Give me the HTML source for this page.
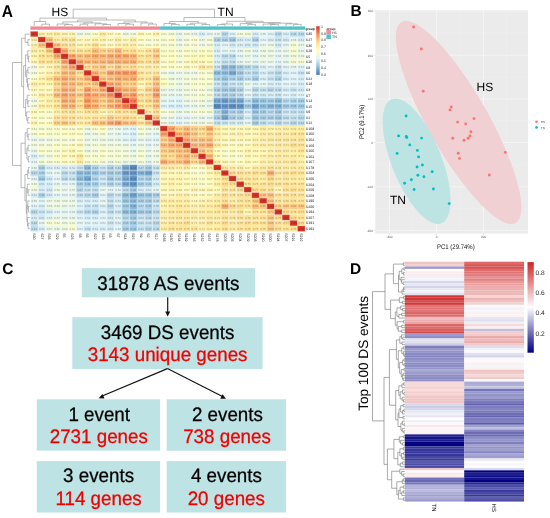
<!DOCTYPE html>
<html><head><meta charset="utf-8"><style>html,body{margin:0;padding:0;background:#fff;width:550px;height:518px;overflow:hidden}svg{display:block;will-change:transform;filter:blur(0.35px)}text{text-rendering:geometricPrecision}</style></head>
<body><svg width="550" height="518" viewBox="0 0 550 518">
<g id="heatA">
<rect x="30.40" y="31.30" width="7.63" height="5.56" fill="#d73027"/>
<rect x="38.03" y="31.30" width="7.63" height="5.56" fill="#fff4af"/>
<rect x="45.66" y="31.30" width="7.63" height="5.56" fill="#fff2ab"/>
<rect x="53.29" y="31.30" width="7.63" height="5.56" fill="#feeca3"/>
<rect x="60.92" y="31.30" width="7.63" height="5.56" fill="#fff4af"/>
<rect x="68.55" y="31.30" width="7.63" height="5.56" fill="#fff4af"/>
<rect x="76.18" y="31.30" width="7.63" height="5.56" fill="#ecf8e1"/>
<rect x="83.81" y="31.30" width="7.63" height="5.56" fill="#eff9dc"/>
<rect x="91.44" y="31.30" width="7.63" height="5.56" fill="#fcfec4"/>
<rect x="99.07" y="31.30" width="7.63" height="5.56" fill="#feeca3"/>
<rect x="106.70" y="31.30" width="7.63" height="5.56" fill="#fffab7"/>
<rect x="114.33" y="31.30" width="7.63" height="5.56" fill="#ffffbf"/>
<rect x="121.96" y="31.30" width="7.63" height="5.56" fill="#ecf8e1"/>
<rect x="129.59" y="31.30" width="7.63" height="5.56" fill="#f2fad7"/>
<rect x="137.22" y="31.30" width="7.63" height="5.56" fill="#fff7b3"/>
<rect x="144.85" y="31.30" width="7.63" height="5.56" fill="#ffffbf"/>
<rect x="152.48" y="31.30" width="7.63" height="5.56" fill="#fff2ab"/>
<rect x="160.11" y="31.30" width="7.63" height="5.56" fill="#f7fcce"/>
<rect x="167.74" y="31.30" width="7.63" height="5.56" fill="#f2fad7"/>
<rect x="175.37" y="31.30" width="7.63" height="5.56" fill="#e7f6eb"/>
<rect x="183.00" y="31.30" width="7.63" height="5.56" fill="#f2fad7"/>
<rect x="190.63" y="31.30" width="7.63" height="5.56" fill="#e7f6eb"/>
<rect x="198.26" y="31.30" width="7.63" height="5.56" fill="#d7edf5"/>
<rect x="205.89" y="31.30" width="7.63" height="5.56" fill="#e2f4f5"/>
<rect x="213.52" y="31.30" width="7.63" height="5.56" fill="#e7f6eb"/>
<rect x="221.15" y="31.30" width="7.63" height="5.56" fill="#b5d7e8"/>
<rect x="228.78" y="31.30" width="7.63" height="5.56" fill="#def2f7"/>
<rect x="236.41" y="31.30" width="7.63" height="5.56" fill="#f2fad7"/>
<rect x="244.04" y="31.30" width="7.63" height="5.56" fill="#eff9dc"/>
<rect x="251.67" y="31.30" width="7.63" height="5.56" fill="#d7edf5"/>
<rect x="259.30" y="31.30" width="7.63" height="5.56" fill="#e4f5f0"/>
<rect x="266.93" y="31.30" width="7.63" height="5.56" fill="#def2f7"/>
<rect x="274.56" y="31.30" width="7.63" height="5.56" fill="#b5d7e8"/>
<rect x="282.19" y="31.30" width="7.63" height="5.56" fill="#d7edf5"/>
<rect x="289.82" y="31.30" width="7.63" height="5.56" fill="#bcdbeb"/>
<rect x="297.45" y="31.30" width="7.63" height="5.56" fill="#bcdbeb"/>
<rect x="30.40" y="36.86" width="7.63" height="5.56" fill="#fff4af"/>
<rect x="38.03" y="36.86" width="7.63" height="5.56" fill="#d73027"/>
<rect x="45.66" y="36.86" width="7.63" height="5.56" fill="#fdc880"/>
<rect x="53.29" y="36.86" width="7.63" height="5.56" fill="#feefa7"/>
<rect x="60.92" y="36.86" width="7.63" height="5.56" fill="#fee293"/>
<rect x="68.55" y="36.86" width="7.63" height="5.56" fill="#fee293"/>
<rect x="76.18" y="36.86" width="7.63" height="5.56" fill="#fffab7"/>
<rect x="83.81" y="36.86" width="7.63" height="5.56" fill="#fffab7"/>
<rect x="91.44" y="36.86" width="7.63" height="5.56" fill="#fff2ab"/>
<rect x="99.07" y="36.86" width="7.63" height="5.56" fill="#fff2ab"/>
<rect x="106.70" y="36.86" width="7.63" height="5.56" fill="#fffab7"/>
<rect x="114.33" y="36.86" width="7.63" height="5.56" fill="#feeca3"/>
<rect x="121.96" y="36.86" width="7.63" height="5.56" fill="#fffab7"/>
<rect x="129.59" y="36.86" width="7.63" height="5.56" fill="#feeca3"/>
<rect x="137.22" y="36.86" width="7.63" height="5.56" fill="#ffffbf"/>
<rect x="144.85" y="36.86" width="7.63" height="5.56" fill="#fafdc9"/>
<rect x="152.48" y="36.86" width="7.63" height="5.56" fill="#fcfec4"/>
<rect x="160.11" y="36.86" width="7.63" height="5.56" fill="#f4fbd3"/>
<rect x="167.74" y="36.86" width="7.63" height="5.56" fill="#ffffbf"/>
<rect x="175.37" y="36.86" width="7.63" height="5.56" fill="#e7f6eb"/>
<rect x="183.00" y="36.86" width="7.63" height="5.56" fill="#f4fbd3"/>
<rect x="190.63" y="36.86" width="7.63" height="5.56" fill="#fcfec4"/>
<rect x="198.26" y="36.86" width="7.63" height="5.56" fill="#eaf7e6"/>
<rect x="205.89" y="36.86" width="7.63" height="5.56" fill="#f4fbd3"/>
<rect x="213.52" y="36.86" width="7.63" height="5.56" fill="#aed2e6"/>
<rect x="221.15" y="36.86" width="7.63" height="5.56" fill="#aed2e6"/>
<rect x="228.78" y="36.86" width="7.63" height="5.56" fill="#a1c9e1"/>
<rect x="236.41" y="36.86" width="7.63" height="5.56" fill="#d0e9f2"/>
<rect x="244.04" y="36.86" width="7.63" height="5.56" fill="#d7edf5"/>
<rect x="251.67" y="36.86" width="7.63" height="5.56" fill="#aed2e6"/>
<rect x="259.30" y="36.86" width="7.63" height="5.56" fill="#e2f4f5"/>
<rect x="266.93" y="36.86" width="7.63" height="5.56" fill="#d7edf5"/>
<rect x="274.56" y="36.86" width="7.63" height="5.56" fill="#c9e4f0"/>
<rect x="282.19" y="36.86" width="7.63" height="5.56" fill="#d0e9f2"/>
<rect x="289.82" y="36.86" width="7.63" height="5.56" fill="#e7f6eb"/>
<rect x="297.45" y="36.86" width="7.63" height="5.56" fill="#d7edf5"/>
<rect x="30.40" y="42.42" width="7.63" height="5.56" fill="#fff2ab"/>
<rect x="38.03" y="42.42" width="7.63" height="5.56" fill="#fdc880"/>
<rect x="45.66" y="42.42" width="7.63" height="5.56" fill="#d73027"/>
<rect x="53.29" y="42.42" width="7.63" height="5.56" fill="#fdc880"/>
<rect x="60.92" y="42.42" width="7.63" height="5.56" fill="#fee293"/>
<rect x="68.55" y="42.42" width="7.63" height="5.56" fill="#fee497"/>
<rect x="76.18" y="42.42" width="7.63" height="5.56" fill="#fff7b3"/>
<rect x="83.81" y="42.42" width="7.63" height="5.56" fill="#fff2ab"/>
<rect x="91.44" y="42.42" width="7.63" height="5.56" fill="#fee293"/>
<rect x="99.07" y="42.42" width="7.63" height="5.56" fill="#fff7b3"/>
<rect x="106.70" y="42.42" width="7.63" height="5.56" fill="#fffab7"/>
<rect x="114.33" y="42.42" width="7.63" height="5.56" fill="#fff2ab"/>
<rect x="121.96" y="42.42" width="7.63" height="5.56" fill="#feefa7"/>
<rect x="129.59" y="42.42" width="7.63" height="5.56" fill="#feefa7"/>
<rect x="137.22" y="42.42" width="7.63" height="5.56" fill="#fafdc9"/>
<rect x="144.85" y="42.42" width="7.63" height="5.56" fill="#fafdc9"/>
<rect x="152.48" y="42.42" width="7.63" height="5.56" fill="#ffffbf"/>
<rect x="160.11" y="42.42" width="7.63" height="5.56" fill="#f7fcce"/>
<rect x="167.74" y="42.42" width="7.63" height="5.56" fill="#f7fcce"/>
<rect x="175.37" y="42.42" width="7.63" height="5.56" fill="#ecf8e1"/>
<rect x="183.00" y="42.42" width="7.63" height="5.56" fill="#f4fbd3"/>
<rect x="190.63" y="42.42" width="7.63" height="5.56" fill="#f7fcce"/>
<rect x="198.26" y="42.42" width="7.63" height="5.56" fill="#eff9dc"/>
<rect x="205.89" y="42.42" width="7.63" height="5.56" fill="#f2fad7"/>
<rect x="213.52" y="42.42" width="7.63" height="5.56" fill="#d7edf5"/>
<rect x="221.15" y="42.42" width="7.63" height="5.56" fill="#e2f4f5"/>
<rect x="228.78" y="42.42" width="7.63" height="5.56" fill="#d0e9f2"/>
<rect x="236.41" y="42.42" width="7.63" height="5.56" fill="#d7edf5"/>
<rect x="244.04" y="42.42" width="7.63" height="5.56" fill="#d0e9f2"/>
<rect x="251.67" y="42.42" width="7.63" height="5.56" fill="#d0e9f2"/>
<rect x="259.30" y="42.42" width="7.63" height="5.56" fill="#eaf7e6"/>
<rect x="266.93" y="42.42" width="7.63" height="5.56" fill="#ecf8e1"/>
<rect x="274.56" y="42.42" width="7.63" height="5.56" fill="#d0e9f2"/>
<rect x="282.19" y="42.42" width="7.63" height="5.56" fill="#e4f5f0"/>
<rect x="289.82" y="42.42" width="7.63" height="5.56" fill="#f4fbd3"/>
<rect x="297.45" y="42.42" width="7.63" height="5.56" fill="#eaf7e6"/>
<rect x="30.40" y="47.98" width="7.63" height="5.56" fill="#feeca3"/>
<rect x="38.03" y="47.98" width="7.63" height="5.56" fill="#feefa7"/>
<rect x="45.66" y="47.98" width="7.63" height="5.56" fill="#fdc880"/>
<rect x="53.29" y="47.98" width="7.63" height="5.56" fill="#d73027"/>
<rect x="60.92" y="47.98" width="7.63" height="5.56" fill="#fdac6d"/>
<rect x="68.55" y="47.98" width="7.63" height="5.56" fill="#fee293"/>
<rect x="76.18" y="47.98" width="7.63" height="5.56" fill="#fee497"/>
<rect x="83.81" y="47.98" width="7.63" height="5.56" fill="#fee293"/>
<rect x="91.44" y="47.98" width="7.63" height="5.56" fill="#fdc17c"/>
<rect x="99.07" y="47.98" width="7.63" height="5.56" fill="#fed78a"/>
<rect x="106.70" y="47.98" width="7.63" height="5.56" fill="#fecf85"/>
<rect x="114.33" y="47.98" width="7.63" height="5.56" fill="#fdba77"/>
<rect x="121.96" y="47.98" width="7.63" height="5.56" fill="#fee497"/>
<rect x="129.59" y="47.98" width="7.63" height="5.56" fill="#fee293"/>
<rect x="137.22" y="47.98" width="7.63" height="5.56" fill="#feefa7"/>
<rect x="144.85" y="47.98" width="7.63" height="5.56" fill="#fee497"/>
<rect x="152.48" y="47.98" width="7.63" height="5.56" fill="#fecf85"/>
<rect x="160.11" y="47.98" width="7.63" height="5.56" fill="#fafdc9"/>
<rect x="167.74" y="47.98" width="7.63" height="5.56" fill="#fafdc9"/>
<rect x="175.37" y="47.98" width="7.63" height="5.56" fill="#f2fad7"/>
<rect x="183.00" y="47.98" width="7.63" height="5.56" fill="#fcfec4"/>
<rect x="190.63" y="47.98" width="7.63" height="5.56" fill="#f7fcce"/>
<rect x="198.26" y="47.98" width="7.63" height="5.56" fill="#fcfec4"/>
<rect x="205.89" y="47.98" width="7.63" height="5.56" fill="#fafdc9"/>
<rect x="213.52" y="47.98" width="7.63" height="5.56" fill="#d7edf5"/>
<rect x="221.15" y="47.98" width="7.63" height="5.56" fill="#e7f6eb"/>
<rect x="228.78" y="47.98" width="7.63" height="5.56" fill="#e2f4f5"/>
<rect x="236.41" y="47.98" width="7.63" height="5.56" fill="#e4f5f0"/>
<rect x="244.04" y="47.98" width="7.63" height="5.56" fill="#eff9dc"/>
<rect x="251.67" y="47.98" width="7.63" height="5.56" fill="#e2f4f5"/>
<rect x="259.30" y="47.98" width="7.63" height="5.56" fill="#ecf8e1"/>
<rect x="266.93" y="47.98" width="7.63" height="5.56" fill="#ecf8e1"/>
<rect x="274.56" y="47.98" width="7.63" height="5.56" fill="#e2f4f5"/>
<rect x="282.19" y="47.98" width="7.63" height="5.56" fill="#eaf7e6"/>
<rect x="289.82" y="47.98" width="7.63" height="5.56" fill="#f7fcce"/>
<rect x="297.45" y="47.98" width="7.63" height="5.56" fill="#e7f6eb"/>
<rect x="30.40" y="53.54" width="7.63" height="5.56" fill="#fff4af"/>
<rect x="38.03" y="53.54" width="7.63" height="5.56" fill="#fee293"/>
<rect x="45.66" y="53.54" width="7.63" height="5.56" fill="#fee293"/>
<rect x="53.29" y="53.54" width="7.63" height="5.56" fill="#fdac6d"/>
<rect x="60.92" y="53.54" width="7.63" height="5.56" fill="#d73027"/>
<rect x="68.55" y="53.54" width="7.63" height="5.56" fill="#fda569"/>
<rect x="76.18" y="53.54" width="7.63" height="5.56" fill="#fdc17c"/>
<rect x="83.81" y="53.54" width="7.63" height="5.56" fill="#fdba77"/>
<rect x="91.44" y="53.54" width="7.63" height="5.56" fill="#fdac6d"/>
<rect x="99.07" y="53.54" width="7.63" height="5.56" fill="#fdb372"/>
<rect x="106.70" y="53.54" width="7.63" height="5.56" fill="#fdac6d"/>
<rect x="114.33" y="53.54" width="7.63" height="5.56" fill="#fda569"/>
<rect x="121.96" y="53.54" width="7.63" height="5.56" fill="#fdac6d"/>
<rect x="129.59" y="53.54" width="7.63" height="5.56" fill="#fdb372"/>
<rect x="137.22" y="53.54" width="7.63" height="5.56" fill="#fee497"/>
<rect x="144.85" y="53.54" width="7.63" height="5.56" fill="#fede8e"/>
<rect x="152.48" y="53.54" width="7.63" height="5.56" fill="#fdc880"/>
<rect x="160.11" y="53.54" width="7.63" height="5.56" fill="#fcfec4"/>
<rect x="167.74" y="53.54" width="7.63" height="5.56" fill="#ffffbf"/>
<rect x="175.37" y="53.54" width="7.63" height="5.56" fill="#f4fbd3"/>
<rect x="183.00" y="53.54" width="7.63" height="5.56" fill="#fcfec4"/>
<rect x="190.63" y="53.54" width="7.63" height="5.56" fill="#fffab7"/>
<rect x="198.26" y="53.54" width="7.63" height="5.56" fill="#fffab7"/>
<rect x="205.89" y="53.54" width="7.63" height="5.56" fill="#fffcbb"/>
<rect x="213.52" y="53.54" width="7.63" height="5.56" fill="#d7edf5"/>
<rect x="221.15" y="53.54" width="7.63" height="5.56" fill="#bcdbeb"/>
<rect x="228.78" y="53.54" width="7.63" height="5.56" fill="#bcdbeb"/>
<rect x="236.41" y="53.54" width="7.63" height="5.56" fill="#e2f4f5"/>
<rect x="244.04" y="53.54" width="7.63" height="5.56" fill="#eaf7e6"/>
<rect x="251.67" y="53.54" width="7.63" height="5.56" fill="#e2f4f5"/>
<rect x="259.30" y="53.54" width="7.63" height="5.56" fill="#ecf8e1"/>
<rect x="266.93" y="53.54" width="7.63" height="5.56" fill="#eaf7e6"/>
<rect x="274.56" y="53.54" width="7.63" height="5.56" fill="#e2f4f5"/>
<rect x="282.19" y="53.54" width="7.63" height="5.56" fill="#e7f6eb"/>
<rect x="289.82" y="53.54" width="7.63" height="5.56" fill="#eff9dc"/>
<rect x="297.45" y="53.54" width="7.63" height="5.56" fill="#ecf8e1"/>
<rect x="30.40" y="59.10" width="7.63" height="5.56" fill="#fff4af"/>
<rect x="38.03" y="59.10" width="7.63" height="5.56" fill="#fee293"/>
<rect x="45.66" y="59.10" width="7.63" height="5.56" fill="#fee497"/>
<rect x="53.29" y="59.10" width="7.63" height="5.56" fill="#fee293"/>
<rect x="60.92" y="59.10" width="7.63" height="5.56" fill="#fda569"/>
<rect x="68.55" y="59.10" width="7.63" height="5.56" fill="#d73027"/>
<rect x="76.18" y="59.10" width="7.63" height="5.56" fill="#fda569"/>
<rect x="83.81" y="59.10" width="7.63" height="5.56" fill="#fdba77"/>
<rect x="91.44" y="59.10" width="7.63" height="5.56" fill="#fdba77"/>
<rect x="99.07" y="59.10" width="7.63" height="5.56" fill="#fdba77"/>
<rect x="106.70" y="59.10" width="7.63" height="5.56" fill="#fdb372"/>
<rect x="114.33" y="59.10" width="7.63" height="5.56" fill="#fdb372"/>
<rect x="121.96" y="59.10" width="7.63" height="5.56" fill="#fdb372"/>
<rect x="129.59" y="59.10" width="7.63" height="5.56" fill="#fdb372"/>
<rect x="137.22" y="59.10" width="7.63" height="5.56" fill="#fee293"/>
<rect x="144.85" y="59.10" width="7.63" height="5.56" fill="#fee293"/>
<rect x="152.48" y="59.10" width="7.63" height="5.56" fill="#fed78a"/>
<rect x="160.11" y="59.10" width="7.63" height="5.56" fill="#f7fcce"/>
<rect x="167.74" y="59.10" width="7.63" height="5.56" fill="#fffab7"/>
<rect x="175.37" y="59.10" width="7.63" height="5.56" fill="#f2fad7"/>
<rect x="183.00" y="59.10" width="7.63" height="5.56" fill="#fffcbb"/>
<rect x="190.63" y="59.10" width="7.63" height="5.56" fill="#fff2ab"/>
<rect x="198.26" y="59.10" width="7.63" height="5.56" fill="#fff7b3"/>
<rect x="205.89" y="59.10" width="7.63" height="5.56" fill="#fffcbb"/>
<rect x="213.52" y="59.10" width="7.63" height="5.56" fill="#d7edf5"/>
<rect x="221.15" y="59.10" width="7.63" height="5.56" fill="#c3e0ed"/>
<rect x="228.78" y="59.10" width="7.63" height="5.56" fill="#c3e0ed"/>
<rect x="236.41" y="59.10" width="7.63" height="5.56" fill="#e4f5f0"/>
<rect x="244.04" y="59.10" width="7.63" height="5.56" fill="#eaf7e6"/>
<rect x="251.67" y="59.10" width="7.63" height="5.56" fill="#e4f5f0"/>
<rect x="259.30" y="59.10" width="7.63" height="5.56" fill="#eaf7e6"/>
<rect x="266.93" y="59.10" width="7.63" height="5.56" fill="#eaf7e6"/>
<rect x="274.56" y="59.10" width="7.63" height="5.56" fill="#e2f4f5"/>
<rect x="282.19" y="59.10" width="7.63" height="5.56" fill="#e7f6eb"/>
<rect x="289.82" y="59.10" width="7.63" height="5.56" fill="#f4fbd3"/>
<rect x="297.45" y="59.10" width="7.63" height="5.56" fill="#f7fcce"/>
<rect x="30.40" y="64.66" width="7.63" height="5.56" fill="#ecf8e1"/>
<rect x="38.03" y="64.66" width="7.63" height="5.56" fill="#fffab7"/>
<rect x="45.66" y="64.66" width="7.63" height="5.56" fill="#fff7b3"/>
<rect x="53.29" y="64.66" width="7.63" height="5.56" fill="#fee497"/>
<rect x="60.92" y="64.66" width="7.63" height="5.56" fill="#fdc17c"/>
<rect x="68.55" y="64.66" width="7.63" height="5.56" fill="#fda569"/>
<rect x="76.18" y="64.66" width="7.63" height="5.56" fill="#d73027"/>
<rect x="83.81" y="64.66" width="7.63" height="5.56" fill="#fede8e"/>
<rect x="91.44" y="64.66" width="7.63" height="5.56" fill="#fecf85"/>
<rect x="99.07" y="64.66" width="7.63" height="5.56" fill="#fdc880"/>
<rect x="106.70" y="64.66" width="7.63" height="5.56" fill="#fee293"/>
<rect x="114.33" y="64.66" width="7.63" height="5.56" fill="#fdc880"/>
<rect x="121.96" y="64.66" width="7.63" height="5.56" fill="#fee293"/>
<rect x="129.59" y="64.66" width="7.63" height="5.56" fill="#fede8e"/>
<rect x="137.22" y="64.66" width="7.63" height="5.56" fill="#feefa7"/>
<rect x="144.85" y="64.66" width="7.63" height="5.56" fill="#feea9f"/>
<rect x="152.48" y="64.66" width="7.63" height="5.56" fill="#feeca3"/>
<rect x="160.11" y="64.66" width="7.63" height="5.56" fill="#fffcbb"/>
<rect x="167.74" y="64.66" width="7.63" height="5.56" fill="#fcfec4"/>
<rect x="175.37" y="64.66" width="7.63" height="5.56" fill="#fcfec4"/>
<rect x="183.00" y="64.66" width="7.63" height="5.56" fill="#fff7b3"/>
<rect x="190.63" y="64.66" width="7.63" height="5.56" fill="#ffffbf"/>
<rect x="198.26" y="64.66" width="7.63" height="5.56" fill="#fee79b"/>
<rect x="205.89" y="64.66" width="7.63" height="5.56" fill="#feeca3"/>
<rect x="213.52" y="64.66" width="7.63" height="5.56" fill="#c9e4f0"/>
<rect x="221.15" y="64.66" width="7.63" height="5.56" fill="#8dbbd9"/>
<rect x="228.78" y="64.66" width="7.63" height="5.56" fill="#8dbbd9"/>
<rect x="236.41" y="64.66" width="7.63" height="5.56" fill="#a8cee3"/>
<rect x="244.04" y="64.66" width="7.63" height="5.56" fill="#b5d7e8"/>
<rect x="251.67" y="64.66" width="7.63" height="5.56" fill="#bcdbeb"/>
<rect x="259.30" y="64.66" width="7.63" height="5.56" fill="#d7edf5"/>
<rect x="266.93" y="64.66" width="7.63" height="5.56" fill="#def2f7"/>
<rect x="274.56" y="64.66" width="7.63" height="5.56" fill="#c9e4f0"/>
<rect x="282.19" y="64.66" width="7.63" height="5.56" fill="#def2f7"/>
<rect x="289.82" y="64.66" width="7.63" height="5.56" fill="#e4f5f0"/>
<rect x="297.45" y="64.66" width="7.63" height="5.56" fill="#def2f7"/>
<rect x="30.40" y="70.22" width="7.63" height="5.56" fill="#eff9dc"/>
<rect x="38.03" y="70.22" width="7.63" height="5.56" fill="#fffab7"/>
<rect x="45.66" y="70.22" width="7.63" height="5.56" fill="#fff2ab"/>
<rect x="53.29" y="70.22" width="7.63" height="5.56" fill="#fee293"/>
<rect x="60.92" y="70.22" width="7.63" height="5.56" fill="#fdba77"/>
<rect x="68.55" y="70.22" width="7.63" height="5.56" fill="#fdba77"/>
<rect x="76.18" y="70.22" width="7.63" height="5.56" fill="#fede8e"/>
<rect x="83.81" y="70.22" width="7.63" height="5.56" fill="#d73027"/>
<rect x="91.44" y="70.22" width="7.63" height="5.56" fill="#fdb372"/>
<rect x="99.07" y="70.22" width="7.63" height="5.56" fill="#fecf85"/>
<rect x="106.70" y="70.22" width="7.63" height="5.56" fill="#fc9e64"/>
<rect x="114.33" y="70.22" width="7.63" height="5.56" fill="#fc9e64"/>
<rect x="121.96" y="70.22" width="7.63" height="5.56" fill="#fc965f"/>
<rect x="129.59" y="70.22" width="7.63" height="5.56" fill="#fc9e64"/>
<rect x="137.22" y="70.22" width="7.63" height="5.56" fill="#fee497"/>
<rect x="144.85" y="70.22" width="7.63" height="5.56" fill="#feea9f"/>
<rect x="152.48" y="70.22" width="7.63" height="5.56" fill="#fee79b"/>
<rect x="160.11" y="70.22" width="7.63" height="5.56" fill="#ecf8e1"/>
<rect x="167.74" y="70.22" width="7.63" height="5.56" fill="#e7f6eb"/>
<rect x="175.37" y="70.22" width="7.63" height="5.56" fill="#eaf7e6"/>
<rect x="183.00" y="70.22" width="7.63" height="5.56" fill="#ecf8e1"/>
<rect x="190.63" y="70.22" width="7.63" height="5.56" fill="#ecf8e1"/>
<rect x="198.26" y="70.22" width="7.63" height="5.56" fill="#f7fcce"/>
<rect x="205.89" y="70.22" width="7.63" height="5.56" fill="#f7fcce"/>
<rect x="213.52" y="70.22" width="7.63" height="5.56" fill="#8dbbd9"/>
<rect x="221.15" y="70.22" width="7.63" height="5.56" fill="#8dbbd9"/>
<rect x="228.78" y="70.22" width="7.63" height="5.56" fill="#79a8cf"/>
<rect x="236.41" y="70.22" width="7.63" height="5.56" fill="#a1c9e1"/>
<rect x="244.04" y="70.22" width="7.63" height="5.56" fill="#c3e0ed"/>
<rect x="251.67" y="70.22" width="7.63" height="5.56" fill="#b5d7e8"/>
<rect x="259.30" y="70.22" width="7.63" height="5.56" fill="#d7edf5"/>
<rect x="266.93" y="70.22" width="7.63" height="5.56" fill="#c9e4f0"/>
<rect x="274.56" y="70.22" width="7.63" height="5.56" fill="#b5d7e8"/>
<rect x="282.19" y="70.22" width="7.63" height="5.56" fill="#d7edf5"/>
<rect x="289.82" y="70.22" width="7.63" height="5.56" fill="#def2f7"/>
<rect x="297.45" y="70.22" width="7.63" height="5.56" fill="#c9e4f0"/>
<rect x="30.40" y="75.78" width="7.63" height="5.56" fill="#fcfec4"/>
<rect x="38.03" y="75.78" width="7.63" height="5.56" fill="#fff2ab"/>
<rect x="45.66" y="75.78" width="7.63" height="5.56" fill="#fee293"/>
<rect x="53.29" y="75.78" width="7.63" height="5.56" fill="#fdc17c"/>
<rect x="60.92" y="75.78" width="7.63" height="5.56" fill="#fdac6d"/>
<rect x="68.55" y="75.78" width="7.63" height="5.56" fill="#fdba77"/>
<rect x="76.18" y="75.78" width="7.63" height="5.56" fill="#fecf85"/>
<rect x="83.81" y="75.78" width="7.63" height="5.56" fill="#fdb372"/>
<rect x="91.44" y="75.78" width="7.63" height="5.56" fill="#d73027"/>
<rect x="99.07" y="75.78" width="7.63" height="5.56" fill="#fdc880"/>
<rect x="106.70" y="75.78" width="7.63" height="5.56" fill="#fdc17c"/>
<rect x="114.33" y="75.78" width="7.63" height="5.56" fill="#fdac6d"/>
<rect x="121.96" y="75.78" width="7.63" height="5.56" fill="#fdb372"/>
<rect x="129.59" y="75.78" width="7.63" height="5.56" fill="#fdac6d"/>
<rect x="137.22" y="75.78" width="7.63" height="5.56" fill="#fee497"/>
<rect x="144.85" y="75.78" width="7.63" height="5.56" fill="#fee79b"/>
<rect x="152.48" y="75.78" width="7.63" height="5.56" fill="#fdc17c"/>
<rect x="160.11" y="75.78" width="7.63" height="5.56" fill="#fafdc9"/>
<rect x="167.74" y="75.78" width="7.63" height="5.56" fill="#ecf8e1"/>
<rect x="175.37" y="75.78" width="7.63" height="5.56" fill="#eaf7e6"/>
<rect x="183.00" y="75.78" width="7.63" height="5.56" fill="#f4fbd3"/>
<rect x="190.63" y="75.78" width="7.63" height="5.56" fill="#f2fad7"/>
<rect x="198.26" y="75.78" width="7.63" height="5.56" fill="#f7fcce"/>
<rect x="205.89" y="75.78" width="7.63" height="5.56" fill="#fafdc9"/>
<rect x="213.52" y="75.78" width="7.63" height="5.56" fill="#aed2e6"/>
<rect x="221.15" y="75.78" width="7.63" height="5.56" fill="#9ac5de"/>
<rect x="228.78" y="75.78" width="7.63" height="5.56" fill="#aed2e6"/>
<rect x="236.41" y="75.78" width="7.63" height="5.56" fill="#a8cee3"/>
<rect x="244.04" y="75.78" width="7.63" height="5.56" fill="#c3e0ed"/>
<rect x="251.67" y="75.78" width="7.63" height="5.56" fill="#a8cee3"/>
<rect x="259.30" y="75.78" width="7.63" height="5.56" fill="#d7edf5"/>
<rect x="266.93" y="75.78" width="7.63" height="5.56" fill="#c9e4f0"/>
<rect x="274.56" y="75.78" width="7.63" height="5.56" fill="#aed2e6"/>
<rect x="282.19" y="75.78" width="7.63" height="5.56" fill="#d7edf5"/>
<rect x="289.82" y="75.78" width="7.63" height="5.56" fill="#def2f7"/>
<rect x="297.45" y="75.78" width="7.63" height="5.56" fill="#d7edf5"/>
<rect x="30.40" y="81.34" width="7.63" height="5.56" fill="#feeca3"/>
<rect x="38.03" y="81.34" width="7.63" height="5.56" fill="#fff2ab"/>
<rect x="45.66" y="81.34" width="7.63" height="5.56" fill="#fff7b3"/>
<rect x="53.29" y="81.34" width="7.63" height="5.56" fill="#fed78a"/>
<rect x="60.92" y="81.34" width="7.63" height="5.56" fill="#fdb372"/>
<rect x="68.55" y="81.34" width="7.63" height="5.56" fill="#fdba77"/>
<rect x="76.18" y="81.34" width="7.63" height="5.56" fill="#fdc880"/>
<rect x="83.81" y="81.34" width="7.63" height="5.56" fill="#fecf85"/>
<rect x="91.44" y="81.34" width="7.63" height="5.56" fill="#fdc880"/>
<rect x="99.07" y="81.34" width="7.63" height="5.56" fill="#d73027"/>
<rect x="106.70" y="81.34" width="7.63" height="5.56" fill="#fdac6d"/>
<rect x="114.33" y="81.34" width="7.63" height="5.56" fill="#fdb372"/>
<rect x="121.96" y="81.34" width="7.63" height="5.56" fill="#fecf85"/>
<rect x="129.59" y="81.34" width="7.63" height="5.56" fill="#fecf85"/>
<rect x="137.22" y="81.34" width="7.63" height="5.56" fill="#fff7b3"/>
<rect x="144.85" y="81.34" width="7.63" height="5.56" fill="#fee79b"/>
<rect x="152.48" y="81.34" width="7.63" height="5.56" fill="#fdc17c"/>
<rect x="160.11" y="81.34" width="7.63" height="5.56" fill="#fffab7"/>
<rect x="167.74" y="81.34" width="7.63" height="5.56" fill="#f4fbd3"/>
<rect x="175.37" y="81.34" width="7.63" height="5.56" fill="#ecf8e1"/>
<rect x="183.00" y="81.34" width="7.63" height="5.56" fill="#f2fad7"/>
<rect x="190.63" y="81.34" width="7.63" height="5.56" fill="#fcfec4"/>
<rect x="198.26" y="81.34" width="7.63" height="5.56" fill="#fafdc9"/>
<rect x="205.89" y="81.34" width="7.63" height="5.56" fill="#f4fbd3"/>
<rect x="213.52" y="81.34" width="7.63" height="5.56" fill="#c9e4f0"/>
<rect x="221.15" y="81.34" width="7.63" height="5.56" fill="#aed2e6"/>
<rect x="228.78" y="81.34" width="7.63" height="5.56" fill="#c9e4f0"/>
<rect x="236.41" y="81.34" width="7.63" height="5.56" fill="#c9e4f0"/>
<rect x="244.04" y="81.34" width="7.63" height="5.56" fill="#eaf7e6"/>
<rect x="251.67" y="81.34" width="7.63" height="5.56" fill="#def2f7"/>
<rect x="259.30" y="81.34" width="7.63" height="5.56" fill="#e7f6eb"/>
<rect x="266.93" y="81.34" width="7.63" height="5.56" fill="#d7edf5"/>
<rect x="274.56" y="81.34" width="7.63" height="5.56" fill="#d7edf5"/>
<rect x="282.19" y="81.34" width="7.63" height="5.56" fill="#e2f4f5"/>
<rect x="289.82" y="81.34" width="7.63" height="5.56" fill="#def2f7"/>
<rect x="297.45" y="81.34" width="7.63" height="5.56" fill="#d7edf5"/>
<rect x="30.40" y="86.90" width="7.63" height="5.56" fill="#fffab7"/>
<rect x="38.03" y="86.90" width="7.63" height="5.56" fill="#fffab7"/>
<rect x="45.66" y="86.90" width="7.63" height="5.56" fill="#fffab7"/>
<rect x="53.29" y="86.90" width="7.63" height="5.56" fill="#fecf85"/>
<rect x="60.92" y="86.90" width="7.63" height="5.56" fill="#fdac6d"/>
<rect x="68.55" y="86.90" width="7.63" height="5.56" fill="#fdb372"/>
<rect x="76.18" y="86.90" width="7.63" height="5.56" fill="#fee293"/>
<rect x="83.81" y="86.90" width="7.63" height="5.56" fill="#fc9e64"/>
<rect x="91.44" y="86.90" width="7.63" height="5.56" fill="#fdc17c"/>
<rect x="99.07" y="86.90" width="7.63" height="5.56" fill="#fdac6d"/>
<rect x="106.70" y="86.90" width="7.63" height="5.56" fill="#d73027"/>
<rect x="114.33" y="86.90" width="7.63" height="5.56" fill="#fc965f"/>
<rect x="121.96" y="86.90" width="7.63" height="5.56" fill="#fdb372"/>
<rect x="129.59" y="86.90" width="7.63" height="5.56" fill="#fdb372"/>
<rect x="137.22" y="86.90" width="7.63" height="5.56" fill="#feefa7"/>
<rect x="144.85" y="86.90" width="7.63" height="5.56" fill="#fecf85"/>
<rect x="152.48" y="86.90" width="7.63" height="5.56" fill="#fdac6d"/>
<rect x="160.11" y="86.90" width="7.63" height="5.56" fill="#eaf7e6"/>
<rect x="167.74" y="86.90" width="7.63" height="5.56" fill="#eaf7e6"/>
<rect x="175.37" y="86.90" width="7.63" height="5.56" fill="#e7f6eb"/>
<rect x="183.00" y="86.90" width="7.63" height="5.56" fill="#eff9dc"/>
<rect x="190.63" y="86.90" width="7.63" height="5.56" fill="#f4fbd3"/>
<rect x="198.26" y="86.90" width="7.63" height="5.56" fill="#f7fcce"/>
<rect x="205.89" y="86.90" width="7.63" height="5.56" fill="#ecf8e1"/>
<rect x="213.52" y="86.90" width="7.63" height="5.56" fill="#aed2e6"/>
<rect x="221.15" y="86.90" width="7.63" height="5.56" fill="#a1c9e1"/>
<rect x="228.78" y="86.90" width="7.63" height="5.56" fill="#a1c9e1"/>
<rect x="236.41" y="86.90" width="7.63" height="5.56" fill="#aed2e6"/>
<rect x="244.04" y="86.90" width="7.63" height="5.56" fill="#e2f4f5"/>
<rect x="251.67" y="86.90" width="7.63" height="5.56" fill="#b5d7e8"/>
<rect x="259.30" y="86.90" width="7.63" height="5.56" fill="#c3e0ed"/>
<rect x="266.93" y="86.90" width="7.63" height="5.56" fill="#b5d7e8"/>
<rect x="274.56" y="86.90" width="7.63" height="5.56" fill="#bcdbeb"/>
<rect x="282.19" y="86.90" width="7.63" height="5.56" fill="#d0e9f2"/>
<rect x="289.82" y="86.90" width="7.63" height="5.56" fill="#c9e4f0"/>
<rect x="297.45" y="86.90" width="7.63" height="5.56" fill="#d0e9f2"/>
<rect x="30.40" y="92.46" width="7.63" height="5.56" fill="#ffffbf"/>
<rect x="38.03" y="92.46" width="7.63" height="5.56" fill="#feeca3"/>
<rect x="45.66" y="92.46" width="7.63" height="5.56" fill="#fff2ab"/>
<rect x="53.29" y="92.46" width="7.63" height="5.56" fill="#fdba77"/>
<rect x="60.92" y="92.46" width="7.63" height="5.56" fill="#fda569"/>
<rect x="68.55" y="92.46" width="7.63" height="5.56" fill="#fdb372"/>
<rect x="76.18" y="92.46" width="7.63" height="5.56" fill="#fdc880"/>
<rect x="83.81" y="92.46" width="7.63" height="5.56" fill="#fc9e64"/>
<rect x="91.44" y="92.46" width="7.63" height="5.56" fill="#fdac6d"/>
<rect x="99.07" y="92.46" width="7.63" height="5.56" fill="#fdb372"/>
<rect x="106.70" y="92.46" width="7.63" height="5.56" fill="#fc965f"/>
<rect x="114.33" y="92.46" width="7.63" height="5.56" fill="#d73027"/>
<rect x="121.96" y="92.46" width="7.63" height="5.56" fill="#fdac6d"/>
<rect x="129.59" y="92.46" width="7.63" height="5.56" fill="#fc9e64"/>
<rect x="137.22" y="92.46" width="7.63" height="5.56" fill="#fee293"/>
<rect x="144.85" y="92.46" width="7.63" height="5.56" fill="#fede8e"/>
<rect x="152.48" y="92.46" width="7.63" height="5.56" fill="#fc9e64"/>
<rect x="160.11" y="92.46" width="7.63" height="5.56" fill="#ecf8e1"/>
<rect x="167.74" y="92.46" width="7.63" height="5.56" fill="#e7f6eb"/>
<rect x="175.37" y="92.46" width="7.63" height="5.56" fill="#e7f6eb"/>
<rect x="183.00" y="92.46" width="7.63" height="5.56" fill="#f2fad7"/>
<rect x="190.63" y="92.46" width="7.63" height="5.56" fill="#f4fbd3"/>
<rect x="198.26" y="92.46" width="7.63" height="5.56" fill="#f7fcce"/>
<rect x="205.89" y="92.46" width="7.63" height="5.56" fill="#f4fbd3"/>
<rect x="213.52" y="92.46" width="7.63" height="5.56" fill="#bcdbeb"/>
<rect x="221.15" y="92.46" width="7.63" height="5.56" fill="#a8cee3"/>
<rect x="228.78" y="92.46" width="7.63" height="5.56" fill="#aed2e6"/>
<rect x="236.41" y="92.46" width="7.63" height="5.56" fill="#bcdbeb"/>
<rect x="244.04" y="92.46" width="7.63" height="5.56" fill="#e2f4f5"/>
<rect x="251.67" y="92.46" width="7.63" height="5.56" fill="#c9e4f0"/>
<rect x="259.30" y="92.46" width="7.63" height="5.56" fill="#d0e9f2"/>
<rect x="266.93" y="92.46" width="7.63" height="5.56" fill="#d7edf5"/>
<rect x="274.56" y="92.46" width="7.63" height="5.56" fill="#c9e4f0"/>
<rect x="282.19" y="92.46" width="7.63" height="5.56" fill="#def2f7"/>
<rect x="289.82" y="92.46" width="7.63" height="5.56" fill="#d7edf5"/>
<rect x="297.45" y="92.46" width="7.63" height="5.56" fill="#e2f4f5"/>
<rect x="30.40" y="98.02" width="7.63" height="5.56" fill="#ecf8e1"/>
<rect x="38.03" y="98.02" width="7.63" height="5.56" fill="#fffab7"/>
<rect x="45.66" y="98.02" width="7.63" height="5.56" fill="#feefa7"/>
<rect x="53.29" y="98.02" width="7.63" height="5.56" fill="#fee497"/>
<rect x="60.92" y="98.02" width="7.63" height="5.56" fill="#fdac6d"/>
<rect x="68.55" y="98.02" width="7.63" height="5.56" fill="#fdb372"/>
<rect x="76.18" y="98.02" width="7.63" height="5.56" fill="#fee293"/>
<rect x="83.81" y="98.02" width="7.63" height="5.56" fill="#fc965f"/>
<rect x="91.44" y="98.02" width="7.63" height="5.56" fill="#fdb372"/>
<rect x="99.07" y="98.02" width="7.63" height="5.56" fill="#fecf85"/>
<rect x="106.70" y="98.02" width="7.63" height="5.56" fill="#fdb372"/>
<rect x="114.33" y="98.02" width="7.63" height="5.56" fill="#fdac6d"/>
<rect x="121.96" y="98.02" width="7.63" height="5.56" fill="#d73027"/>
<rect x="129.59" y="98.02" width="7.63" height="5.56" fill="#f78052"/>
<rect x="137.22" y="98.02" width="7.63" height="5.56" fill="#fee497"/>
<rect x="144.85" y="98.02" width="7.63" height="5.56" fill="#fed78a"/>
<rect x="152.48" y="98.02" width="7.63" height="5.56" fill="#fdc17c"/>
<rect x="160.11" y="98.02" width="7.63" height="5.56" fill="#e4f5f0"/>
<rect x="167.74" y="98.02" width="7.63" height="5.56" fill="#e2f4f5"/>
<rect x="175.37" y="98.02" width="7.63" height="5.56" fill="#def2f7"/>
<rect x="183.00" y="98.02" width="7.63" height="5.56" fill="#ecf8e1"/>
<rect x="190.63" y="98.02" width="7.63" height="5.56" fill="#f2fad7"/>
<rect x="198.26" y="98.02" width="7.63" height="5.56" fill="#f2fad7"/>
<rect x="205.89" y="98.02" width="7.63" height="5.56" fill="#eaf7e6"/>
<rect x="213.52" y="98.02" width="7.63" height="5.56" fill="#79a8cf"/>
<rect x="221.15" y="98.02" width="7.63" height="5.56" fill="#6c9bc8"/>
<rect x="228.78" y="98.02" width="7.63" height="5.56" fill="#79a8cf"/>
<rect x="236.41" y="98.02" width="7.63" height="5.56" fill="#79a8cf"/>
<rect x="244.04" y="98.02" width="7.63" height="5.56" fill="#bcdbeb"/>
<rect x="251.67" y="98.02" width="7.63" height="5.56" fill="#8dbbd9"/>
<rect x="259.30" y="98.02" width="7.63" height="5.56" fill="#9ac5de"/>
<rect x="266.93" y="98.02" width="7.63" height="5.56" fill="#a1c9e1"/>
<rect x="274.56" y="98.02" width="7.63" height="5.56" fill="#8dbbd9"/>
<rect x="282.19" y="98.02" width="7.63" height="5.56" fill="#b5d7e8"/>
<rect x="289.82" y="98.02" width="7.63" height="5.56" fill="#aed2e6"/>
<rect x="297.45" y="98.02" width="7.63" height="5.56" fill="#a8cee3"/>
<rect x="30.40" y="103.58" width="7.63" height="5.56" fill="#f2fad7"/>
<rect x="38.03" y="103.58" width="7.63" height="5.56" fill="#feeca3"/>
<rect x="45.66" y="103.58" width="7.63" height="5.56" fill="#feefa7"/>
<rect x="53.29" y="103.58" width="7.63" height="5.56" fill="#fee293"/>
<rect x="60.92" y="103.58" width="7.63" height="5.56" fill="#fdb372"/>
<rect x="68.55" y="103.58" width="7.63" height="5.56" fill="#fdb372"/>
<rect x="76.18" y="103.58" width="7.63" height="5.56" fill="#fede8e"/>
<rect x="83.81" y="103.58" width="7.63" height="5.56" fill="#fc9e64"/>
<rect x="91.44" y="103.58" width="7.63" height="5.56" fill="#fdac6d"/>
<rect x="99.07" y="103.58" width="7.63" height="5.56" fill="#fecf85"/>
<rect x="106.70" y="103.58" width="7.63" height="5.56" fill="#fdb372"/>
<rect x="114.33" y="103.58" width="7.63" height="5.56" fill="#fc9e64"/>
<rect x="121.96" y="103.58" width="7.63" height="5.56" fill="#f78052"/>
<rect x="129.59" y="103.58" width="7.63" height="5.56" fill="#d73027"/>
<rect x="137.22" y="103.58" width="7.63" height="5.56" fill="#fee293"/>
<rect x="144.85" y="103.58" width="7.63" height="5.56" fill="#fee497"/>
<rect x="152.48" y="103.58" width="7.63" height="5.56" fill="#fdc17c"/>
<rect x="160.11" y="103.58" width="7.63" height="5.56" fill="#def2f7"/>
<rect x="167.74" y="103.58" width="7.63" height="5.56" fill="#d7edf5"/>
<rect x="175.37" y="103.58" width="7.63" height="5.56" fill="#d7edf5"/>
<rect x="183.00" y="103.58" width="7.63" height="5.56" fill="#e4f5f0"/>
<rect x="190.63" y="103.58" width="7.63" height="5.56" fill="#e7f6eb"/>
<rect x="198.26" y="103.58" width="7.63" height="5.56" fill="#ecf8e1"/>
<rect x="205.89" y="103.58" width="7.63" height="5.56" fill="#eaf7e6"/>
<rect x="213.52" y="103.58" width="7.63" height="5.56" fill="#5988be"/>
<rect x="221.15" y="103.58" width="7.63" height="5.56" fill="#6695c5"/>
<rect x="228.78" y="103.58" width="7.63" height="5.56" fill="#5f8ec1"/>
<rect x="236.41" y="103.58" width="7.63" height="5.56" fill="#6695c5"/>
<rect x="244.04" y="103.58" width="7.63" height="5.56" fill="#a1c9e1"/>
<rect x="251.67" y="103.58" width="7.63" height="5.56" fill="#73a1cb"/>
<rect x="259.30" y="103.58" width="7.63" height="5.56" fill="#8dbbd9"/>
<rect x="266.93" y="103.58" width="7.63" height="5.56" fill="#86b4d5"/>
<rect x="274.56" y="103.58" width="7.63" height="5.56" fill="#86b4d5"/>
<rect x="282.19" y="103.58" width="7.63" height="5.56" fill="#a1c9e1"/>
<rect x="289.82" y="103.58" width="7.63" height="5.56" fill="#a1c9e1"/>
<rect x="297.45" y="103.58" width="7.63" height="5.56" fill="#a1c9e1"/>
<rect x="30.40" y="109.14" width="7.63" height="5.56" fill="#fff7b3"/>
<rect x="38.03" y="109.14" width="7.63" height="5.56" fill="#ffffbf"/>
<rect x="45.66" y="109.14" width="7.63" height="5.56" fill="#fafdc9"/>
<rect x="53.29" y="109.14" width="7.63" height="5.56" fill="#feefa7"/>
<rect x="60.92" y="109.14" width="7.63" height="5.56" fill="#fee497"/>
<rect x="68.55" y="109.14" width="7.63" height="5.56" fill="#fee293"/>
<rect x="76.18" y="109.14" width="7.63" height="5.56" fill="#feefa7"/>
<rect x="83.81" y="109.14" width="7.63" height="5.56" fill="#fee497"/>
<rect x="91.44" y="109.14" width="7.63" height="5.56" fill="#fee497"/>
<rect x="99.07" y="109.14" width="7.63" height="5.56" fill="#fff7b3"/>
<rect x="106.70" y="109.14" width="7.63" height="5.56" fill="#feefa7"/>
<rect x="114.33" y="109.14" width="7.63" height="5.56" fill="#fee293"/>
<rect x="121.96" y="109.14" width="7.63" height="5.56" fill="#fee497"/>
<rect x="129.59" y="109.14" width="7.63" height="5.56" fill="#fee293"/>
<rect x="137.22" y="109.14" width="7.63" height="5.56" fill="#d73027"/>
<rect x="144.85" y="109.14" width="7.63" height="5.56" fill="#feefa7"/>
<rect x="152.48" y="109.14" width="7.63" height="5.56" fill="#fee293"/>
<rect x="160.11" y="109.14" width="7.63" height="5.56" fill="#fafdc9"/>
<rect x="167.74" y="109.14" width="7.63" height="5.56" fill="#f2fad7"/>
<rect x="175.37" y="109.14" width="7.63" height="5.56" fill="#e7f6eb"/>
<rect x="183.00" y="109.14" width="7.63" height="5.56" fill="#ecf8e1"/>
<rect x="190.63" y="109.14" width="7.63" height="5.56" fill="#f4fbd3"/>
<rect x="198.26" y="109.14" width="7.63" height="5.56" fill="#f7fcce"/>
<rect x="205.89" y="109.14" width="7.63" height="5.56" fill="#f4fbd3"/>
<rect x="213.52" y="109.14" width="7.63" height="5.56" fill="#b5d7e8"/>
<rect x="221.15" y="109.14" width="7.63" height="5.56" fill="#86b4d5"/>
<rect x="228.78" y="109.14" width="7.63" height="5.56" fill="#aed2e6"/>
<rect x="236.41" y="109.14" width="7.63" height="5.56" fill="#a8cee3"/>
<rect x="244.04" y="109.14" width="7.63" height="5.56" fill="#d7edf5"/>
<rect x="251.67" y="109.14" width="7.63" height="5.56" fill="#9ac5de"/>
<rect x="259.30" y="109.14" width="7.63" height="5.56" fill="#a8cee3"/>
<rect x="266.93" y="109.14" width="7.63" height="5.56" fill="#b5d7e8"/>
<rect x="274.56" y="109.14" width="7.63" height="5.56" fill="#a1c9e1"/>
<rect x="282.19" y="109.14" width="7.63" height="5.56" fill="#c9e4f0"/>
<rect x="289.82" y="109.14" width="7.63" height="5.56" fill="#c3e0ed"/>
<rect x="297.45" y="109.14" width="7.63" height="5.56" fill="#c3e0ed"/>
<rect x="30.40" y="114.70" width="7.63" height="5.56" fill="#ffffbf"/>
<rect x="38.03" y="114.70" width="7.63" height="5.56" fill="#fafdc9"/>
<rect x="45.66" y="114.70" width="7.63" height="5.56" fill="#fafdc9"/>
<rect x="53.29" y="114.70" width="7.63" height="5.56" fill="#fee497"/>
<rect x="60.92" y="114.70" width="7.63" height="5.56" fill="#fede8e"/>
<rect x="68.55" y="114.70" width="7.63" height="5.56" fill="#fee293"/>
<rect x="76.18" y="114.70" width="7.63" height="5.56" fill="#feea9f"/>
<rect x="83.81" y="114.70" width="7.63" height="5.56" fill="#feea9f"/>
<rect x="91.44" y="114.70" width="7.63" height="5.56" fill="#fee79b"/>
<rect x="99.07" y="114.70" width="7.63" height="5.56" fill="#fee79b"/>
<rect x="106.70" y="114.70" width="7.63" height="5.56" fill="#fecf85"/>
<rect x="114.33" y="114.70" width="7.63" height="5.56" fill="#fede8e"/>
<rect x="121.96" y="114.70" width="7.63" height="5.56" fill="#fed78a"/>
<rect x="129.59" y="114.70" width="7.63" height="5.56" fill="#fee497"/>
<rect x="137.22" y="114.70" width="7.63" height="5.56" fill="#feefa7"/>
<rect x="144.85" y="114.70" width="7.63" height="5.56" fill="#d73027"/>
<rect x="152.48" y="114.70" width="7.63" height="5.56" fill="#fdc880"/>
<rect x="160.11" y="114.70" width="7.63" height="5.56" fill="#ecf8e1"/>
<rect x="167.74" y="114.70" width="7.63" height="5.56" fill="#eaf7e6"/>
<rect x="175.37" y="114.70" width="7.63" height="5.56" fill="#def2f7"/>
<rect x="183.00" y="114.70" width="7.63" height="5.56" fill="#e2f4f5"/>
<rect x="190.63" y="114.70" width="7.63" height="5.56" fill="#eaf7e6"/>
<rect x="198.26" y="114.70" width="7.63" height="5.56" fill="#e7f6eb"/>
<rect x="205.89" y="114.70" width="7.63" height="5.56" fill="#e4f5f0"/>
<rect x="213.52" y="114.70" width="7.63" height="5.56" fill="#a8cee3"/>
<rect x="221.15" y="114.70" width="7.63" height="5.56" fill="#79a8cf"/>
<rect x="228.78" y="114.70" width="7.63" height="5.56" fill="#a8cee3"/>
<rect x="236.41" y="114.70" width="7.63" height="5.56" fill="#aed2e6"/>
<rect x="244.04" y="114.70" width="7.63" height="5.56" fill="#d7edf5"/>
<rect x="251.67" y="114.70" width="7.63" height="5.56" fill="#9ac5de"/>
<rect x="259.30" y="114.70" width="7.63" height="5.56" fill="#a8cee3"/>
<rect x="266.93" y="114.70" width="7.63" height="5.56" fill="#a8cee3"/>
<rect x="274.56" y="114.70" width="7.63" height="5.56" fill="#a1c9e1"/>
<rect x="282.19" y="114.70" width="7.63" height="5.56" fill="#bcdbeb"/>
<rect x="289.82" y="114.70" width="7.63" height="5.56" fill="#c3e0ed"/>
<rect x="297.45" y="114.70" width="7.63" height="5.56" fill="#b5d7e8"/>
<rect x="30.40" y="120.26" width="7.63" height="5.56" fill="#fff2ab"/>
<rect x="38.03" y="120.26" width="7.63" height="5.56" fill="#fcfec4"/>
<rect x="45.66" y="120.26" width="7.63" height="5.56" fill="#ffffbf"/>
<rect x="53.29" y="120.26" width="7.63" height="5.56" fill="#fecf85"/>
<rect x="60.92" y="120.26" width="7.63" height="5.56" fill="#fdc880"/>
<rect x="68.55" y="120.26" width="7.63" height="5.56" fill="#fed78a"/>
<rect x="76.18" y="120.26" width="7.63" height="5.56" fill="#feeca3"/>
<rect x="83.81" y="120.26" width="7.63" height="5.56" fill="#fee79b"/>
<rect x="91.44" y="120.26" width="7.63" height="5.56" fill="#fdc17c"/>
<rect x="99.07" y="120.26" width="7.63" height="5.56" fill="#fdc17c"/>
<rect x="106.70" y="120.26" width="7.63" height="5.56" fill="#fdac6d"/>
<rect x="114.33" y="120.26" width="7.63" height="5.56" fill="#fc9e64"/>
<rect x="121.96" y="120.26" width="7.63" height="5.56" fill="#fdc17c"/>
<rect x="129.59" y="120.26" width="7.63" height="5.56" fill="#fdc17c"/>
<rect x="137.22" y="120.26" width="7.63" height="5.56" fill="#fee293"/>
<rect x="144.85" y="120.26" width="7.63" height="5.56" fill="#fdc880"/>
<rect x="152.48" y="120.26" width="7.63" height="5.56" fill="#d73027"/>
<rect x="160.11" y="120.26" width="7.63" height="5.56" fill="#ecf8e1"/>
<rect x="167.74" y="120.26" width="7.63" height="5.56" fill="#e4f5f0"/>
<rect x="175.37" y="120.26" width="7.63" height="5.56" fill="#def2f7"/>
<rect x="183.00" y="120.26" width="7.63" height="5.56" fill="#e7f6eb"/>
<rect x="190.63" y="120.26" width="7.63" height="5.56" fill="#ecf8e1"/>
<rect x="198.26" y="120.26" width="7.63" height="5.56" fill="#ecf8e1"/>
<rect x="205.89" y="120.26" width="7.63" height="5.56" fill="#eff9dc"/>
<rect x="213.52" y="120.26" width="7.63" height="5.56" fill="#c3e0ed"/>
<rect x="221.15" y="120.26" width="7.63" height="5.56" fill="#c9e4f0"/>
<rect x="228.78" y="120.26" width="7.63" height="5.56" fill="#d0e9f2"/>
<rect x="236.41" y="120.26" width="7.63" height="5.56" fill="#d0e9f2"/>
<rect x="244.04" y="120.26" width="7.63" height="5.56" fill="#e4f5f0"/>
<rect x="251.67" y="120.26" width="7.63" height="5.56" fill="#a8cee3"/>
<rect x="259.30" y="120.26" width="7.63" height="5.56" fill="#bcdbeb"/>
<rect x="266.93" y="120.26" width="7.63" height="5.56" fill="#c9e4f0"/>
<rect x="274.56" y="120.26" width="7.63" height="5.56" fill="#b5d7e8"/>
<rect x="282.19" y="120.26" width="7.63" height="5.56" fill="#c9e4f0"/>
<rect x="289.82" y="120.26" width="7.63" height="5.56" fill="#b5d7e8"/>
<rect x="297.45" y="120.26" width="7.63" height="5.56" fill="#bcdbeb"/>
<rect x="30.40" y="125.82" width="7.63" height="5.56" fill="#f7fcce"/>
<rect x="38.03" y="125.82" width="7.63" height="5.56" fill="#f4fbd3"/>
<rect x="45.66" y="125.82" width="7.63" height="5.56" fill="#f7fcce"/>
<rect x="53.29" y="125.82" width="7.63" height="5.56" fill="#fafdc9"/>
<rect x="60.92" y="125.82" width="7.63" height="5.56" fill="#fcfec4"/>
<rect x="68.55" y="125.82" width="7.63" height="5.56" fill="#f7fcce"/>
<rect x="76.18" y="125.82" width="7.63" height="5.56" fill="#fffcbb"/>
<rect x="83.81" y="125.82" width="7.63" height="5.56" fill="#ecf8e1"/>
<rect x="91.44" y="125.82" width="7.63" height="5.56" fill="#fafdc9"/>
<rect x="99.07" y="125.82" width="7.63" height="5.56" fill="#fffab7"/>
<rect x="106.70" y="125.82" width="7.63" height="5.56" fill="#eaf7e6"/>
<rect x="114.33" y="125.82" width="7.63" height="5.56" fill="#ecf8e1"/>
<rect x="121.96" y="125.82" width="7.63" height="5.56" fill="#e4f5f0"/>
<rect x="129.59" y="125.82" width="7.63" height="5.56" fill="#def2f7"/>
<rect x="137.22" y="125.82" width="7.63" height="5.56" fill="#fafdc9"/>
<rect x="144.85" y="125.82" width="7.63" height="5.56" fill="#ecf8e1"/>
<rect x="152.48" y="125.82" width="7.63" height="5.56" fill="#ecf8e1"/>
<rect x="160.11" y="125.82" width="7.63" height="5.56" fill="#d73027"/>
<rect x="167.74" y="125.82" width="7.63" height="5.56" fill="#fda569"/>
<rect x="175.37" y="125.82" width="7.63" height="5.56" fill="#fecf85"/>
<rect x="183.00" y="125.82" width="7.63" height="5.56" fill="#fdba77"/>
<rect x="190.63" y="125.82" width="7.63" height="5.56" fill="#fecf85"/>
<rect x="198.26" y="125.82" width="7.63" height="5.56" fill="#fed78a"/>
<rect x="205.89" y="125.82" width="7.63" height="5.56" fill="#fdac6d"/>
<rect x="213.52" y="125.82" width="7.63" height="5.56" fill="#feeca3"/>
<rect x="221.15" y="125.82" width="7.63" height="5.56" fill="#fff7b3"/>
<rect x="228.78" y="125.82" width="7.63" height="5.56" fill="#fff7b3"/>
<rect x="236.41" y="125.82" width="7.63" height="5.56" fill="#fff7b3"/>
<rect x="244.04" y="125.82" width="7.63" height="5.56" fill="#fff7b3"/>
<rect x="251.67" y="125.82" width="7.63" height="5.56" fill="#fff7b3"/>
<rect x="259.30" y="125.82" width="7.63" height="5.56" fill="#feeca3"/>
<rect x="266.93" y="125.82" width="7.63" height="5.56" fill="#fff2ab"/>
<rect x="274.56" y="125.82" width="7.63" height="5.56" fill="#feefa7"/>
<rect x="282.19" y="125.82" width="7.63" height="5.56" fill="#feeca3"/>
<rect x="289.82" y="125.82" width="7.63" height="5.56" fill="#feeca3"/>
<rect x="297.45" y="125.82" width="7.63" height="5.56" fill="#feeca3"/>
<rect x="30.40" y="131.38" width="7.63" height="5.56" fill="#f2fad7"/>
<rect x="38.03" y="131.38" width="7.63" height="5.56" fill="#ffffbf"/>
<rect x="45.66" y="131.38" width="7.63" height="5.56" fill="#f7fcce"/>
<rect x="53.29" y="131.38" width="7.63" height="5.56" fill="#fafdc9"/>
<rect x="60.92" y="131.38" width="7.63" height="5.56" fill="#ffffbf"/>
<rect x="68.55" y="131.38" width="7.63" height="5.56" fill="#fffab7"/>
<rect x="76.18" y="131.38" width="7.63" height="5.56" fill="#fcfec4"/>
<rect x="83.81" y="131.38" width="7.63" height="5.56" fill="#e7f6eb"/>
<rect x="91.44" y="131.38" width="7.63" height="5.56" fill="#ecf8e1"/>
<rect x="99.07" y="131.38" width="7.63" height="5.56" fill="#f4fbd3"/>
<rect x="106.70" y="131.38" width="7.63" height="5.56" fill="#eaf7e6"/>
<rect x="114.33" y="131.38" width="7.63" height="5.56" fill="#e7f6eb"/>
<rect x="121.96" y="131.38" width="7.63" height="5.56" fill="#e2f4f5"/>
<rect x="129.59" y="131.38" width="7.63" height="5.56" fill="#d7edf5"/>
<rect x="137.22" y="131.38" width="7.63" height="5.56" fill="#f2fad7"/>
<rect x="144.85" y="131.38" width="7.63" height="5.56" fill="#eaf7e6"/>
<rect x="152.48" y="131.38" width="7.63" height="5.56" fill="#e4f5f0"/>
<rect x="160.11" y="131.38" width="7.63" height="5.56" fill="#fda569"/>
<rect x="167.74" y="131.38" width="7.63" height="5.56" fill="#d73027"/>
<rect x="175.37" y="131.38" width="7.63" height="5.56" fill="#fdb372"/>
<rect x="183.00" y="131.38" width="7.63" height="5.56" fill="#fdac6d"/>
<rect x="190.63" y="131.38" width="7.63" height="5.56" fill="#fdc880"/>
<rect x="198.26" y="131.38" width="7.63" height="5.56" fill="#fede8e"/>
<rect x="205.89" y="131.38" width="7.63" height="5.56" fill="#fdc880"/>
<rect x="213.52" y="131.38" width="7.63" height="5.56" fill="#feeca3"/>
<rect x="221.15" y="131.38" width="7.63" height="5.56" fill="#fff7b3"/>
<rect x="228.78" y="131.38" width="7.63" height="5.56" fill="#fff4af"/>
<rect x="236.41" y="131.38" width="7.63" height="5.56" fill="#feefa7"/>
<rect x="244.04" y="131.38" width="7.63" height="5.56" fill="#fff7b3"/>
<rect x="251.67" y="131.38" width="7.63" height="5.56" fill="#fff7b3"/>
<rect x="259.30" y="131.38" width="7.63" height="5.56" fill="#feeca3"/>
<rect x="266.93" y="131.38" width="7.63" height="5.56" fill="#feeca3"/>
<rect x="274.56" y="131.38" width="7.63" height="5.56" fill="#fee79b"/>
<rect x="282.19" y="131.38" width="7.63" height="5.56" fill="#feeca3"/>
<rect x="289.82" y="131.38" width="7.63" height="5.56" fill="#fee79b"/>
<rect x="297.45" y="131.38" width="7.63" height="5.56" fill="#fee497"/>
<rect x="30.40" y="136.94" width="7.63" height="5.56" fill="#e7f6eb"/>
<rect x="38.03" y="136.94" width="7.63" height="5.56" fill="#e7f6eb"/>
<rect x="45.66" y="136.94" width="7.63" height="5.56" fill="#ecf8e1"/>
<rect x="53.29" y="136.94" width="7.63" height="5.56" fill="#f2fad7"/>
<rect x="60.92" y="136.94" width="7.63" height="5.56" fill="#f4fbd3"/>
<rect x="68.55" y="136.94" width="7.63" height="5.56" fill="#f2fad7"/>
<rect x="76.18" y="136.94" width="7.63" height="5.56" fill="#fcfec4"/>
<rect x="83.81" y="136.94" width="7.63" height="5.56" fill="#eaf7e6"/>
<rect x="91.44" y="136.94" width="7.63" height="5.56" fill="#eaf7e6"/>
<rect x="99.07" y="136.94" width="7.63" height="5.56" fill="#ecf8e1"/>
<rect x="106.70" y="136.94" width="7.63" height="5.56" fill="#e7f6eb"/>
<rect x="114.33" y="136.94" width="7.63" height="5.56" fill="#e7f6eb"/>
<rect x="121.96" y="136.94" width="7.63" height="5.56" fill="#def2f7"/>
<rect x="129.59" y="136.94" width="7.63" height="5.56" fill="#d7edf5"/>
<rect x="137.22" y="136.94" width="7.63" height="5.56" fill="#e7f6eb"/>
<rect x="144.85" y="136.94" width="7.63" height="5.56" fill="#def2f7"/>
<rect x="152.48" y="136.94" width="7.63" height="5.56" fill="#def2f7"/>
<rect x="160.11" y="136.94" width="7.63" height="5.56" fill="#fecf85"/>
<rect x="167.74" y="136.94" width="7.63" height="5.56" fill="#fdb372"/>
<rect x="175.37" y="136.94" width="7.63" height="5.56" fill="#d73027"/>
<rect x="183.00" y="136.94" width="7.63" height="5.56" fill="#fdac6d"/>
<rect x="190.63" y="136.94" width="7.63" height="5.56" fill="#fdc17c"/>
<rect x="198.26" y="136.94" width="7.63" height="5.56" fill="#fdc17c"/>
<rect x="205.89" y="136.94" width="7.63" height="5.56" fill="#fdc17c"/>
<rect x="213.52" y="136.94" width="7.63" height="5.56" fill="#feefa7"/>
<rect x="221.15" y="136.94" width="7.63" height="5.56" fill="#fff7b3"/>
<rect x="228.78" y="136.94" width="7.63" height="5.56" fill="#fff4af"/>
<rect x="236.41" y="136.94" width="7.63" height="5.56" fill="#fff7b3"/>
<rect x="244.04" y="136.94" width="7.63" height="5.56" fill="#fff7b3"/>
<rect x="251.67" y="136.94" width="7.63" height="5.56" fill="#feefa7"/>
<rect x="259.30" y="136.94" width="7.63" height="5.56" fill="#feeca3"/>
<rect x="266.93" y="136.94" width="7.63" height="5.56" fill="#fee79b"/>
<rect x="274.56" y="136.94" width="7.63" height="5.56" fill="#fee79b"/>
<rect x="282.19" y="136.94" width="7.63" height="5.56" fill="#fee79b"/>
<rect x="289.82" y="136.94" width="7.63" height="5.56" fill="#fee79b"/>
<rect x="297.45" y="136.94" width="7.63" height="5.56" fill="#fee497"/>
<rect x="30.40" y="142.50" width="7.63" height="5.56" fill="#f2fad7"/>
<rect x="38.03" y="142.50" width="7.63" height="5.56" fill="#f4fbd3"/>
<rect x="45.66" y="142.50" width="7.63" height="5.56" fill="#f4fbd3"/>
<rect x="53.29" y="142.50" width="7.63" height="5.56" fill="#fcfec4"/>
<rect x="60.92" y="142.50" width="7.63" height="5.56" fill="#fcfec4"/>
<rect x="68.55" y="142.50" width="7.63" height="5.56" fill="#fffcbb"/>
<rect x="76.18" y="142.50" width="7.63" height="5.56" fill="#fff7b3"/>
<rect x="83.81" y="142.50" width="7.63" height="5.56" fill="#ecf8e1"/>
<rect x="91.44" y="142.50" width="7.63" height="5.56" fill="#f4fbd3"/>
<rect x="99.07" y="142.50" width="7.63" height="5.56" fill="#f2fad7"/>
<rect x="106.70" y="142.50" width="7.63" height="5.56" fill="#eff9dc"/>
<rect x="114.33" y="142.50" width="7.63" height="5.56" fill="#f2fad7"/>
<rect x="121.96" y="142.50" width="7.63" height="5.56" fill="#ecf8e1"/>
<rect x="129.59" y="142.50" width="7.63" height="5.56" fill="#e4f5f0"/>
<rect x="137.22" y="142.50" width="7.63" height="5.56" fill="#ecf8e1"/>
<rect x="144.85" y="142.50" width="7.63" height="5.56" fill="#e2f4f5"/>
<rect x="152.48" y="142.50" width="7.63" height="5.56" fill="#e7f6eb"/>
<rect x="160.11" y="142.50" width="7.63" height="5.56" fill="#fdba77"/>
<rect x="167.74" y="142.50" width="7.63" height="5.56" fill="#fdac6d"/>
<rect x="175.37" y="142.50" width="7.63" height="5.56" fill="#fdac6d"/>
<rect x="183.00" y="142.50" width="7.63" height="5.56" fill="#d73027"/>
<rect x="190.63" y="142.50" width="7.63" height="5.56" fill="#fdba77"/>
<rect x="198.26" y="142.50" width="7.63" height="5.56" fill="#fdba77"/>
<rect x="205.89" y="142.50" width="7.63" height="5.56" fill="#fdac6d"/>
<rect x="213.52" y="142.50" width="7.63" height="5.56" fill="#feea9f"/>
<rect x="221.15" y="142.50" width="7.63" height="5.56" fill="#fff7b3"/>
<rect x="228.78" y="142.50" width="7.63" height="5.56" fill="#fffab7"/>
<rect x="236.41" y="142.50" width="7.63" height="5.56" fill="#fff7b3"/>
<rect x="244.04" y="142.50" width="7.63" height="5.56" fill="#fffab7"/>
<rect x="251.67" y="142.50" width="7.63" height="5.56" fill="#feefa7"/>
<rect x="259.30" y="142.50" width="7.63" height="5.56" fill="#feeca3"/>
<rect x="266.93" y="142.50" width="7.63" height="5.56" fill="#feea9f"/>
<rect x="274.56" y="142.50" width="7.63" height="5.56" fill="#fee79b"/>
<rect x="282.19" y="142.50" width="7.63" height="5.56" fill="#feea9f"/>
<rect x="289.82" y="142.50" width="7.63" height="5.56" fill="#fede8e"/>
<rect x="297.45" y="142.50" width="7.63" height="5.56" fill="#fee497"/>
<rect x="30.40" y="148.06" width="7.63" height="5.56" fill="#e7f6eb"/>
<rect x="38.03" y="148.06" width="7.63" height="5.56" fill="#fcfec4"/>
<rect x="45.66" y="148.06" width="7.63" height="5.56" fill="#f7fcce"/>
<rect x="53.29" y="148.06" width="7.63" height="5.56" fill="#f7fcce"/>
<rect x="60.92" y="148.06" width="7.63" height="5.56" fill="#fffab7"/>
<rect x="68.55" y="148.06" width="7.63" height="5.56" fill="#fff2ab"/>
<rect x="76.18" y="148.06" width="7.63" height="5.56" fill="#ffffbf"/>
<rect x="83.81" y="148.06" width="7.63" height="5.56" fill="#ecf8e1"/>
<rect x="91.44" y="148.06" width="7.63" height="5.56" fill="#f2fad7"/>
<rect x="99.07" y="148.06" width="7.63" height="5.56" fill="#fcfec4"/>
<rect x="106.70" y="148.06" width="7.63" height="5.56" fill="#f4fbd3"/>
<rect x="114.33" y="148.06" width="7.63" height="5.56" fill="#f4fbd3"/>
<rect x="121.96" y="148.06" width="7.63" height="5.56" fill="#f2fad7"/>
<rect x="129.59" y="148.06" width="7.63" height="5.56" fill="#e7f6eb"/>
<rect x="137.22" y="148.06" width="7.63" height="5.56" fill="#f4fbd3"/>
<rect x="144.85" y="148.06" width="7.63" height="5.56" fill="#eaf7e6"/>
<rect x="152.48" y="148.06" width="7.63" height="5.56" fill="#ecf8e1"/>
<rect x="160.11" y="148.06" width="7.63" height="5.56" fill="#fecf85"/>
<rect x="167.74" y="148.06" width="7.63" height="5.56" fill="#fdc880"/>
<rect x="175.37" y="148.06" width="7.63" height="5.56" fill="#fdc17c"/>
<rect x="183.00" y="148.06" width="7.63" height="5.56" fill="#fdba77"/>
<rect x="190.63" y="148.06" width="7.63" height="5.56" fill="#d73027"/>
<rect x="198.26" y="148.06" width="7.63" height="5.56" fill="#fdc880"/>
<rect x="205.89" y="148.06" width="7.63" height="5.56" fill="#fed78a"/>
<rect x="213.52" y="148.06" width="7.63" height="5.56" fill="#ffffbf"/>
<rect x="221.15" y="148.06" width="7.63" height="5.56" fill="#fafdc9"/>
<rect x="228.78" y="148.06" width="7.63" height="5.56" fill="#fffcbb"/>
<rect x="236.41" y="148.06" width="7.63" height="5.56" fill="#fffcbb"/>
<rect x="244.04" y="148.06" width="7.63" height="5.56" fill="#fff2ab"/>
<rect x="251.67" y="148.06" width="7.63" height="5.56" fill="#fff7b3"/>
<rect x="259.30" y="148.06" width="7.63" height="5.56" fill="#fff7b3"/>
<rect x="266.93" y="148.06" width="7.63" height="5.56" fill="#feefa7"/>
<rect x="274.56" y="148.06" width="7.63" height="5.56" fill="#feea9f"/>
<rect x="282.19" y="148.06" width="7.63" height="5.56" fill="#feea9f"/>
<rect x="289.82" y="148.06" width="7.63" height="5.56" fill="#feefa7"/>
<rect x="297.45" y="148.06" width="7.63" height="5.56" fill="#fee497"/>
<rect x="30.40" y="153.62" width="7.63" height="5.56" fill="#d7edf5"/>
<rect x="38.03" y="153.62" width="7.63" height="5.56" fill="#eaf7e6"/>
<rect x="45.66" y="153.62" width="7.63" height="5.56" fill="#eff9dc"/>
<rect x="53.29" y="153.62" width="7.63" height="5.56" fill="#fcfec4"/>
<rect x="60.92" y="153.62" width="7.63" height="5.56" fill="#fffab7"/>
<rect x="68.55" y="153.62" width="7.63" height="5.56" fill="#fff7b3"/>
<rect x="76.18" y="153.62" width="7.63" height="5.56" fill="#fee79b"/>
<rect x="83.81" y="153.62" width="7.63" height="5.56" fill="#f7fcce"/>
<rect x="91.44" y="153.62" width="7.63" height="5.56" fill="#f7fcce"/>
<rect x="99.07" y="153.62" width="7.63" height="5.56" fill="#fafdc9"/>
<rect x="106.70" y="153.62" width="7.63" height="5.56" fill="#f7fcce"/>
<rect x="114.33" y="153.62" width="7.63" height="5.56" fill="#f7fcce"/>
<rect x="121.96" y="153.62" width="7.63" height="5.56" fill="#f2fad7"/>
<rect x="129.59" y="153.62" width="7.63" height="5.56" fill="#ecf8e1"/>
<rect x="137.22" y="153.62" width="7.63" height="5.56" fill="#f7fcce"/>
<rect x="144.85" y="153.62" width="7.63" height="5.56" fill="#e7f6eb"/>
<rect x="152.48" y="153.62" width="7.63" height="5.56" fill="#ecf8e1"/>
<rect x="160.11" y="153.62" width="7.63" height="5.56" fill="#fed78a"/>
<rect x="167.74" y="153.62" width="7.63" height="5.56" fill="#fede8e"/>
<rect x="175.37" y="153.62" width="7.63" height="5.56" fill="#fdc17c"/>
<rect x="183.00" y="153.62" width="7.63" height="5.56" fill="#fdba77"/>
<rect x="190.63" y="153.62" width="7.63" height="5.56" fill="#fdc880"/>
<rect x="198.26" y="153.62" width="7.63" height="5.56" fill="#d73027"/>
<rect x="205.89" y="153.62" width="7.63" height="5.56" fill="#fdba77"/>
<rect x="213.52" y="153.62" width="7.63" height="5.56" fill="#fffcbb"/>
<rect x="221.15" y="153.62" width="7.63" height="5.56" fill="#fafdc9"/>
<rect x="228.78" y="153.62" width="7.63" height="5.56" fill="#fcfec4"/>
<rect x="236.41" y="153.62" width="7.63" height="5.56" fill="#f7fcce"/>
<rect x="244.04" y="153.62" width="7.63" height="5.56" fill="#fff7b3"/>
<rect x="251.67" y="153.62" width="7.63" height="5.56" fill="#fffcbb"/>
<rect x="259.30" y="153.62" width="7.63" height="5.56" fill="#fff2ab"/>
<rect x="266.93" y="153.62" width="7.63" height="5.56" fill="#feeca3"/>
<rect x="274.56" y="153.62" width="7.63" height="5.56" fill="#feea9f"/>
<rect x="282.19" y="153.62" width="7.63" height="5.56" fill="#feeca3"/>
<rect x="289.82" y="153.62" width="7.63" height="5.56" fill="#feeca3"/>
<rect x="297.45" y="153.62" width="7.63" height="5.56" fill="#feefa7"/>
<rect x="30.40" y="159.18" width="7.63" height="5.56" fill="#e2f4f5"/>
<rect x="38.03" y="159.18" width="7.63" height="5.56" fill="#f4fbd3"/>
<rect x="45.66" y="159.18" width="7.63" height="5.56" fill="#f2fad7"/>
<rect x="53.29" y="159.18" width="7.63" height="5.56" fill="#fafdc9"/>
<rect x="60.92" y="159.18" width="7.63" height="5.56" fill="#fffcbb"/>
<rect x="68.55" y="159.18" width="7.63" height="5.56" fill="#fffcbb"/>
<rect x="76.18" y="159.18" width="7.63" height="5.56" fill="#feeca3"/>
<rect x="83.81" y="159.18" width="7.63" height="5.56" fill="#f7fcce"/>
<rect x="91.44" y="159.18" width="7.63" height="5.56" fill="#fafdc9"/>
<rect x="99.07" y="159.18" width="7.63" height="5.56" fill="#f4fbd3"/>
<rect x="106.70" y="159.18" width="7.63" height="5.56" fill="#ecf8e1"/>
<rect x="114.33" y="159.18" width="7.63" height="5.56" fill="#f4fbd3"/>
<rect x="121.96" y="159.18" width="7.63" height="5.56" fill="#eaf7e6"/>
<rect x="129.59" y="159.18" width="7.63" height="5.56" fill="#eaf7e6"/>
<rect x="137.22" y="159.18" width="7.63" height="5.56" fill="#f4fbd3"/>
<rect x="144.85" y="159.18" width="7.63" height="5.56" fill="#e4f5f0"/>
<rect x="152.48" y="159.18" width="7.63" height="5.56" fill="#eff9dc"/>
<rect x="160.11" y="159.18" width="7.63" height="5.56" fill="#fdac6d"/>
<rect x="167.74" y="159.18" width="7.63" height="5.56" fill="#fdc880"/>
<rect x="175.37" y="159.18" width="7.63" height="5.56" fill="#fdc17c"/>
<rect x="183.00" y="159.18" width="7.63" height="5.56" fill="#fdac6d"/>
<rect x="190.63" y="159.18" width="7.63" height="5.56" fill="#fed78a"/>
<rect x="198.26" y="159.18" width="7.63" height="5.56" fill="#fdba77"/>
<rect x="205.89" y="159.18" width="7.63" height="5.56" fill="#d73027"/>
<rect x="213.52" y="159.18" width="7.63" height="5.56" fill="#feefa7"/>
<rect x="221.15" y="159.18" width="7.63" height="5.56" fill="#fff7b3"/>
<rect x="228.78" y="159.18" width="7.63" height="5.56" fill="#fffab7"/>
<rect x="236.41" y="159.18" width="7.63" height="5.56" fill="#ffffbf"/>
<rect x="244.04" y="159.18" width="7.63" height="5.56" fill="#fff7b3"/>
<rect x="251.67" y="159.18" width="7.63" height="5.56" fill="#fffab7"/>
<rect x="259.30" y="159.18" width="7.63" height="5.56" fill="#feefa7"/>
<rect x="266.93" y="159.18" width="7.63" height="5.56" fill="#feeca3"/>
<rect x="274.56" y="159.18" width="7.63" height="5.56" fill="#feea9f"/>
<rect x="282.19" y="159.18" width="7.63" height="5.56" fill="#feea9f"/>
<rect x="289.82" y="159.18" width="7.63" height="5.56" fill="#fee497"/>
<rect x="297.45" y="159.18" width="7.63" height="5.56" fill="#feefa7"/>
<rect x="30.40" y="164.74" width="7.63" height="5.56" fill="#e7f6eb"/>
<rect x="38.03" y="164.74" width="7.63" height="5.56" fill="#aed2e6"/>
<rect x="45.66" y="164.74" width="7.63" height="5.56" fill="#d7edf5"/>
<rect x="53.29" y="164.74" width="7.63" height="5.56" fill="#d7edf5"/>
<rect x="60.92" y="164.74" width="7.63" height="5.56" fill="#d7edf5"/>
<rect x="68.55" y="164.74" width="7.63" height="5.56" fill="#d7edf5"/>
<rect x="76.18" y="164.74" width="7.63" height="5.56" fill="#c9e4f0"/>
<rect x="83.81" y="164.74" width="7.63" height="5.56" fill="#8dbbd9"/>
<rect x="91.44" y="164.74" width="7.63" height="5.56" fill="#aed2e6"/>
<rect x="99.07" y="164.74" width="7.63" height="5.56" fill="#c9e4f0"/>
<rect x="106.70" y="164.74" width="7.63" height="5.56" fill="#aed2e6"/>
<rect x="114.33" y="164.74" width="7.63" height="5.56" fill="#bcdbeb"/>
<rect x="121.96" y="164.74" width="7.63" height="5.56" fill="#79a8cf"/>
<rect x="129.59" y="164.74" width="7.63" height="5.56" fill="#5988be"/>
<rect x="137.22" y="164.74" width="7.63" height="5.56" fill="#b5d7e8"/>
<rect x="144.85" y="164.74" width="7.63" height="5.56" fill="#a8cee3"/>
<rect x="152.48" y="164.74" width="7.63" height="5.56" fill="#c3e0ed"/>
<rect x="160.11" y="164.74" width="7.63" height="5.56" fill="#feeca3"/>
<rect x="167.74" y="164.74" width="7.63" height="5.56" fill="#feeca3"/>
<rect x="175.37" y="164.74" width="7.63" height="5.56" fill="#feefa7"/>
<rect x="183.00" y="164.74" width="7.63" height="5.56" fill="#feea9f"/>
<rect x="190.63" y="164.74" width="7.63" height="5.56" fill="#ffffbf"/>
<rect x="198.26" y="164.74" width="7.63" height="5.56" fill="#fffcbb"/>
<rect x="205.89" y="164.74" width="7.63" height="5.56" fill="#feefa7"/>
<rect x="213.52" y="164.74" width="7.63" height="5.56" fill="#d73027"/>
<rect x="221.15" y="164.74" width="7.63" height="5.56" fill="#feea9f"/>
<rect x="228.78" y="164.74" width="7.63" height="5.56" fill="#feefa7"/>
<rect x="236.41" y="164.74" width="7.63" height="5.56" fill="#feeca3"/>
<rect x="244.04" y="164.74" width="7.63" height="5.56" fill="#fffab7"/>
<rect x="251.67" y="164.74" width="7.63" height="5.56" fill="#feeca3"/>
<rect x="259.30" y="164.74" width="7.63" height="5.56" fill="#feea9f"/>
<rect x="266.93" y="164.74" width="7.63" height="5.56" fill="#fee497"/>
<rect x="274.56" y="164.74" width="7.63" height="5.56" fill="#fee79b"/>
<rect x="282.19" y="164.74" width="7.63" height="5.56" fill="#feea9f"/>
<rect x="289.82" y="164.74" width="7.63" height="5.56" fill="#feeca3"/>
<rect x="297.45" y="164.74" width="7.63" height="5.56" fill="#feea9f"/>
<rect x="30.40" y="170.30" width="7.63" height="5.56" fill="#b5d7e8"/>
<rect x="38.03" y="170.30" width="7.63" height="5.56" fill="#aed2e6"/>
<rect x="45.66" y="170.30" width="7.63" height="5.56" fill="#e2f4f5"/>
<rect x="53.29" y="170.30" width="7.63" height="5.56" fill="#e7f6eb"/>
<rect x="60.92" y="170.30" width="7.63" height="5.56" fill="#bcdbeb"/>
<rect x="68.55" y="170.30" width="7.63" height="5.56" fill="#c3e0ed"/>
<rect x="76.18" y="170.30" width="7.63" height="5.56" fill="#8dbbd9"/>
<rect x="83.81" y="170.30" width="7.63" height="5.56" fill="#8dbbd9"/>
<rect x="91.44" y="170.30" width="7.63" height="5.56" fill="#9ac5de"/>
<rect x="99.07" y="170.30" width="7.63" height="5.56" fill="#aed2e6"/>
<rect x="106.70" y="170.30" width="7.63" height="5.56" fill="#a1c9e1"/>
<rect x="114.33" y="170.30" width="7.63" height="5.56" fill="#a8cee3"/>
<rect x="121.96" y="170.30" width="7.63" height="5.56" fill="#6c9bc8"/>
<rect x="129.59" y="170.30" width="7.63" height="5.56" fill="#6695c5"/>
<rect x="137.22" y="170.30" width="7.63" height="5.56" fill="#86b4d5"/>
<rect x="144.85" y="170.30" width="7.63" height="5.56" fill="#79a8cf"/>
<rect x="152.48" y="170.30" width="7.63" height="5.56" fill="#c9e4f0"/>
<rect x="160.11" y="170.30" width="7.63" height="5.56" fill="#fff7b3"/>
<rect x="167.74" y="170.30" width="7.63" height="5.56" fill="#fff7b3"/>
<rect x="175.37" y="170.30" width="7.63" height="5.56" fill="#fff7b3"/>
<rect x="183.00" y="170.30" width="7.63" height="5.56" fill="#fff7b3"/>
<rect x="190.63" y="170.30" width="7.63" height="5.56" fill="#fafdc9"/>
<rect x="198.26" y="170.30" width="7.63" height="5.56" fill="#fafdc9"/>
<rect x="205.89" y="170.30" width="7.63" height="5.56" fill="#fff7b3"/>
<rect x="213.52" y="170.30" width="7.63" height="5.56" fill="#feea9f"/>
<rect x="221.15" y="170.30" width="7.63" height="5.56" fill="#d73027"/>
<rect x="228.78" y="170.30" width="7.63" height="5.56" fill="#fede8e"/>
<rect x="236.41" y="170.30" width="7.63" height="5.56" fill="#fede8e"/>
<rect x="244.04" y="170.30" width="7.63" height="5.56" fill="#fee497"/>
<rect x="251.67" y="170.30" width="7.63" height="5.56" fill="#fede8e"/>
<rect x="259.30" y="170.30" width="7.63" height="5.56" fill="#fee293"/>
<rect x="266.93" y="170.30" width="7.63" height="5.56" fill="#fdac6d"/>
<rect x="274.56" y="170.30" width="7.63" height="5.56" fill="#fee79b"/>
<rect x="282.19" y="170.30" width="7.63" height="5.56" fill="#fee293"/>
<rect x="289.82" y="170.30" width="7.63" height="5.56" fill="#fede8e"/>
<rect x="297.45" y="170.30" width="7.63" height="5.56" fill="#fee293"/>
<rect x="30.40" y="175.86" width="7.63" height="5.56" fill="#def2f7"/>
<rect x="38.03" y="175.86" width="7.63" height="5.56" fill="#a1c9e1"/>
<rect x="45.66" y="175.86" width="7.63" height="5.56" fill="#d0e9f2"/>
<rect x="53.29" y="175.86" width="7.63" height="5.56" fill="#e2f4f5"/>
<rect x="60.92" y="175.86" width="7.63" height="5.56" fill="#bcdbeb"/>
<rect x="68.55" y="175.86" width="7.63" height="5.56" fill="#c3e0ed"/>
<rect x="76.18" y="175.86" width="7.63" height="5.56" fill="#8dbbd9"/>
<rect x="83.81" y="175.86" width="7.63" height="5.56" fill="#79a8cf"/>
<rect x="91.44" y="175.86" width="7.63" height="5.56" fill="#aed2e6"/>
<rect x="99.07" y="175.86" width="7.63" height="5.56" fill="#c9e4f0"/>
<rect x="106.70" y="175.86" width="7.63" height="5.56" fill="#a1c9e1"/>
<rect x="114.33" y="175.86" width="7.63" height="5.56" fill="#aed2e6"/>
<rect x="121.96" y="175.86" width="7.63" height="5.56" fill="#79a8cf"/>
<rect x="129.59" y="175.86" width="7.63" height="5.56" fill="#5f8ec1"/>
<rect x="137.22" y="175.86" width="7.63" height="5.56" fill="#aed2e6"/>
<rect x="144.85" y="175.86" width="7.63" height="5.56" fill="#a8cee3"/>
<rect x="152.48" y="175.86" width="7.63" height="5.56" fill="#d0e9f2"/>
<rect x="160.11" y="175.86" width="7.63" height="5.56" fill="#fff7b3"/>
<rect x="167.74" y="175.86" width="7.63" height="5.56" fill="#fff4af"/>
<rect x="175.37" y="175.86" width="7.63" height="5.56" fill="#fff4af"/>
<rect x="183.00" y="175.86" width="7.63" height="5.56" fill="#fffab7"/>
<rect x="190.63" y="175.86" width="7.63" height="5.56" fill="#fffcbb"/>
<rect x="198.26" y="175.86" width="7.63" height="5.56" fill="#fcfec4"/>
<rect x="205.89" y="175.86" width="7.63" height="5.56" fill="#fffab7"/>
<rect x="213.52" y="175.86" width="7.63" height="5.56" fill="#feefa7"/>
<rect x="221.15" y="175.86" width="7.63" height="5.56" fill="#fede8e"/>
<rect x="228.78" y="175.86" width="7.63" height="5.56" fill="#d73027"/>
<rect x="236.41" y="175.86" width="7.63" height="5.56" fill="#fee497"/>
<rect x="244.04" y="175.86" width="7.63" height="5.56" fill="#fee79b"/>
<rect x="251.67" y="175.86" width="7.63" height="5.56" fill="#fee79b"/>
<rect x="259.30" y="175.86" width="7.63" height="5.56" fill="#feeca3"/>
<rect x="266.93" y="175.86" width="7.63" height="5.56" fill="#fed78a"/>
<rect x="274.56" y="175.86" width="7.63" height="5.56" fill="#feeca3"/>
<rect x="282.19" y="175.86" width="7.63" height="5.56" fill="#fee79b"/>
<rect x="289.82" y="175.86" width="7.63" height="5.56" fill="#feea9f"/>
<rect x="297.45" y="175.86" width="7.63" height="5.56" fill="#feeca3"/>
<rect x="30.40" y="181.42" width="7.63" height="5.56" fill="#f2fad7"/>
<rect x="38.03" y="181.42" width="7.63" height="5.56" fill="#d0e9f2"/>
<rect x="45.66" y="181.42" width="7.63" height="5.56" fill="#d7edf5"/>
<rect x="53.29" y="181.42" width="7.63" height="5.56" fill="#e4f5f0"/>
<rect x="60.92" y="181.42" width="7.63" height="5.56" fill="#e2f4f5"/>
<rect x="68.55" y="181.42" width="7.63" height="5.56" fill="#e4f5f0"/>
<rect x="76.18" y="181.42" width="7.63" height="5.56" fill="#a8cee3"/>
<rect x="83.81" y="181.42" width="7.63" height="5.56" fill="#a1c9e1"/>
<rect x="91.44" y="181.42" width="7.63" height="5.56" fill="#a8cee3"/>
<rect x="99.07" y="181.42" width="7.63" height="5.56" fill="#c9e4f0"/>
<rect x="106.70" y="181.42" width="7.63" height="5.56" fill="#aed2e6"/>
<rect x="114.33" y="181.42" width="7.63" height="5.56" fill="#bcdbeb"/>
<rect x="121.96" y="181.42" width="7.63" height="5.56" fill="#79a8cf"/>
<rect x="129.59" y="181.42" width="7.63" height="5.56" fill="#6695c5"/>
<rect x="137.22" y="181.42" width="7.63" height="5.56" fill="#a8cee3"/>
<rect x="144.85" y="181.42" width="7.63" height="5.56" fill="#aed2e6"/>
<rect x="152.48" y="181.42" width="7.63" height="5.56" fill="#d0e9f2"/>
<rect x="160.11" y="181.42" width="7.63" height="5.56" fill="#fff7b3"/>
<rect x="167.74" y="181.42" width="7.63" height="5.56" fill="#feefa7"/>
<rect x="175.37" y="181.42" width="7.63" height="5.56" fill="#fff7b3"/>
<rect x="183.00" y="181.42" width="7.63" height="5.56" fill="#fff7b3"/>
<rect x="190.63" y="181.42" width="7.63" height="5.56" fill="#fffcbb"/>
<rect x="198.26" y="181.42" width="7.63" height="5.56" fill="#f7fcce"/>
<rect x="205.89" y="181.42" width="7.63" height="5.56" fill="#ffffbf"/>
<rect x="213.52" y="181.42" width="7.63" height="5.56" fill="#feeca3"/>
<rect x="221.15" y="181.42" width="7.63" height="5.56" fill="#fede8e"/>
<rect x="228.78" y="181.42" width="7.63" height="5.56" fill="#fee497"/>
<rect x="236.41" y="181.42" width="7.63" height="5.56" fill="#d73027"/>
<rect x="244.04" y="181.42" width="7.63" height="5.56" fill="#fee293"/>
<rect x="251.67" y="181.42" width="7.63" height="5.56" fill="#fee497"/>
<rect x="259.30" y="181.42" width="7.63" height="5.56" fill="#fee497"/>
<rect x="266.93" y="181.42" width="7.63" height="5.56" fill="#fede8e"/>
<rect x="274.56" y="181.42" width="7.63" height="5.56" fill="#fee293"/>
<rect x="282.19" y="181.42" width="7.63" height="5.56" fill="#fee293"/>
<rect x="289.82" y="181.42" width="7.63" height="5.56" fill="#fee497"/>
<rect x="297.45" y="181.42" width="7.63" height="5.56" fill="#fee497"/>
<rect x="30.40" y="186.98" width="7.63" height="5.56" fill="#eff9dc"/>
<rect x="38.03" y="186.98" width="7.63" height="5.56" fill="#d7edf5"/>
<rect x="45.66" y="186.98" width="7.63" height="5.56" fill="#d0e9f2"/>
<rect x="53.29" y="186.98" width="7.63" height="5.56" fill="#eff9dc"/>
<rect x="60.92" y="186.98" width="7.63" height="5.56" fill="#eaf7e6"/>
<rect x="68.55" y="186.98" width="7.63" height="5.56" fill="#eaf7e6"/>
<rect x="76.18" y="186.98" width="7.63" height="5.56" fill="#b5d7e8"/>
<rect x="83.81" y="186.98" width="7.63" height="5.56" fill="#c3e0ed"/>
<rect x="91.44" y="186.98" width="7.63" height="5.56" fill="#c3e0ed"/>
<rect x="99.07" y="186.98" width="7.63" height="5.56" fill="#eaf7e6"/>
<rect x="106.70" y="186.98" width="7.63" height="5.56" fill="#e2f4f5"/>
<rect x="114.33" y="186.98" width="7.63" height="5.56" fill="#e2f4f5"/>
<rect x="121.96" y="186.98" width="7.63" height="5.56" fill="#bcdbeb"/>
<rect x="129.59" y="186.98" width="7.63" height="5.56" fill="#a1c9e1"/>
<rect x="137.22" y="186.98" width="7.63" height="5.56" fill="#d7edf5"/>
<rect x="144.85" y="186.98" width="7.63" height="5.56" fill="#d7edf5"/>
<rect x="152.48" y="186.98" width="7.63" height="5.56" fill="#e4f5f0"/>
<rect x="160.11" y="186.98" width="7.63" height="5.56" fill="#fff7b3"/>
<rect x="167.74" y="186.98" width="7.63" height="5.56" fill="#fff7b3"/>
<rect x="175.37" y="186.98" width="7.63" height="5.56" fill="#fff7b3"/>
<rect x="183.00" y="186.98" width="7.63" height="5.56" fill="#fffab7"/>
<rect x="190.63" y="186.98" width="7.63" height="5.56" fill="#fff2ab"/>
<rect x="198.26" y="186.98" width="7.63" height="5.56" fill="#fff7b3"/>
<rect x="205.89" y="186.98" width="7.63" height="5.56" fill="#fff7b3"/>
<rect x="213.52" y="186.98" width="7.63" height="5.56" fill="#fffab7"/>
<rect x="221.15" y="186.98" width="7.63" height="5.56" fill="#fee497"/>
<rect x="228.78" y="186.98" width="7.63" height="5.56" fill="#fee79b"/>
<rect x="236.41" y="186.98" width="7.63" height="5.56" fill="#fee293"/>
<rect x="244.04" y="186.98" width="7.63" height="5.56" fill="#d73027"/>
<rect x="251.67" y="186.98" width="7.63" height="5.56" fill="#fede8e"/>
<rect x="259.30" y="186.98" width="7.63" height="5.56" fill="#fee293"/>
<rect x="266.93" y="186.98" width="7.63" height="5.56" fill="#fee293"/>
<rect x="274.56" y="186.98" width="7.63" height="5.56" fill="#fff7b3"/>
<rect x="282.19" y="186.98" width="7.63" height="5.56" fill="#fee293"/>
<rect x="289.82" y="186.98" width="7.63" height="5.56" fill="#fede8e"/>
<rect x="297.45" y="186.98" width="7.63" height="5.56" fill="#fee293"/>
<rect x="30.40" y="192.54" width="7.63" height="5.56" fill="#d7edf5"/>
<rect x="38.03" y="192.54" width="7.63" height="5.56" fill="#aed2e6"/>
<rect x="45.66" y="192.54" width="7.63" height="5.56" fill="#d0e9f2"/>
<rect x="53.29" y="192.54" width="7.63" height="5.56" fill="#e2f4f5"/>
<rect x="60.92" y="192.54" width="7.63" height="5.56" fill="#e2f4f5"/>
<rect x="68.55" y="192.54" width="7.63" height="5.56" fill="#e4f5f0"/>
<rect x="76.18" y="192.54" width="7.63" height="5.56" fill="#bcdbeb"/>
<rect x="83.81" y="192.54" width="7.63" height="5.56" fill="#b5d7e8"/>
<rect x="91.44" y="192.54" width="7.63" height="5.56" fill="#a8cee3"/>
<rect x="99.07" y="192.54" width="7.63" height="5.56" fill="#def2f7"/>
<rect x="106.70" y="192.54" width="7.63" height="5.56" fill="#b5d7e8"/>
<rect x="114.33" y="192.54" width="7.63" height="5.56" fill="#c9e4f0"/>
<rect x="121.96" y="192.54" width="7.63" height="5.56" fill="#8dbbd9"/>
<rect x="129.59" y="192.54" width="7.63" height="5.56" fill="#73a1cb"/>
<rect x="137.22" y="192.54" width="7.63" height="5.56" fill="#9ac5de"/>
<rect x="144.85" y="192.54" width="7.63" height="5.56" fill="#9ac5de"/>
<rect x="152.48" y="192.54" width="7.63" height="5.56" fill="#a8cee3"/>
<rect x="160.11" y="192.54" width="7.63" height="5.56" fill="#fff7b3"/>
<rect x="167.74" y="192.54" width="7.63" height="5.56" fill="#fff7b3"/>
<rect x="175.37" y="192.54" width="7.63" height="5.56" fill="#feefa7"/>
<rect x="183.00" y="192.54" width="7.63" height="5.56" fill="#feefa7"/>
<rect x="190.63" y="192.54" width="7.63" height="5.56" fill="#fff7b3"/>
<rect x="198.26" y="192.54" width="7.63" height="5.56" fill="#fffcbb"/>
<rect x="205.89" y="192.54" width="7.63" height="5.56" fill="#fffab7"/>
<rect x="213.52" y="192.54" width="7.63" height="5.56" fill="#feeca3"/>
<rect x="221.15" y="192.54" width="7.63" height="5.56" fill="#fede8e"/>
<rect x="228.78" y="192.54" width="7.63" height="5.56" fill="#fee79b"/>
<rect x="236.41" y="192.54" width="7.63" height="5.56" fill="#fee497"/>
<rect x="244.04" y="192.54" width="7.63" height="5.56" fill="#fede8e"/>
<rect x="251.67" y="192.54" width="7.63" height="5.56" fill="#d73027"/>
<rect x="259.30" y="192.54" width="7.63" height="5.56" fill="#fdc880"/>
<rect x="266.93" y="192.54" width="7.63" height="5.56" fill="#fdc17c"/>
<rect x="274.56" y="192.54" width="7.63" height="5.56" fill="#fee497"/>
<rect x="282.19" y="192.54" width="7.63" height="5.56" fill="#fee293"/>
<rect x="289.82" y="192.54" width="7.63" height="5.56" fill="#fee293"/>
<rect x="297.45" y="192.54" width="7.63" height="5.56" fill="#fee497"/>
<rect x="30.40" y="198.10" width="7.63" height="5.56" fill="#e4f5f0"/>
<rect x="38.03" y="198.10" width="7.63" height="5.56" fill="#e2f4f5"/>
<rect x="45.66" y="198.10" width="7.63" height="5.56" fill="#eaf7e6"/>
<rect x="53.29" y="198.10" width="7.63" height="5.56" fill="#ecf8e1"/>
<rect x="60.92" y="198.10" width="7.63" height="5.56" fill="#ecf8e1"/>
<rect x="68.55" y="198.10" width="7.63" height="5.56" fill="#eaf7e6"/>
<rect x="76.18" y="198.10" width="7.63" height="5.56" fill="#d7edf5"/>
<rect x="83.81" y="198.10" width="7.63" height="5.56" fill="#d7edf5"/>
<rect x="91.44" y="198.10" width="7.63" height="5.56" fill="#d7edf5"/>
<rect x="99.07" y="198.10" width="7.63" height="5.56" fill="#e7f6eb"/>
<rect x="106.70" y="198.10" width="7.63" height="5.56" fill="#c3e0ed"/>
<rect x="114.33" y="198.10" width="7.63" height="5.56" fill="#d0e9f2"/>
<rect x="121.96" y="198.10" width="7.63" height="5.56" fill="#9ac5de"/>
<rect x="129.59" y="198.10" width="7.63" height="5.56" fill="#8dbbd9"/>
<rect x="137.22" y="198.10" width="7.63" height="5.56" fill="#a8cee3"/>
<rect x="144.85" y="198.10" width="7.63" height="5.56" fill="#a8cee3"/>
<rect x="152.48" y="198.10" width="7.63" height="5.56" fill="#bcdbeb"/>
<rect x="160.11" y="198.10" width="7.63" height="5.56" fill="#feeca3"/>
<rect x="167.74" y="198.10" width="7.63" height="5.56" fill="#feeca3"/>
<rect x="175.37" y="198.10" width="7.63" height="5.56" fill="#feeca3"/>
<rect x="183.00" y="198.10" width="7.63" height="5.56" fill="#feeca3"/>
<rect x="190.63" y="198.10" width="7.63" height="5.56" fill="#fff7b3"/>
<rect x="198.26" y="198.10" width="7.63" height="5.56" fill="#fff2ab"/>
<rect x="205.89" y="198.10" width="7.63" height="5.56" fill="#feefa7"/>
<rect x="213.52" y="198.10" width="7.63" height="5.56" fill="#feea9f"/>
<rect x="221.15" y="198.10" width="7.63" height="5.56" fill="#fee293"/>
<rect x="228.78" y="198.10" width="7.63" height="5.56" fill="#feeca3"/>
<rect x="236.41" y="198.10" width="7.63" height="5.56" fill="#fee497"/>
<rect x="244.04" y="198.10" width="7.63" height="5.56" fill="#fee293"/>
<rect x="251.67" y="198.10" width="7.63" height="5.56" fill="#fdc880"/>
<rect x="259.30" y="198.10" width="7.63" height="5.56" fill="#d73027"/>
<rect x="266.93" y="198.10" width="7.63" height="5.56" fill="#fdc880"/>
<rect x="274.56" y="198.10" width="7.63" height="5.56" fill="#fee497"/>
<rect x="282.19" y="198.10" width="7.63" height="5.56" fill="#fee293"/>
<rect x="289.82" y="198.10" width="7.63" height="5.56" fill="#fee293"/>
<rect x="297.45" y="198.10" width="7.63" height="5.56" fill="#fee497"/>
<rect x="30.40" y="203.66" width="7.63" height="5.56" fill="#def2f7"/>
<rect x="38.03" y="203.66" width="7.63" height="5.56" fill="#d7edf5"/>
<rect x="45.66" y="203.66" width="7.63" height="5.56" fill="#ecf8e1"/>
<rect x="53.29" y="203.66" width="7.63" height="5.56" fill="#ecf8e1"/>
<rect x="60.92" y="203.66" width="7.63" height="5.56" fill="#eaf7e6"/>
<rect x="68.55" y="203.66" width="7.63" height="5.56" fill="#eaf7e6"/>
<rect x="76.18" y="203.66" width="7.63" height="5.56" fill="#def2f7"/>
<rect x="83.81" y="203.66" width="7.63" height="5.56" fill="#c9e4f0"/>
<rect x="91.44" y="203.66" width="7.63" height="5.56" fill="#c9e4f0"/>
<rect x="99.07" y="203.66" width="7.63" height="5.56" fill="#d7edf5"/>
<rect x="106.70" y="203.66" width="7.63" height="5.56" fill="#b5d7e8"/>
<rect x="114.33" y="203.66" width="7.63" height="5.56" fill="#d7edf5"/>
<rect x="121.96" y="203.66" width="7.63" height="5.56" fill="#a1c9e1"/>
<rect x="129.59" y="203.66" width="7.63" height="5.56" fill="#86b4d5"/>
<rect x="137.22" y="203.66" width="7.63" height="5.56" fill="#b5d7e8"/>
<rect x="144.85" y="203.66" width="7.63" height="5.56" fill="#a8cee3"/>
<rect x="152.48" y="203.66" width="7.63" height="5.56" fill="#c9e4f0"/>
<rect x="160.11" y="203.66" width="7.63" height="5.56" fill="#fff2ab"/>
<rect x="167.74" y="203.66" width="7.63" height="5.56" fill="#feeca3"/>
<rect x="175.37" y="203.66" width="7.63" height="5.56" fill="#fee79b"/>
<rect x="183.00" y="203.66" width="7.63" height="5.56" fill="#feea9f"/>
<rect x="190.63" y="203.66" width="7.63" height="5.56" fill="#feefa7"/>
<rect x="198.26" y="203.66" width="7.63" height="5.56" fill="#feeca3"/>
<rect x="205.89" y="203.66" width="7.63" height="5.56" fill="#feeca3"/>
<rect x="213.52" y="203.66" width="7.63" height="5.56" fill="#fee497"/>
<rect x="221.15" y="203.66" width="7.63" height="5.56" fill="#fdac6d"/>
<rect x="228.78" y="203.66" width="7.63" height="5.56" fill="#fed78a"/>
<rect x="236.41" y="203.66" width="7.63" height="5.56" fill="#fede8e"/>
<rect x="244.04" y="203.66" width="7.63" height="5.56" fill="#fee293"/>
<rect x="251.67" y="203.66" width="7.63" height="5.56" fill="#fdc17c"/>
<rect x="259.30" y="203.66" width="7.63" height="5.56" fill="#fdc880"/>
<rect x="266.93" y="203.66" width="7.63" height="5.56" fill="#d73027"/>
<rect x="274.56" y="203.66" width="7.63" height="5.56" fill="#fecf85"/>
<rect x="282.19" y="203.66" width="7.63" height="5.56" fill="#fdc880"/>
<rect x="289.82" y="203.66" width="7.63" height="5.56" fill="#fdc880"/>
<rect x="297.45" y="203.66" width="7.63" height="5.56" fill="#fdc880"/>
<rect x="30.40" y="209.22" width="7.63" height="5.56" fill="#b5d7e8"/>
<rect x="38.03" y="209.22" width="7.63" height="5.56" fill="#c9e4f0"/>
<rect x="45.66" y="209.22" width="7.63" height="5.56" fill="#d0e9f2"/>
<rect x="53.29" y="209.22" width="7.63" height="5.56" fill="#e2f4f5"/>
<rect x="60.92" y="209.22" width="7.63" height="5.56" fill="#e2f4f5"/>
<rect x="68.55" y="209.22" width="7.63" height="5.56" fill="#e2f4f5"/>
<rect x="76.18" y="209.22" width="7.63" height="5.56" fill="#c9e4f0"/>
<rect x="83.81" y="209.22" width="7.63" height="5.56" fill="#b5d7e8"/>
<rect x="91.44" y="209.22" width="7.63" height="5.56" fill="#aed2e6"/>
<rect x="99.07" y="209.22" width="7.63" height="5.56" fill="#d7edf5"/>
<rect x="106.70" y="209.22" width="7.63" height="5.56" fill="#bcdbeb"/>
<rect x="114.33" y="209.22" width="7.63" height="5.56" fill="#c9e4f0"/>
<rect x="121.96" y="209.22" width="7.63" height="5.56" fill="#8dbbd9"/>
<rect x="129.59" y="209.22" width="7.63" height="5.56" fill="#86b4d5"/>
<rect x="137.22" y="209.22" width="7.63" height="5.56" fill="#a1c9e1"/>
<rect x="144.85" y="209.22" width="7.63" height="5.56" fill="#a1c9e1"/>
<rect x="152.48" y="209.22" width="7.63" height="5.56" fill="#b5d7e8"/>
<rect x="160.11" y="209.22" width="7.63" height="5.56" fill="#feefa7"/>
<rect x="167.74" y="209.22" width="7.63" height="5.56" fill="#fee79b"/>
<rect x="175.37" y="209.22" width="7.63" height="5.56" fill="#fee79b"/>
<rect x="183.00" y="209.22" width="7.63" height="5.56" fill="#fee79b"/>
<rect x="190.63" y="209.22" width="7.63" height="5.56" fill="#feea9f"/>
<rect x="198.26" y="209.22" width="7.63" height="5.56" fill="#feea9f"/>
<rect x="205.89" y="209.22" width="7.63" height="5.56" fill="#feea9f"/>
<rect x="213.52" y="209.22" width="7.63" height="5.56" fill="#fee79b"/>
<rect x="221.15" y="209.22" width="7.63" height="5.56" fill="#fee79b"/>
<rect x="228.78" y="209.22" width="7.63" height="5.56" fill="#feeca3"/>
<rect x="236.41" y="209.22" width="7.63" height="5.56" fill="#fee293"/>
<rect x="244.04" y="209.22" width="7.63" height="5.56" fill="#fff7b3"/>
<rect x="251.67" y="209.22" width="7.63" height="5.56" fill="#fee497"/>
<rect x="259.30" y="209.22" width="7.63" height="5.56" fill="#fee497"/>
<rect x="266.93" y="209.22" width="7.63" height="5.56" fill="#fecf85"/>
<rect x="274.56" y="209.22" width="7.63" height="5.56" fill="#d73027"/>
<rect x="282.19" y="209.22" width="7.63" height="5.56" fill="#fede8e"/>
<rect x="289.82" y="209.22" width="7.63" height="5.56" fill="#fee293"/>
<rect x="297.45" y="209.22" width="7.63" height="5.56" fill="#fede8e"/>
<rect x="30.40" y="214.78" width="7.63" height="5.56" fill="#d7edf5"/>
<rect x="38.03" y="214.78" width="7.63" height="5.56" fill="#d0e9f2"/>
<rect x="45.66" y="214.78" width="7.63" height="5.56" fill="#e4f5f0"/>
<rect x="53.29" y="214.78" width="7.63" height="5.56" fill="#eaf7e6"/>
<rect x="60.92" y="214.78" width="7.63" height="5.56" fill="#e7f6eb"/>
<rect x="68.55" y="214.78" width="7.63" height="5.56" fill="#e7f6eb"/>
<rect x="76.18" y="214.78" width="7.63" height="5.56" fill="#def2f7"/>
<rect x="83.81" y="214.78" width="7.63" height="5.56" fill="#d7edf5"/>
<rect x="91.44" y="214.78" width="7.63" height="5.56" fill="#d7edf5"/>
<rect x="99.07" y="214.78" width="7.63" height="5.56" fill="#e2f4f5"/>
<rect x="106.70" y="214.78" width="7.63" height="5.56" fill="#d0e9f2"/>
<rect x="114.33" y="214.78" width="7.63" height="5.56" fill="#def2f7"/>
<rect x="121.96" y="214.78" width="7.63" height="5.56" fill="#b5d7e8"/>
<rect x="129.59" y="214.78" width="7.63" height="5.56" fill="#a1c9e1"/>
<rect x="137.22" y="214.78" width="7.63" height="5.56" fill="#c9e4f0"/>
<rect x="144.85" y="214.78" width="7.63" height="5.56" fill="#bcdbeb"/>
<rect x="152.48" y="214.78" width="7.63" height="5.56" fill="#c9e4f0"/>
<rect x="160.11" y="214.78" width="7.63" height="5.56" fill="#feeca3"/>
<rect x="167.74" y="214.78" width="7.63" height="5.56" fill="#feeca3"/>
<rect x="175.37" y="214.78" width="7.63" height="5.56" fill="#fee79b"/>
<rect x="183.00" y="214.78" width="7.63" height="5.56" fill="#feea9f"/>
<rect x="190.63" y="214.78" width="7.63" height="5.56" fill="#feea9f"/>
<rect x="198.26" y="214.78" width="7.63" height="5.56" fill="#feeca3"/>
<rect x="205.89" y="214.78" width="7.63" height="5.56" fill="#feea9f"/>
<rect x="213.52" y="214.78" width="7.63" height="5.56" fill="#feea9f"/>
<rect x="221.15" y="214.78" width="7.63" height="5.56" fill="#fee293"/>
<rect x="228.78" y="214.78" width="7.63" height="5.56" fill="#fee79b"/>
<rect x="236.41" y="214.78" width="7.63" height="5.56" fill="#fee293"/>
<rect x="244.04" y="214.78" width="7.63" height="5.56" fill="#fee293"/>
<rect x="251.67" y="214.78" width="7.63" height="5.56" fill="#fee293"/>
<rect x="259.30" y="214.78" width="7.63" height="5.56" fill="#fee293"/>
<rect x="266.93" y="214.78" width="7.63" height="5.56" fill="#fdc880"/>
<rect x="274.56" y="214.78" width="7.63" height="5.56" fill="#fede8e"/>
<rect x="282.19" y="214.78" width="7.63" height="5.56" fill="#d73027"/>
<rect x="289.82" y="214.78" width="7.63" height="5.56" fill="#fede8e"/>
<rect x="297.45" y="214.78" width="7.63" height="5.56" fill="#fee497"/>
<rect x="30.40" y="220.34" width="7.63" height="5.56" fill="#bcdbeb"/>
<rect x="38.03" y="220.34" width="7.63" height="5.56" fill="#e7f6eb"/>
<rect x="45.66" y="220.34" width="7.63" height="5.56" fill="#f4fbd3"/>
<rect x="53.29" y="220.34" width="7.63" height="5.56" fill="#f7fcce"/>
<rect x="60.92" y="220.34" width="7.63" height="5.56" fill="#eff9dc"/>
<rect x="68.55" y="220.34" width="7.63" height="5.56" fill="#f4fbd3"/>
<rect x="76.18" y="220.34" width="7.63" height="5.56" fill="#e4f5f0"/>
<rect x="83.81" y="220.34" width="7.63" height="5.56" fill="#def2f7"/>
<rect x="91.44" y="220.34" width="7.63" height="5.56" fill="#def2f7"/>
<rect x="99.07" y="220.34" width="7.63" height="5.56" fill="#def2f7"/>
<rect x="106.70" y="220.34" width="7.63" height="5.56" fill="#c9e4f0"/>
<rect x="114.33" y="220.34" width="7.63" height="5.56" fill="#d7edf5"/>
<rect x="121.96" y="220.34" width="7.63" height="5.56" fill="#aed2e6"/>
<rect x="129.59" y="220.34" width="7.63" height="5.56" fill="#a1c9e1"/>
<rect x="137.22" y="220.34" width="7.63" height="5.56" fill="#c3e0ed"/>
<rect x="144.85" y="220.34" width="7.63" height="5.56" fill="#c3e0ed"/>
<rect x="152.48" y="220.34" width="7.63" height="5.56" fill="#b5d7e8"/>
<rect x="160.11" y="220.34" width="7.63" height="5.56" fill="#feeca3"/>
<rect x="167.74" y="220.34" width="7.63" height="5.56" fill="#fee79b"/>
<rect x="175.37" y="220.34" width="7.63" height="5.56" fill="#fee79b"/>
<rect x="183.00" y="220.34" width="7.63" height="5.56" fill="#fede8e"/>
<rect x="190.63" y="220.34" width="7.63" height="5.56" fill="#feefa7"/>
<rect x="198.26" y="220.34" width="7.63" height="5.56" fill="#feeca3"/>
<rect x="205.89" y="220.34" width="7.63" height="5.56" fill="#fee497"/>
<rect x="213.52" y="220.34" width="7.63" height="5.56" fill="#feeca3"/>
<rect x="221.15" y="220.34" width="7.63" height="5.56" fill="#fede8e"/>
<rect x="228.78" y="220.34" width="7.63" height="5.56" fill="#feea9f"/>
<rect x="236.41" y="220.34" width="7.63" height="5.56" fill="#fee497"/>
<rect x="244.04" y="220.34" width="7.63" height="5.56" fill="#fede8e"/>
<rect x="251.67" y="220.34" width="7.63" height="5.56" fill="#fee293"/>
<rect x="259.30" y="220.34" width="7.63" height="5.56" fill="#fee293"/>
<rect x="266.93" y="220.34" width="7.63" height="5.56" fill="#fdc880"/>
<rect x="274.56" y="220.34" width="7.63" height="5.56" fill="#fee293"/>
<rect x="282.19" y="220.34" width="7.63" height="5.56" fill="#fede8e"/>
<rect x="289.82" y="220.34" width="7.63" height="5.56" fill="#d73027"/>
<rect x="297.45" y="220.34" width="7.63" height="5.56" fill="#fee293"/>
<rect x="30.40" y="225.90" width="7.63" height="5.56" fill="#bcdbeb"/>
<rect x="38.03" y="225.90" width="7.63" height="5.56" fill="#d7edf5"/>
<rect x="45.66" y="225.90" width="7.63" height="5.56" fill="#eaf7e6"/>
<rect x="53.29" y="225.90" width="7.63" height="5.56" fill="#e7f6eb"/>
<rect x="60.92" y="225.90" width="7.63" height="5.56" fill="#ecf8e1"/>
<rect x="68.55" y="225.90" width="7.63" height="5.56" fill="#f7fcce"/>
<rect x="76.18" y="225.90" width="7.63" height="5.56" fill="#def2f7"/>
<rect x="83.81" y="225.90" width="7.63" height="5.56" fill="#c9e4f0"/>
<rect x="91.44" y="225.90" width="7.63" height="5.56" fill="#d7edf5"/>
<rect x="99.07" y="225.90" width="7.63" height="5.56" fill="#d7edf5"/>
<rect x="106.70" y="225.90" width="7.63" height="5.56" fill="#d0e9f2"/>
<rect x="114.33" y="225.90" width="7.63" height="5.56" fill="#e2f4f5"/>
<rect x="121.96" y="225.90" width="7.63" height="5.56" fill="#a8cee3"/>
<rect x="129.59" y="225.90" width="7.63" height="5.56" fill="#a1c9e1"/>
<rect x="137.22" y="225.90" width="7.63" height="5.56" fill="#c3e0ed"/>
<rect x="144.85" y="225.90" width="7.63" height="5.56" fill="#b5d7e8"/>
<rect x="152.48" y="225.90" width="7.63" height="5.56" fill="#bcdbeb"/>
<rect x="160.11" y="225.90" width="7.63" height="5.56" fill="#feeca3"/>
<rect x="167.74" y="225.90" width="7.63" height="5.56" fill="#fee497"/>
<rect x="175.37" y="225.90" width="7.63" height="5.56" fill="#fee497"/>
<rect x="183.00" y="225.90" width="7.63" height="5.56" fill="#fee497"/>
<rect x="190.63" y="225.90" width="7.63" height="5.56" fill="#fee497"/>
<rect x="198.26" y="225.90" width="7.63" height="5.56" fill="#feefa7"/>
<rect x="205.89" y="225.90" width="7.63" height="5.56" fill="#feefa7"/>
<rect x="213.52" y="225.90" width="7.63" height="5.56" fill="#feea9f"/>
<rect x="221.15" y="225.90" width="7.63" height="5.56" fill="#fee293"/>
<rect x="228.78" y="225.90" width="7.63" height="5.56" fill="#feeca3"/>
<rect x="236.41" y="225.90" width="7.63" height="5.56" fill="#fee497"/>
<rect x="244.04" y="225.90" width="7.63" height="5.56" fill="#fee293"/>
<rect x="251.67" y="225.90" width="7.63" height="5.56" fill="#fee497"/>
<rect x="259.30" y="225.90" width="7.63" height="5.56" fill="#fee497"/>
<rect x="266.93" y="225.90" width="7.63" height="5.56" fill="#fdc880"/>
<rect x="274.56" y="225.90" width="7.63" height="5.56" fill="#fede8e"/>
<rect x="282.19" y="225.90" width="7.63" height="5.56" fill="#fee497"/>
<rect x="289.82" y="225.90" width="7.63" height="5.56" fill="#fee293"/>
<rect x="297.45" y="225.90" width="7.63" height="5.56" fill="#d73027"/>
<line x1="30.40" y1="31.30" x2="305.08" y2="31.30" stroke="#ffffff" stroke-width="0.50" stroke-opacity="0.45"/>
<line x1="30.40" y1="31.30" x2="30.40" y2="231.46" stroke="#ffffff" stroke-width="0.50" stroke-opacity="0.45"/>
<line x1="30.40" y1="36.86" x2="305.08" y2="36.86" stroke="#ffffff" stroke-width="0.50" stroke-opacity="0.45"/>
<line x1="38.03" y1="31.30" x2="38.03" y2="231.46" stroke="#ffffff" stroke-width="0.50" stroke-opacity="0.45"/>
<line x1="30.40" y1="42.42" x2="305.08" y2="42.42" stroke="#ffffff" stroke-width="0.50" stroke-opacity="0.45"/>
<line x1="45.66" y1="31.30" x2="45.66" y2="231.46" stroke="#ffffff" stroke-width="0.50" stroke-opacity="0.45"/>
<line x1="30.40" y1="47.98" x2="305.08" y2="47.98" stroke="#ffffff" stroke-width="0.50" stroke-opacity="0.45"/>
<line x1="53.29" y1="31.30" x2="53.29" y2="231.46" stroke="#ffffff" stroke-width="0.50" stroke-opacity="0.45"/>
<line x1="30.40" y1="53.54" x2="305.08" y2="53.54" stroke="#ffffff" stroke-width="0.50" stroke-opacity="0.45"/>
<line x1="60.92" y1="31.30" x2="60.92" y2="231.46" stroke="#ffffff" stroke-width="0.50" stroke-opacity="0.45"/>
<line x1="30.40" y1="59.10" x2="305.08" y2="59.10" stroke="#ffffff" stroke-width="0.50" stroke-opacity="0.45"/>
<line x1="68.55" y1="31.30" x2="68.55" y2="231.46" stroke="#ffffff" stroke-width="0.50" stroke-opacity="0.45"/>
<line x1="30.40" y1="64.66" x2="305.08" y2="64.66" stroke="#ffffff" stroke-width="0.50" stroke-opacity="0.45"/>
<line x1="76.18" y1="31.30" x2="76.18" y2="231.46" stroke="#ffffff" stroke-width="0.50" stroke-opacity="0.45"/>
<line x1="30.40" y1="70.22" x2="305.08" y2="70.22" stroke="#ffffff" stroke-width="0.50" stroke-opacity="0.45"/>
<line x1="83.81" y1="31.30" x2="83.81" y2="231.46" stroke="#ffffff" stroke-width="0.50" stroke-opacity="0.45"/>
<line x1="30.40" y1="75.78" x2="305.08" y2="75.78" stroke="#ffffff" stroke-width="0.50" stroke-opacity="0.45"/>
<line x1="91.44" y1="31.30" x2="91.44" y2="231.46" stroke="#ffffff" stroke-width="0.50" stroke-opacity="0.45"/>
<line x1="30.40" y1="81.34" x2="305.08" y2="81.34" stroke="#ffffff" stroke-width="0.50" stroke-opacity="0.45"/>
<line x1="99.07" y1="31.30" x2="99.07" y2="231.46" stroke="#ffffff" stroke-width="0.50" stroke-opacity="0.45"/>
<line x1="30.40" y1="86.90" x2="305.08" y2="86.90" stroke="#ffffff" stroke-width="0.50" stroke-opacity="0.45"/>
<line x1="106.70" y1="31.30" x2="106.70" y2="231.46" stroke="#ffffff" stroke-width="0.50" stroke-opacity="0.45"/>
<line x1="30.40" y1="92.46" x2="305.08" y2="92.46" stroke="#ffffff" stroke-width="0.50" stroke-opacity="0.45"/>
<line x1="114.33" y1="31.30" x2="114.33" y2="231.46" stroke="#ffffff" stroke-width="0.50" stroke-opacity="0.45"/>
<line x1="30.40" y1="98.02" x2="305.08" y2="98.02" stroke="#ffffff" stroke-width="0.50" stroke-opacity="0.45"/>
<line x1="121.96" y1="31.30" x2="121.96" y2="231.46" stroke="#ffffff" stroke-width="0.50" stroke-opacity="0.45"/>
<line x1="30.40" y1="103.58" x2="305.08" y2="103.58" stroke="#ffffff" stroke-width="0.50" stroke-opacity="0.45"/>
<line x1="129.59" y1="31.30" x2="129.59" y2="231.46" stroke="#ffffff" stroke-width="0.50" stroke-opacity="0.45"/>
<line x1="30.40" y1="109.14" x2="305.08" y2="109.14" stroke="#ffffff" stroke-width="0.50" stroke-opacity="0.45"/>
<line x1="137.22" y1="31.30" x2="137.22" y2="231.46" stroke="#ffffff" stroke-width="0.50" stroke-opacity="0.45"/>
<line x1="30.40" y1="114.70" x2="305.08" y2="114.70" stroke="#ffffff" stroke-width="0.50" stroke-opacity="0.45"/>
<line x1="144.85" y1="31.30" x2="144.85" y2="231.46" stroke="#ffffff" stroke-width="0.50" stroke-opacity="0.45"/>
<line x1="30.40" y1="120.26" x2="305.08" y2="120.26" stroke="#ffffff" stroke-width="0.50" stroke-opacity="0.45"/>
<line x1="152.48" y1="31.30" x2="152.48" y2="231.46" stroke="#ffffff" stroke-width="0.50" stroke-opacity="0.45"/>
<line x1="30.40" y1="125.82" x2="305.08" y2="125.82" stroke="#ffffff" stroke-width="0.50" stroke-opacity="0.45"/>
<line x1="160.11" y1="31.30" x2="160.11" y2="231.46" stroke="#ffffff" stroke-width="0.50" stroke-opacity="0.45"/>
<line x1="30.40" y1="131.38" x2="305.08" y2="131.38" stroke="#ffffff" stroke-width="0.50" stroke-opacity="0.45"/>
<line x1="167.74" y1="31.30" x2="167.74" y2="231.46" stroke="#ffffff" stroke-width="0.50" stroke-opacity="0.45"/>
<line x1="30.40" y1="136.94" x2="305.08" y2="136.94" stroke="#ffffff" stroke-width="0.50" stroke-opacity="0.45"/>
<line x1="175.37" y1="31.30" x2="175.37" y2="231.46" stroke="#ffffff" stroke-width="0.50" stroke-opacity="0.45"/>
<line x1="30.40" y1="142.50" x2="305.08" y2="142.50" stroke="#ffffff" stroke-width="0.50" stroke-opacity="0.45"/>
<line x1="183.00" y1="31.30" x2="183.00" y2="231.46" stroke="#ffffff" stroke-width="0.50" stroke-opacity="0.45"/>
<line x1="30.40" y1="148.06" x2="305.08" y2="148.06" stroke="#ffffff" stroke-width="0.50" stroke-opacity="0.45"/>
<line x1="190.63" y1="31.30" x2="190.63" y2="231.46" stroke="#ffffff" stroke-width="0.50" stroke-opacity="0.45"/>
<line x1="30.40" y1="153.62" x2="305.08" y2="153.62" stroke="#ffffff" stroke-width="0.50" stroke-opacity="0.45"/>
<line x1="198.26" y1="31.30" x2="198.26" y2="231.46" stroke="#ffffff" stroke-width="0.50" stroke-opacity="0.45"/>
<line x1="30.40" y1="159.18" x2="305.08" y2="159.18" stroke="#ffffff" stroke-width="0.50" stroke-opacity="0.45"/>
<line x1="205.89" y1="31.30" x2="205.89" y2="231.46" stroke="#ffffff" stroke-width="0.50" stroke-opacity="0.45"/>
<line x1="30.40" y1="164.74" x2="305.08" y2="164.74" stroke="#ffffff" stroke-width="0.50" stroke-opacity="0.45"/>
<line x1="213.52" y1="31.30" x2="213.52" y2="231.46" stroke="#ffffff" stroke-width="0.50" stroke-opacity="0.45"/>
<line x1="30.40" y1="170.30" x2="305.08" y2="170.30" stroke="#ffffff" stroke-width="0.50" stroke-opacity="0.45"/>
<line x1="221.15" y1="31.30" x2="221.15" y2="231.46" stroke="#ffffff" stroke-width="0.50" stroke-opacity="0.45"/>
<line x1="30.40" y1="175.86" x2="305.08" y2="175.86" stroke="#ffffff" stroke-width="0.50" stroke-opacity="0.45"/>
<line x1="228.78" y1="31.30" x2="228.78" y2="231.46" stroke="#ffffff" stroke-width="0.50" stroke-opacity="0.45"/>
<line x1="30.40" y1="181.42" x2="305.08" y2="181.42" stroke="#ffffff" stroke-width="0.50" stroke-opacity="0.45"/>
<line x1="236.41" y1="31.30" x2="236.41" y2="231.46" stroke="#ffffff" stroke-width="0.50" stroke-opacity="0.45"/>
<line x1="30.40" y1="186.98" x2="305.08" y2="186.98" stroke="#ffffff" stroke-width="0.50" stroke-opacity="0.45"/>
<line x1="244.04" y1="31.30" x2="244.04" y2="231.46" stroke="#ffffff" stroke-width="0.50" stroke-opacity="0.45"/>
<line x1="30.40" y1="192.54" x2="305.08" y2="192.54" stroke="#ffffff" stroke-width="0.50" stroke-opacity="0.45"/>
<line x1="251.67" y1="31.30" x2="251.67" y2="231.46" stroke="#ffffff" stroke-width="0.50" stroke-opacity="0.45"/>
<line x1="30.40" y1="198.10" x2="305.08" y2="198.10" stroke="#ffffff" stroke-width="0.50" stroke-opacity="0.45"/>
<line x1="259.30" y1="31.30" x2="259.30" y2="231.46" stroke="#ffffff" stroke-width="0.50" stroke-opacity="0.45"/>
<line x1="30.40" y1="203.66" x2="305.08" y2="203.66" stroke="#ffffff" stroke-width="0.50" stroke-opacity="0.45"/>
<line x1="266.93" y1="31.30" x2="266.93" y2="231.46" stroke="#ffffff" stroke-width="0.50" stroke-opacity="0.45"/>
<line x1="30.40" y1="209.22" x2="305.08" y2="209.22" stroke="#ffffff" stroke-width="0.50" stroke-opacity="0.45"/>
<line x1="274.56" y1="31.30" x2="274.56" y2="231.46" stroke="#ffffff" stroke-width="0.50" stroke-opacity="0.45"/>
<line x1="30.40" y1="214.78" x2="305.08" y2="214.78" stroke="#ffffff" stroke-width="0.50" stroke-opacity="0.45"/>
<line x1="282.19" y1="31.30" x2="282.19" y2="231.46" stroke="#ffffff" stroke-width="0.50" stroke-opacity="0.45"/>
<line x1="30.40" y1="220.34" x2="305.08" y2="220.34" stroke="#ffffff" stroke-width="0.50" stroke-opacity="0.45"/>
<line x1="289.82" y1="31.30" x2="289.82" y2="231.46" stroke="#ffffff" stroke-width="0.50" stroke-opacity="0.45"/>
<line x1="30.40" y1="225.90" x2="305.08" y2="225.90" stroke="#ffffff" stroke-width="0.50" stroke-opacity="0.45"/>
<line x1="297.45" y1="31.30" x2="297.45" y2="231.46" stroke="#ffffff" stroke-width="0.50" stroke-opacity="0.45"/>
<line x1="30.40" y1="231.46" x2="305.08" y2="231.46" stroke="#ffffff" stroke-width="0.50" stroke-opacity="0.45"/>
<line x1="305.08" y1="31.30" x2="305.08" y2="231.46" stroke="#ffffff" stroke-width="0.50" stroke-opacity="0.45"/>
<g font-family="Liberation Sans, sans-serif" font-size="2.90" fill="#333" fill-opacity="0.45" text-anchor="middle">
<text x="34.21" y="35.12">1.00</text>
<text x="41.84" y="35.12">0.69</text>
<text x="49.47" y="35.12">0.70</text>
<text x="57.10" y="35.12">0.72</text>
<text x="64.73" y="35.12">0.69</text>
<text x="72.36" y="35.12">0.69</text>
<text x="80.00" y="35.12">0.58</text>
<text x="87.62" y="35.12">0.59</text>
<text x="95.25" y="35.12">0.64</text>
<text x="102.88" y="35.12">0.72</text>
<text x="110.51" y="35.12">0.67</text>
<text x="118.15" y="35.12">0.65</text>
<text x="125.78" y="35.12">0.58</text>
<text x="133.41" y="35.12">0.60</text>
<text x="141.03" y="35.12">0.68</text>
<text x="148.66" y="35.12">0.65</text>
<text x="156.29" y="35.12">0.70</text>
<text x="163.93" y="35.12">0.62</text>
<text x="171.56" y="35.12">0.60</text>
<text x="179.19" y="35.12">0.56</text>
<text x="186.81" y="35.12">0.60</text>
<text x="194.44" y="35.12">0.56</text>
<text x="202.08" y="35.12">0.52</text>
<text x="209.71" y="35.12">0.54</text>
<text x="217.34" y="35.12">0.56</text>
<text x="224.97" y="35.12">0.47</text>
<text x="232.59" y="35.12">0.53</text>
<text x="240.22" y="35.12">0.60</text>
<text x="247.85" y="35.12">0.59</text>
<text x="255.49" y="35.12">0.52</text>
<text x="263.12" y="35.12">0.55</text>
<text x="270.75" y="35.12">0.53</text>
<text x="278.38" y="35.12">0.47</text>
<text x="286.00" y="35.12">0.52</text>
<text x="293.63" y="35.12">0.48</text>
<text x="301.26" y="35.12">0.48</text>
<text x="34.21" y="40.68">0.69</text>
<text x="41.84" y="40.68">1.00</text>
<text x="49.47" y="40.68">0.80</text>
<text x="57.10" y="40.68">0.71</text>
<text x="64.73" y="40.68">0.76</text>
<text x="72.36" y="40.68">0.76</text>
<text x="80.00" y="40.68">0.67</text>
<text x="87.62" y="40.68">0.67</text>
<text x="95.25" y="40.68">0.70</text>
<text x="102.88" y="40.68">0.70</text>
<text x="110.51" y="40.68">0.67</text>
<text x="118.15" y="40.68">0.72</text>
<text x="125.78" y="40.68">0.67</text>
<text x="133.41" y="40.68">0.72</text>
<text x="141.03" y="40.68">0.65</text>
<text x="148.66" y="40.68">0.63</text>
<text x="156.29" y="40.68">0.64</text>
<text x="163.93" y="40.68">0.61</text>
<text x="171.56" y="40.68">0.65</text>
<text x="179.19" y="40.68">0.56</text>
<text x="186.81" y="40.68">0.61</text>
<text x="194.44" y="40.68">0.64</text>
<text x="202.08" y="40.68">0.57</text>
<text x="209.71" y="40.68">0.61</text>
<text x="217.34" y="40.68">0.46</text>
<text x="224.97" y="40.68">0.46</text>
<text x="232.59" y="40.68">0.44</text>
<text x="240.22" y="40.68">0.51</text>
<text x="247.85" y="40.68">0.52</text>
<text x="255.49" y="40.68">0.46</text>
<text x="263.12" y="40.68">0.54</text>
<text x="270.75" y="40.68">0.52</text>
<text x="278.38" y="40.68">0.50</text>
<text x="286.00" y="40.68">0.51</text>
<text x="293.63" y="40.68">0.56</text>
<text x="301.26" y="40.68">0.52</text>
<text x="34.21" y="46.24">0.70</text>
<text x="41.84" y="46.24">0.80</text>
<text x="49.47" y="46.24">1.00</text>
<text x="57.10" y="46.24">0.80</text>
<text x="64.73" y="46.24">0.76</text>
<text x="72.36" y="46.24">0.75</text>
<text x="80.00" y="46.24">0.68</text>
<text x="87.62" y="46.24">0.70</text>
<text x="95.25" y="46.24">0.76</text>
<text x="102.88" y="46.24">0.68</text>
<text x="110.51" y="46.24">0.67</text>
<text x="118.15" y="46.24">0.70</text>
<text x="125.78" y="46.24">0.71</text>
<text x="133.41" y="46.24">0.71</text>
<text x="141.03" y="46.24">0.63</text>
<text x="148.66" y="46.24">0.63</text>
<text x="156.29" y="46.24">0.65</text>
<text x="163.93" y="46.24">0.62</text>
<text x="171.56" y="46.24">0.62</text>
<text x="179.19" y="46.24">0.58</text>
<text x="186.81" y="46.24">0.61</text>
<text x="194.44" y="46.24">0.62</text>
<text x="202.08" y="46.24">0.59</text>
<text x="209.71" y="46.24">0.60</text>
<text x="217.34" y="46.24">0.52</text>
<text x="224.97" y="46.24">0.54</text>
<text x="232.59" y="46.24">0.51</text>
<text x="240.22" y="46.24">0.52</text>
<text x="247.85" y="46.24">0.51</text>
<text x="255.49" y="46.24">0.51</text>
<text x="263.12" y="46.24">0.57</text>
<text x="270.75" y="46.24">0.58</text>
<text x="278.38" y="46.24">0.51</text>
<text x="286.00" y="46.24">0.55</text>
<text x="293.63" y="46.24">0.61</text>
<text x="301.26" y="46.24">0.57</text>
<text x="34.21" y="51.80">0.72</text>
<text x="41.84" y="51.80">0.71</text>
<text x="49.47" y="51.80">0.80</text>
<text x="57.10" y="51.80">1.00</text>
<text x="64.73" y="51.80">0.84</text>
<text x="72.36" y="51.80">0.76</text>
<text x="80.00" y="51.80">0.75</text>
<text x="87.62" y="51.80">0.76</text>
<text x="95.25" y="51.80">0.81</text>
<text x="102.88" y="51.80">0.78</text>
<text x="110.51" y="51.80">0.79</text>
<text x="118.15" y="51.80">0.82</text>
<text x="125.78" y="51.80">0.75</text>
<text x="133.41" y="51.80">0.76</text>
<text x="141.03" y="51.80">0.71</text>
<text x="148.66" y="51.80">0.75</text>
<text x="156.29" y="51.80">0.79</text>
<text x="163.93" y="51.80">0.63</text>
<text x="171.56" y="51.80">0.63</text>
<text x="179.19" y="51.80">0.60</text>
<text x="186.81" y="51.80">0.64</text>
<text x="194.44" y="51.80">0.62</text>
<text x="202.08" y="51.80">0.64</text>
<text x="209.71" y="51.80">0.63</text>
<text x="217.34" y="51.80">0.52</text>
<text x="224.97" y="51.80">0.56</text>
<text x="232.59" y="51.80">0.54</text>
<text x="240.22" y="51.80">0.55</text>
<text x="247.85" y="51.80">0.59</text>
<text x="255.49" y="51.80">0.54</text>
<text x="263.12" y="51.80">0.58</text>
<text x="270.75" y="51.80">0.58</text>
<text x="278.38" y="51.80">0.54</text>
<text x="286.00" y="51.80">0.57</text>
<text x="293.63" y="51.80">0.62</text>
<text x="301.26" y="51.80">0.56</text>
<text x="34.21" y="57.36">0.69</text>
<text x="41.84" y="57.36">0.76</text>
<text x="49.47" y="57.36">0.76</text>
<text x="57.10" y="57.36">0.84</text>
<text x="64.73" y="57.36">1.00</text>
<text x="72.36" y="57.36">0.85</text>
<text x="80.00" y="57.36">0.81</text>
<text x="87.62" y="57.36">0.82</text>
<text x="95.25" y="57.36">0.84</text>
<text x="102.88" y="57.36">0.83</text>
<text x="110.51" y="57.36">0.84</text>
<text x="118.15" y="57.36">0.85</text>
<text x="125.78" y="57.36">0.84</text>
<text x="133.41" y="57.36">0.83</text>
<text x="141.03" y="57.36">0.75</text>
<text x="148.66" y="57.36">0.77</text>
<text x="156.29" y="57.36">0.80</text>
<text x="163.93" y="57.36">0.64</text>
<text x="171.56" y="57.36">0.65</text>
<text x="179.19" y="57.36">0.61</text>
<text x="186.81" y="57.36">0.64</text>
<text x="194.44" y="57.36">0.67</text>
<text x="202.08" y="57.36">0.67</text>
<text x="209.71" y="57.36">0.66</text>
<text x="217.34" y="57.36">0.52</text>
<text x="224.97" y="57.36">0.48</text>
<text x="232.59" y="57.36">0.48</text>
<text x="240.22" y="57.36">0.54</text>
<text x="247.85" y="57.36">0.57</text>
<text x="255.49" y="57.36">0.54</text>
<text x="263.12" y="57.36">0.58</text>
<text x="270.75" y="57.36">0.57</text>
<text x="278.38" y="57.36">0.54</text>
<text x="286.00" y="57.36">0.56</text>
<text x="293.63" y="57.36">0.59</text>
<text x="301.26" y="57.36">0.58</text>
<text x="34.21" y="62.92">0.69</text>
<text x="41.84" y="62.92">0.76</text>
<text x="49.47" y="62.92">0.75</text>
<text x="57.10" y="62.92">0.76</text>
<text x="64.73" y="62.92">0.85</text>
<text x="72.36" y="62.92">1.00</text>
<text x="80.00" y="62.92">0.85</text>
<text x="87.62" y="62.92">0.82</text>
<text x="95.25" y="62.92">0.82</text>
<text x="102.88" y="62.92">0.82</text>
<text x="110.51" y="62.92">0.83</text>
<text x="118.15" y="62.92">0.83</text>
<text x="125.78" y="62.92">0.83</text>
<text x="133.41" y="62.92">0.83</text>
<text x="141.03" y="62.92">0.76</text>
<text x="148.66" y="62.92">0.76</text>
<text x="156.29" y="62.92">0.78</text>
<text x="163.93" y="62.92">0.62</text>
<text x="171.56" y="62.92">0.67</text>
<text x="179.19" y="62.92">0.60</text>
<text x="186.81" y="62.92">0.66</text>
<text x="194.44" y="62.92">0.70</text>
<text x="202.08" y="62.92">0.68</text>
<text x="209.71" y="62.92">0.66</text>
<text x="217.34" y="62.92">0.52</text>
<text x="224.97" y="62.92">0.49</text>
<text x="232.59" y="62.92">0.49</text>
<text x="240.22" y="62.92">0.55</text>
<text x="247.85" y="62.92">0.57</text>
<text x="255.49" y="62.92">0.55</text>
<text x="263.12" y="62.92">0.57</text>
<text x="270.75" y="62.92">0.57</text>
<text x="278.38" y="62.92">0.54</text>
<text x="286.00" y="62.92">0.56</text>
<text x="293.63" y="62.92">0.61</text>
<text x="301.26" y="62.92">0.62</text>
<text x="34.21" y="68.48">0.58</text>
<text x="41.84" y="68.48">0.67</text>
<text x="49.47" y="68.48">0.68</text>
<text x="57.10" y="68.48">0.75</text>
<text x="64.73" y="68.48">0.81</text>
<text x="72.36" y="68.48">0.85</text>
<text x="80.00" y="68.48">1.00</text>
<text x="87.62" y="68.48">0.77</text>
<text x="95.25" y="68.48">0.79</text>
<text x="102.88" y="68.48">0.80</text>
<text x="110.51" y="68.48">0.76</text>
<text x="118.15" y="68.48">0.80</text>
<text x="125.78" y="68.48">0.76</text>
<text x="133.41" y="68.48">0.77</text>
<text x="141.03" y="68.48">0.71</text>
<text x="148.66" y="68.48">0.73</text>
<text x="156.29" y="68.48">0.72</text>
<text x="163.93" y="68.48">0.66</text>
<text x="171.56" y="68.48">0.64</text>
<text x="179.19" y="68.48">0.64</text>
<text x="186.81" y="68.48">0.68</text>
<text x="194.44" y="68.48">0.65</text>
<text x="202.08" y="68.48">0.74</text>
<text x="209.71" y="68.48">0.72</text>
<text x="217.34" y="68.48">0.50</text>
<text x="224.97" y="68.48">0.41</text>
<text x="232.59" y="68.48">0.41</text>
<text x="240.22" y="68.48">0.45</text>
<text x="247.85" y="68.48">0.47</text>
<text x="255.49" y="68.48">0.48</text>
<text x="263.12" y="68.48">0.52</text>
<text x="270.75" y="68.48">0.53</text>
<text x="278.38" y="68.48">0.50</text>
<text x="286.00" y="68.48">0.53</text>
<text x="293.63" y="68.48">0.55</text>
<text x="301.26" y="68.48">0.53</text>
<text x="34.21" y="74.04">0.59</text>
<text x="41.84" y="74.04">0.67</text>
<text x="49.47" y="74.04">0.70</text>
<text x="57.10" y="74.04">0.76</text>
<text x="64.73" y="74.04">0.82</text>
<text x="72.36" y="74.04">0.82</text>
<text x="80.00" y="74.04">0.77</text>
<text x="87.62" y="74.04">1.00</text>
<text x="95.25" y="74.04">0.83</text>
<text x="102.88" y="74.04">0.79</text>
<text x="110.51" y="74.04">0.86</text>
<text x="118.15" y="74.04">0.86</text>
<text x="125.78" y="74.04">0.87</text>
<text x="133.41" y="74.04">0.86</text>
<text x="141.03" y="74.04">0.75</text>
<text x="148.66" y="74.04">0.73</text>
<text x="156.29" y="74.04">0.74</text>
<text x="163.93" y="74.04">0.58</text>
<text x="171.56" y="74.04">0.56</text>
<text x="179.19" y="74.04">0.57</text>
<text x="186.81" y="74.04">0.58</text>
<text x="194.44" y="74.04">0.58</text>
<text x="202.08" y="74.04">0.62</text>
<text x="209.71" y="74.04">0.62</text>
<text x="217.34" y="74.04">0.41</text>
<text x="224.97" y="74.04">0.41</text>
<text x="232.59" y="74.04">0.38</text>
<text x="240.22" y="74.04">0.44</text>
<text x="247.85" y="74.04">0.49</text>
<text x="255.49" y="74.04">0.47</text>
<text x="263.12" y="74.04">0.52</text>
<text x="270.75" y="74.04">0.50</text>
<text x="278.38" y="74.04">0.47</text>
<text x="286.00" y="74.04">0.52</text>
<text x="293.63" y="74.04">0.53</text>
<text x="301.26" y="74.04">0.50</text>
<text x="34.21" y="79.60">0.64</text>
<text x="41.84" y="79.60">0.70</text>
<text x="49.47" y="79.60">0.76</text>
<text x="57.10" y="79.60">0.81</text>
<text x="64.73" y="79.60">0.84</text>
<text x="72.36" y="79.60">0.82</text>
<text x="80.00" y="79.60">0.79</text>
<text x="87.62" y="79.60">0.83</text>
<text x="95.25" y="79.60">1.00</text>
<text x="102.88" y="79.60">0.80</text>
<text x="110.51" y="79.60">0.81</text>
<text x="118.15" y="79.60">0.84</text>
<text x="125.78" y="79.60">0.83</text>
<text x="133.41" y="79.60">0.84</text>
<text x="141.03" y="79.60">0.75</text>
<text x="148.66" y="79.60">0.74</text>
<text x="156.29" y="79.60">0.81</text>
<text x="163.93" y="79.60">0.63</text>
<text x="171.56" y="79.60">0.58</text>
<text x="179.19" y="79.60">0.57</text>
<text x="186.81" y="79.60">0.61</text>
<text x="194.44" y="79.60">0.60</text>
<text x="202.08" y="79.60">0.62</text>
<text x="209.71" y="79.60">0.63</text>
<text x="217.34" y="79.60">0.46</text>
<text x="224.97" y="79.60">0.43</text>
<text x="232.59" y="79.60">0.46</text>
<text x="240.22" y="79.60">0.45</text>
<text x="247.85" y="79.60">0.49</text>
<text x="255.49" y="79.60">0.45</text>
<text x="263.12" y="79.60">0.52</text>
<text x="270.75" y="79.60">0.50</text>
<text x="278.38" y="79.60">0.46</text>
<text x="286.00" y="79.60">0.52</text>
<text x="293.63" y="79.60">0.53</text>
<text x="301.26" y="79.60">0.52</text>
<text x="34.21" y="85.16">0.72</text>
<text x="41.84" y="85.16">0.70</text>
<text x="49.47" y="85.16">0.68</text>
<text x="57.10" y="85.16">0.78</text>
<text x="64.73" y="85.16">0.83</text>
<text x="72.36" y="85.16">0.82</text>
<text x="80.00" y="85.16">0.80</text>
<text x="87.62" y="85.16">0.79</text>
<text x="95.25" y="85.16">0.80</text>
<text x="102.88" y="85.16">1.00</text>
<text x="110.51" y="85.16">0.84</text>
<text x="118.15" y="85.16">0.83</text>
<text x="125.78" y="85.16">0.79</text>
<text x="133.41" y="85.16">0.79</text>
<text x="141.03" y="85.16">0.68</text>
<text x="148.66" y="85.16">0.74</text>
<text x="156.29" y="85.16">0.81</text>
<text x="163.93" y="85.16">0.67</text>
<text x="171.56" y="85.16">0.61</text>
<text x="179.19" y="85.16">0.58</text>
<text x="186.81" y="85.16">0.60</text>
<text x="194.44" y="85.16">0.64</text>
<text x="202.08" y="85.16">0.63</text>
<text x="209.71" y="85.16">0.61</text>
<text x="217.34" y="85.16">0.50</text>
<text x="224.97" y="85.16">0.46</text>
<text x="232.59" y="85.16">0.50</text>
<text x="240.22" y="85.16">0.50</text>
<text x="247.85" y="85.16">0.57</text>
<text x="255.49" y="85.16">0.53</text>
<text x="263.12" y="85.16">0.56</text>
<text x="270.75" y="85.16">0.52</text>
<text x="278.38" y="85.16">0.52</text>
<text x="286.00" y="85.16">0.54</text>
<text x="293.63" y="85.16">0.53</text>
<text x="301.26" y="85.16">0.52</text>
<text x="34.21" y="90.72">0.67</text>
<text x="41.84" y="90.72">0.67</text>
<text x="49.47" y="90.72">0.67</text>
<text x="57.10" y="90.72">0.79</text>
<text x="64.73" y="90.72">0.84</text>
<text x="72.36" y="90.72">0.83</text>
<text x="80.00" y="90.72">0.76</text>
<text x="87.62" y="90.72">0.86</text>
<text x="95.25" y="90.72">0.81</text>
<text x="102.88" y="90.72">0.84</text>
<text x="110.51" y="90.72">1.00</text>
<text x="118.15" y="90.72">0.87</text>
<text x="125.78" y="90.72">0.83</text>
<text x="133.41" y="90.72">0.83</text>
<text x="141.03" y="90.72">0.71</text>
<text x="148.66" y="90.72">0.79</text>
<text x="156.29" y="90.72">0.84</text>
<text x="163.93" y="90.72">0.57</text>
<text x="171.56" y="90.72">0.57</text>
<text x="179.19" y="90.72">0.56</text>
<text x="186.81" y="90.72">0.59</text>
<text x="194.44" y="90.72">0.61</text>
<text x="202.08" y="90.72">0.62</text>
<text x="209.71" y="90.72">0.58</text>
<text x="217.34" y="90.72">0.46</text>
<text x="224.97" y="90.72">0.44</text>
<text x="232.59" y="90.72">0.44</text>
<text x="240.22" y="90.72">0.46</text>
<text x="247.85" y="90.72">0.54</text>
<text x="255.49" y="90.72">0.47</text>
<text x="263.12" y="90.72">0.49</text>
<text x="270.75" y="90.72">0.47</text>
<text x="278.38" y="90.72">0.48</text>
<text x="286.00" y="90.72">0.51</text>
<text x="293.63" y="90.72">0.50</text>
<text x="301.26" y="90.72">0.51</text>
<text x="34.21" y="96.28">0.65</text>
<text x="41.84" y="96.28">0.72</text>
<text x="49.47" y="96.28">0.70</text>
<text x="57.10" y="96.28">0.82</text>
<text x="64.73" y="96.28">0.85</text>
<text x="72.36" y="96.28">0.83</text>
<text x="80.00" y="96.28">0.80</text>
<text x="87.62" y="96.28">0.86</text>
<text x="95.25" y="96.28">0.84</text>
<text x="102.88" y="96.28">0.83</text>
<text x="110.51" y="96.28">0.87</text>
<text x="118.15" y="96.28">1.00</text>
<text x="125.78" y="96.28">0.84</text>
<text x="133.41" y="96.28">0.86</text>
<text x="141.03" y="96.28">0.76</text>
<text x="148.66" y="96.28">0.77</text>
<text x="156.29" y="96.28">0.86</text>
<text x="163.93" y="96.28">0.58</text>
<text x="171.56" y="96.28">0.56</text>
<text x="179.19" y="96.28">0.56</text>
<text x="186.81" y="96.28">0.60</text>
<text x="194.44" y="96.28">0.61</text>
<text x="202.08" y="96.28">0.62</text>
<text x="209.71" y="96.28">0.61</text>
<text x="217.34" y="96.28">0.48</text>
<text x="224.97" y="96.28">0.45</text>
<text x="232.59" y="96.28">0.46</text>
<text x="240.22" y="96.28">0.48</text>
<text x="247.85" y="96.28">0.54</text>
<text x="255.49" y="96.28">0.50</text>
<text x="263.12" y="96.28">0.51</text>
<text x="270.75" y="96.28">0.52</text>
<text x="278.38" y="96.28">0.50</text>
<text x="286.00" y="96.28">0.53</text>
<text x="293.63" y="96.28">0.52</text>
<text x="301.26" y="96.28">0.54</text>
<text x="34.21" y="101.84">0.58</text>
<text x="41.84" y="101.84">0.67</text>
<text x="49.47" y="101.84">0.71</text>
<text x="57.10" y="101.84">0.75</text>
<text x="64.73" y="101.84">0.84</text>
<text x="72.36" y="101.84">0.83</text>
<text x="80.00" y="101.84">0.76</text>
<text x="87.62" y="101.84">0.87</text>
<text x="95.25" y="101.84">0.83</text>
<text x="102.88" y="101.84">0.79</text>
<text x="110.51" y="101.84">0.83</text>
<text x="118.15" y="101.84">0.84</text>
<text x="125.78" y="101.84">1.00</text>
<text x="133.41" y="101.84">0.90</text>
<text x="141.03" y="101.84">0.75</text>
<text x="148.66" y="101.84">0.78</text>
<text x="156.29" y="101.84">0.81</text>
<text x="163.93" y="101.84">0.55</text>
<text x="171.56" y="101.84">0.54</text>
<text x="179.19" y="101.84">0.53</text>
<text x="186.81" y="101.84">0.58</text>
<text x="194.44" y="101.84">0.60</text>
<text x="202.08" y="101.84">0.60</text>
<text x="209.71" y="101.84">0.57</text>
<text x="217.34" y="101.84">0.38</text>
<text x="224.97" y="101.84">0.36</text>
<text x="232.59" y="101.84">0.38</text>
<text x="240.22" y="101.84">0.38</text>
<text x="247.85" y="101.84">0.48</text>
<text x="255.49" y="101.84">0.41</text>
<text x="263.12" y="101.84">0.43</text>
<text x="270.75" y="101.84">0.44</text>
<text x="278.38" y="101.84">0.41</text>
<text x="286.00" y="101.84">0.47</text>
<text x="293.63" y="101.84">0.46</text>
<text x="301.26" y="101.84">0.45</text>
<text x="34.21" y="107.40">0.60</text>
<text x="41.84" y="107.40">0.72</text>
<text x="49.47" y="107.40">0.71</text>
<text x="57.10" y="107.40">0.76</text>
<text x="64.73" y="107.40">0.83</text>
<text x="72.36" y="107.40">0.83</text>
<text x="80.00" y="107.40">0.77</text>
<text x="87.62" y="107.40">0.86</text>
<text x="95.25" y="107.40">0.84</text>
<text x="102.88" y="107.40">0.79</text>
<text x="110.51" y="107.40">0.83</text>
<text x="118.15" y="107.40">0.86</text>
<text x="125.78" y="107.40">0.90</text>
<text x="133.41" y="107.40">1.00</text>
<text x="141.03" y="107.40">0.76</text>
<text x="148.66" y="107.40">0.75</text>
<text x="156.29" y="107.40">0.81</text>
<text x="163.93" y="107.40">0.53</text>
<text x="171.56" y="107.40">0.52</text>
<text x="179.19" y="107.40">0.52</text>
<text x="186.81" y="107.40">0.55</text>
<text x="194.44" y="107.40">0.56</text>
<text x="202.08" y="107.40">0.58</text>
<text x="209.71" y="107.40">0.57</text>
<text x="217.34" y="107.40">0.33</text>
<text x="224.97" y="107.40">0.35</text>
<text x="232.59" y="107.40">0.34</text>
<text x="240.22" y="107.40">0.35</text>
<text x="247.85" y="107.40">0.44</text>
<text x="255.49" y="107.40">0.37</text>
<text x="263.12" y="107.40">0.41</text>
<text x="270.75" y="107.40">0.40</text>
<text x="278.38" y="107.40">0.40</text>
<text x="286.00" y="107.40">0.44</text>
<text x="293.63" y="107.40">0.44</text>
<text x="301.26" y="107.40">0.44</text>
<text x="34.21" y="112.96">0.68</text>
<text x="41.84" y="112.96">0.65</text>
<text x="49.47" y="112.96">0.63</text>
<text x="57.10" y="112.96">0.71</text>
<text x="64.73" y="112.96">0.75</text>
<text x="72.36" y="112.96">0.76</text>
<text x="80.00" y="112.96">0.71</text>
<text x="87.62" y="112.96">0.75</text>
<text x="95.25" y="112.96">0.75</text>
<text x="102.88" y="112.96">0.68</text>
<text x="110.51" y="112.96">0.71</text>
<text x="118.15" y="112.96">0.76</text>
<text x="125.78" y="112.96">0.75</text>
<text x="133.41" y="112.96">0.76</text>
<text x="141.03" y="112.96">1.00</text>
<text x="148.66" y="112.96">0.71</text>
<text x="156.29" y="112.96">0.76</text>
<text x="163.93" y="112.96">0.63</text>
<text x="171.56" y="112.96">0.60</text>
<text x="179.19" y="112.96">0.56</text>
<text x="186.81" y="112.96">0.58</text>
<text x="194.44" y="112.96">0.61</text>
<text x="202.08" y="112.96">0.62</text>
<text x="209.71" y="112.96">0.61</text>
<text x="217.34" y="112.96">0.47</text>
<text x="224.97" y="112.96">0.40</text>
<text x="232.59" y="112.96">0.46</text>
<text x="240.22" y="112.96">0.45</text>
<text x="247.85" y="112.96">0.52</text>
<text x="255.49" y="112.96">0.43</text>
<text x="263.12" y="112.96">0.45</text>
<text x="270.75" y="112.96">0.47</text>
<text x="278.38" y="112.96">0.44</text>
<text x="286.00" y="112.96">0.50</text>
<text x="293.63" y="112.96">0.49</text>
<text x="301.26" y="112.96">0.49</text>
<text x="34.21" y="118.52">0.65</text>
<text x="41.84" y="118.52">0.63</text>
<text x="49.47" y="118.52">0.63</text>
<text x="57.10" y="118.52">0.75</text>
<text x="64.73" y="118.52">0.77</text>
<text x="72.36" y="118.52">0.76</text>
<text x="80.00" y="118.52">0.73</text>
<text x="87.62" y="118.52">0.73</text>
<text x="95.25" y="118.52">0.74</text>
<text x="102.88" y="118.52">0.74</text>
<text x="110.51" y="118.52">0.79</text>
<text x="118.15" y="118.52">0.77</text>
<text x="125.78" y="118.52">0.78</text>
<text x="133.41" y="118.52">0.75</text>
<text x="141.03" y="118.52">0.71</text>
<text x="148.66" y="118.52">1.00</text>
<text x="156.29" y="118.52">0.80</text>
<text x="163.93" y="118.52">0.58</text>
<text x="171.56" y="118.52">0.57</text>
<text x="179.19" y="118.52">0.53</text>
<text x="186.81" y="118.52">0.54</text>
<text x="194.44" y="118.52">0.57</text>
<text x="202.08" y="118.52">0.56</text>
<text x="209.71" y="118.52">0.55</text>
<text x="217.34" y="118.52">0.45</text>
<text x="224.97" y="118.52">0.38</text>
<text x="232.59" y="118.52">0.45</text>
<text x="240.22" y="118.52">0.46</text>
<text x="247.85" y="118.52">0.52</text>
<text x="255.49" y="118.52">0.43</text>
<text x="263.12" y="118.52">0.45</text>
<text x="270.75" y="118.52">0.45</text>
<text x="278.38" y="118.52">0.44</text>
<text x="286.00" y="118.52">0.48</text>
<text x="293.63" y="118.52">0.49</text>
<text x="301.26" y="118.52">0.47</text>
<text x="34.21" y="124.08">0.70</text>
<text x="41.84" y="124.08">0.64</text>
<text x="49.47" y="124.08">0.65</text>
<text x="57.10" y="124.08">0.79</text>
<text x="64.73" y="124.08">0.80</text>
<text x="72.36" y="124.08">0.78</text>
<text x="80.00" y="124.08">0.72</text>
<text x="87.62" y="124.08">0.74</text>
<text x="95.25" y="124.08">0.81</text>
<text x="102.88" y="124.08">0.81</text>
<text x="110.51" y="124.08">0.84</text>
<text x="118.15" y="124.08">0.86</text>
<text x="125.78" y="124.08">0.81</text>
<text x="133.41" y="124.08">0.81</text>
<text x="141.03" y="124.08">0.76</text>
<text x="148.66" y="124.08">0.80</text>
<text x="156.29" y="124.08">1.00</text>
<text x="163.93" y="124.08">0.58</text>
<text x="171.56" y="124.08">0.55</text>
<text x="179.19" y="124.08">0.53</text>
<text x="186.81" y="124.08">0.56</text>
<text x="194.44" y="124.08">0.58</text>
<text x="202.08" y="124.08">0.58</text>
<text x="209.71" y="124.08">0.59</text>
<text x="217.34" y="124.08">0.49</text>
<text x="224.97" y="124.08">0.50</text>
<text x="232.59" y="124.08">0.51</text>
<text x="240.22" y="124.08">0.51</text>
<text x="247.85" y="124.08">0.55</text>
<text x="255.49" y="124.08">0.45</text>
<text x="263.12" y="124.08">0.48</text>
<text x="270.75" y="124.08">0.50</text>
<text x="278.38" y="124.08">0.47</text>
<text x="286.00" y="124.08">0.50</text>
<text x="293.63" y="124.08">0.47</text>
<text x="301.26" y="124.08">0.48</text>
<text x="34.21" y="129.64">0.62</text>
<text x="41.84" y="129.64">0.61</text>
<text x="49.47" y="129.64">0.62</text>
<text x="57.10" y="129.64">0.63</text>
<text x="64.73" y="129.64">0.64</text>
<text x="72.36" y="129.64">0.62</text>
<text x="80.00" y="129.64">0.66</text>
<text x="87.62" y="129.64">0.58</text>
<text x="95.25" y="129.64">0.63</text>
<text x="102.88" y="129.64">0.67</text>
<text x="110.51" y="129.64">0.57</text>
<text x="118.15" y="129.64">0.58</text>
<text x="125.78" y="129.64">0.55</text>
<text x="133.41" y="129.64">0.53</text>
<text x="141.03" y="129.64">0.63</text>
<text x="148.66" y="129.64">0.58</text>
<text x="156.29" y="129.64">0.58</text>
<text x="163.93" y="129.64">1.00</text>
<text x="171.56" y="129.64">0.85</text>
<text x="179.19" y="129.64">0.79</text>
<text x="186.81" y="129.64">0.82</text>
<text x="194.44" y="129.64">0.79</text>
<text x="202.08" y="129.64">0.78</text>
<text x="209.71" y="129.64">0.84</text>
<text x="217.34" y="129.64">0.72</text>
<text x="224.97" y="129.64">0.68</text>
<text x="232.59" y="129.64">0.68</text>
<text x="240.22" y="129.64">0.68</text>
<text x="247.85" y="129.64">0.68</text>
<text x="255.49" y="129.64">0.68</text>
<text x="263.12" y="129.64">0.72</text>
<text x="270.75" y="129.64">0.70</text>
<text x="278.38" y="129.64">0.71</text>
<text x="286.00" y="129.64">0.72</text>
<text x="293.63" y="129.64">0.72</text>
<text x="301.26" y="129.64">0.72</text>
<text x="34.21" y="135.20">0.60</text>
<text x="41.84" y="135.20">0.65</text>
<text x="49.47" y="135.20">0.62</text>
<text x="57.10" y="135.20">0.63</text>
<text x="64.73" y="135.20">0.65</text>
<text x="72.36" y="135.20">0.67</text>
<text x="80.00" y="135.20">0.64</text>
<text x="87.62" y="135.20">0.56</text>
<text x="95.25" y="135.20">0.58</text>
<text x="102.88" y="135.20">0.61</text>
<text x="110.51" y="135.20">0.57</text>
<text x="118.15" y="135.20">0.56</text>
<text x="125.78" y="135.20">0.54</text>
<text x="133.41" y="135.20">0.52</text>
<text x="141.03" y="135.20">0.60</text>
<text x="148.66" y="135.20">0.57</text>
<text x="156.29" y="135.20">0.55</text>
<text x="163.93" y="135.20">0.85</text>
<text x="171.56" y="135.20">1.00</text>
<text x="179.19" y="135.20">0.83</text>
<text x="186.81" y="135.20">0.84</text>
<text x="194.44" y="135.20">0.80</text>
<text x="202.08" y="135.20">0.77</text>
<text x="209.71" y="135.20">0.80</text>
<text x="217.34" y="135.20">0.72</text>
<text x="224.97" y="135.20">0.68</text>
<text x="232.59" y="135.20">0.69</text>
<text x="240.22" y="135.20">0.71</text>
<text x="247.85" y="135.20">0.68</text>
<text x="255.49" y="135.20">0.68</text>
<text x="263.12" y="135.20">0.72</text>
<text x="270.75" y="135.20">0.72</text>
<text x="278.38" y="135.20">0.74</text>
<text x="286.00" y="135.20">0.72</text>
<text x="293.63" y="135.20">0.74</text>
<text x="301.26" y="135.20">0.75</text>
<text x="34.21" y="140.76">0.56</text>
<text x="41.84" y="140.76">0.56</text>
<text x="49.47" y="140.76">0.58</text>
<text x="57.10" y="140.76">0.60</text>
<text x="64.73" y="140.76">0.61</text>
<text x="72.36" y="140.76">0.60</text>
<text x="80.00" y="140.76">0.64</text>
<text x="87.62" y="140.76">0.57</text>
<text x="95.25" y="140.76">0.57</text>
<text x="102.88" y="140.76">0.58</text>
<text x="110.51" y="140.76">0.56</text>
<text x="118.15" y="140.76">0.56</text>
<text x="125.78" y="140.76">0.53</text>
<text x="133.41" y="140.76">0.52</text>
<text x="141.03" y="140.76">0.56</text>
<text x="148.66" y="140.76">0.53</text>
<text x="156.29" y="140.76">0.53</text>
<text x="163.93" y="140.76">0.79</text>
<text x="171.56" y="140.76">0.83</text>
<text x="179.19" y="140.76">1.00</text>
<text x="186.81" y="140.76">0.84</text>
<text x="194.44" y="140.76">0.81</text>
<text x="202.08" y="140.76">0.81</text>
<text x="209.71" y="140.76">0.81</text>
<text x="217.34" y="140.76">0.71</text>
<text x="224.97" y="140.76">0.68</text>
<text x="232.59" y="140.76">0.69</text>
<text x="240.22" y="140.76">0.68</text>
<text x="247.85" y="140.76">0.68</text>
<text x="255.49" y="140.76">0.71</text>
<text x="263.12" y="140.76">0.72</text>
<text x="270.75" y="140.76">0.74</text>
<text x="278.38" y="140.76">0.74</text>
<text x="286.00" y="140.76">0.74</text>
<text x="293.63" y="140.76">0.74</text>
<text x="301.26" y="140.76">0.75</text>
<text x="34.21" y="146.32">0.60</text>
<text x="41.84" y="146.32">0.61</text>
<text x="49.47" y="146.32">0.61</text>
<text x="57.10" y="146.32">0.64</text>
<text x="64.73" y="146.32">0.64</text>
<text x="72.36" y="146.32">0.66</text>
<text x="80.00" y="146.32">0.68</text>
<text x="87.62" y="146.32">0.58</text>
<text x="95.25" y="146.32">0.61</text>
<text x="102.88" y="146.32">0.60</text>
<text x="110.51" y="146.32">0.59</text>
<text x="118.15" y="146.32">0.60</text>
<text x="125.78" y="146.32">0.58</text>
<text x="133.41" y="146.32">0.55</text>
<text x="141.03" y="146.32">0.58</text>
<text x="148.66" y="146.32">0.54</text>
<text x="156.29" y="146.32">0.56</text>
<text x="163.93" y="146.32">0.82</text>
<text x="171.56" y="146.32">0.84</text>
<text x="179.19" y="146.32">0.84</text>
<text x="186.81" y="146.32">1.00</text>
<text x="194.44" y="146.32">0.82</text>
<text x="202.08" y="146.32">0.82</text>
<text x="209.71" y="146.32">0.84</text>
<text x="217.34" y="146.32">0.73</text>
<text x="224.97" y="146.32">0.68</text>
<text x="232.59" y="146.32">0.67</text>
<text x="240.22" y="146.32">0.68</text>
<text x="247.85" y="146.32">0.67</text>
<text x="255.49" y="146.32">0.71</text>
<text x="263.12" y="146.32">0.72</text>
<text x="270.75" y="146.32">0.73</text>
<text x="278.38" y="146.32">0.74</text>
<text x="286.00" y="146.32">0.73</text>
<text x="293.63" y="146.32">0.77</text>
<text x="301.26" y="146.32">0.75</text>
<text x="34.21" y="151.88">0.56</text>
<text x="41.84" y="151.88">0.64</text>
<text x="49.47" y="151.88">0.62</text>
<text x="57.10" y="151.88">0.62</text>
<text x="64.73" y="151.88">0.67</text>
<text x="72.36" y="151.88">0.70</text>
<text x="80.00" y="151.88">0.65</text>
<text x="87.62" y="151.88">0.58</text>
<text x="95.25" y="151.88">0.60</text>
<text x="102.88" y="151.88">0.64</text>
<text x="110.51" y="151.88">0.61</text>
<text x="118.15" y="151.88">0.61</text>
<text x="125.78" y="151.88">0.60</text>
<text x="133.41" y="151.88">0.56</text>
<text x="141.03" y="151.88">0.61</text>
<text x="148.66" y="151.88">0.57</text>
<text x="156.29" y="151.88">0.58</text>
<text x="163.93" y="151.88">0.79</text>
<text x="171.56" y="151.88">0.80</text>
<text x="179.19" y="151.88">0.81</text>
<text x="186.81" y="151.88">0.82</text>
<text x="194.44" y="151.88">1.00</text>
<text x="202.08" y="151.88">0.80</text>
<text x="209.71" y="151.88">0.78</text>
<text x="217.34" y="151.88">0.65</text>
<text x="224.97" y="151.88">0.63</text>
<text x="232.59" y="151.88">0.66</text>
<text x="240.22" y="151.88">0.66</text>
<text x="247.85" y="151.88">0.70</text>
<text x="255.49" y="151.88">0.68</text>
<text x="263.12" y="151.88">0.68</text>
<text x="270.75" y="151.88">0.71</text>
<text x="278.38" y="151.88">0.73</text>
<text x="286.00" y="151.88">0.73</text>
<text x="293.63" y="151.88">0.71</text>
<text x="301.26" y="151.88">0.75</text>
<text x="34.21" y="157.44">0.52</text>
<text x="41.84" y="157.44">0.57</text>
<text x="49.47" y="157.44">0.59</text>
<text x="57.10" y="157.44">0.64</text>
<text x="64.73" y="157.44">0.67</text>
<text x="72.36" y="157.44">0.68</text>
<text x="80.00" y="157.44">0.74</text>
<text x="87.62" y="157.44">0.62</text>
<text x="95.25" y="157.44">0.62</text>
<text x="102.88" y="157.44">0.63</text>
<text x="110.51" y="157.44">0.62</text>
<text x="118.15" y="157.44">0.62</text>
<text x="125.78" y="157.44">0.60</text>
<text x="133.41" y="157.44">0.58</text>
<text x="141.03" y="157.44">0.62</text>
<text x="148.66" y="157.44">0.56</text>
<text x="156.29" y="157.44">0.58</text>
<text x="163.93" y="157.44">0.78</text>
<text x="171.56" y="157.44">0.77</text>
<text x="179.19" y="157.44">0.81</text>
<text x="186.81" y="157.44">0.82</text>
<text x="194.44" y="157.44">0.80</text>
<text x="202.08" y="157.44">1.00</text>
<text x="209.71" y="157.44">0.82</text>
<text x="217.34" y="157.44">0.66</text>
<text x="224.97" y="157.44">0.63</text>
<text x="232.59" y="157.44">0.64</text>
<text x="240.22" y="157.44">0.62</text>
<text x="247.85" y="157.44">0.68</text>
<text x="255.49" y="157.44">0.66</text>
<text x="263.12" y="157.44">0.70</text>
<text x="270.75" y="157.44">0.72</text>
<text x="278.38" y="157.44">0.73</text>
<text x="286.00" y="157.44">0.72</text>
<text x="293.63" y="157.44">0.72</text>
<text x="301.26" y="157.44">0.71</text>
<text x="34.21" y="163.00">0.54</text>
<text x="41.84" y="163.00">0.61</text>
<text x="49.47" y="163.00">0.60</text>
<text x="57.10" y="163.00">0.63</text>
<text x="64.73" y="163.00">0.66</text>
<text x="72.36" y="163.00">0.66</text>
<text x="80.00" y="163.00">0.72</text>
<text x="87.62" y="163.00">0.62</text>
<text x="95.25" y="163.00">0.63</text>
<text x="102.88" y="163.00">0.61</text>
<text x="110.51" y="163.00">0.58</text>
<text x="118.15" y="163.00">0.61</text>
<text x="125.78" y="163.00">0.57</text>
<text x="133.41" y="163.00">0.57</text>
<text x="141.03" y="163.00">0.61</text>
<text x="148.66" y="163.00">0.55</text>
<text x="156.29" y="163.00">0.59</text>
<text x="163.93" y="163.00">0.84</text>
<text x="171.56" y="163.00">0.80</text>
<text x="179.19" y="163.00">0.81</text>
<text x="186.81" y="163.00">0.84</text>
<text x="194.44" y="163.00">0.78</text>
<text x="202.08" y="163.00">0.82</text>
<text x="209.71" y="163.00">1.00</text>
<text x="217.34" y="163.00">0.71</text>
<text x="224.97" y="163.00">0.68</text>
<text x="232.59" y="163.00">0.67</text>
<text x="240.22" y="163.00">0.65</text>
<text x="247.85" y="163.00">0.68</text>
<text x="255.49" y="163.00">0.67</text>
<text x="263.12" y="163.00">0.71</text>
<text x="270.75" y="163.00">0.72</text>
<text x="278.38" y="163.00">0.73</text>
<text x="286.00" y="163.00">0.73</text>
<text x="293.63" y="163.00">0.75</text>
<text x="301.26" y="163.00">0.71</text>
<text x="34.21" y="168.56">0.56</text>
<text x="41.84" y="168.56">0.46</text>
<text x="49.47" y="168.56">0.52</text>
<text x="57.10" y="168.56">0.52</text>
<text x="64.73" y="168.56">0.52</text>
<text x="72.36" y="168.56">0.52</text>
<text x="80.00" y="168.56">0.50</text>
<text x="87.62" y="168.56">0.41</text>
<text x="95.25" y="168.56">0.46</text>
<text x="102.88" y="168.56">0.50</text>
<text x="110.51" y="168.56">0.46</text>
<text x="118.15" y="168.56">0.48</text>
<text x="125.78" y="168.56">0.38</text>
<text x="133.41" y="168.56">0.33</text>
<text x="141.03" y="168.56">0.47</text>
<text x="148.66" y="168.56">0.45</text>
<text x="156.29" y="168.56">0.49</text>
<text x="163.93" y="168.56">0.72</text>
<text x="171.56" y="168.56">0.72</text>
<text x="179.19" y="168.56">0.71</text>
<text x="186.81" y="168.56">0.73</text>
<text x="194.44" y="168.56">0.65</text>
<text x="202.08" y="168.56">0.66</text>
<text x="209.71" y="168.56">0.71</text>
<text x="217.34" y="168.56">1.00</text>
<text x="224.97" y="168.56">0.73</text>
<text x="232.59" y="168.56">0.71</text>
<text x="240.22" y="168.56">0.72</text>
<text x="247.85" y="168.56">0.67</text>
<text x="255.49" y="168.56">0.72</text>
<text x="263.12" y="168.56">0.73</text>
<text x="270.75" y="168.56">0.75</text>
<text x="278.38" y="168.56">0.74</text>
<text x="286.00" y="168.56">0.73</text>
<text x="293.63" y="168.56">0.72</text>
<text x="301.26" y="168.56">0.73</text>
<text x="34.21" y="174.12">0.47</text>
<text x="41.84" y="174.12">0.46</text>
<text x="49.47" y="174.12">0.54</text>
<text x="57.10" y="174.12">0.56</text>
<text x="64.73" y="174.12">0.48</text>
<text x="72.36" y="174.12">0.49</text>
<text x="80.00" y="174.12">0.41</text>
<text x="87.62" y="174.12">0.41</text>
<text x="95.25" y="174.12">0.43</text>
<text x="102.88" y="174.12">0.46</text>
<text x="110.51" y="174.12">0.44</text>
<text x="118.15" y="174.12">0.45</text>
<text x="125.78" y="174.12">0.36</text>
<text x="133.41" y="174.12">0.35</text>
<text x="141.03" y="174.12">0.40</text>
<text x="148.66" y="174.12">0.38</text>
<text x="156.29" y="174.12">0.50</text>
<text x="163.93" y="174.12">0.68</text>
<text x="171.56" y="174.12">0.68</text>
<text x="179.19" y="174.12">0.68</text>
<text x="186.81" y="174.12">0.68</text>
<text x="194.44" y="174.12">0.63</text>
<text x="202.08" y="174.12">0.63</text>
<text x="209.71" y="174.12">0.68</text>
<text x="217.34" y="174.12">0.73</text>
<text x="224.97" y="174.12">1.00</text>
<text x="232.59" y="174.12">0.77</text>
<text x="240.22" y="174.12">0.77</text>
<text x="247.85" y="174.12">0.75</text>
<text x="255.49" y="174.12">0.77</text>
<text x="263.12" y="174.12">0.76</text>
<text x="270.75" y="174.12">0.84</text>
<text x="278.38" y="174.12">0.74</text>
<text x="286.00" y="174.12">0.76</text>
<text x="293.63" y="174.12">0.77</text>
<text x="301.26" y="174.12">0.76</text>
<text x="34.21" y="179.68">0.53</text>
<text x="41.84" y="179.68">0.44</text>
<text x="49.47" y="179.68">0.51</text>
<text x="57.10" y="179.68">0.54</text>
<text x="64.73" y="179.68">0.48</text>
<text x="72.36" y="179.68">0.49</text>
<text x="80.00" y="179.68">0.41</text>
<text x="87.62" y="179.68">0.38</text>
<text x="95.25" y="179.68">0.46</text>
<text x="102.88" y="179.68">0.50</text>
<text x="110.51" y="179.68">0.44</text>
<text x="118.15" y="179.68">0.46</text>
<text x="125.78" y="179.68">0.38</text>
<text x="133.41" y="179.68">0.34</text>
<text x="141.03" y="179.68">0.46</text>
<text x="148.66" y="179.68">0.45</text>
<text x="156.29" y="179.68">0.51</text>
<text x="163.93" y="179.68">0.68</text>
<text x="171.56" y="179.68">0.69</text>
<text x="179.19" y="179.68">0.69</text>
<text x="186.81" y="179.68">0.67</text>
<text x="194.44" y="179.68">0.66</text>
<text x="202.08" y="179.68">0.64</text>
<text x="209.71" y="179.68">0.67</text>
<text x="217.34" y="179.68">0.71</text>
<text x="224.97" y="179.68">0.77</text>
<text x="232.59" y="179.68">1.00</text>
<text x="240.22" y="179.68">0.75</text>
<text x="247.85" y="179.68">0.74</text>
<text x="255.49" y="179.68">0.74</text>
<text x="263.12" y="179.68">0.72</text>
<text x="270.75" y="179.68">0.78</text>
<text x="278.38" y="179.68">0.72</text>
<text x="286.00" y="179.68">0.74</text>
<text x="293.63" y="179.68">0.73</text>
<text x="301.26" y="179.68">0.72</text>
<text x="34.21" y="185.24">0.60</text>
<text x="41.84" y="185.24">0.51</text>
<text x="49.47" y="185.24">0.52</text>
<text x="57.10" y="185.24">0.55</text>
<text x="64.73" y="185.24">0.54</text>
<text x="72.36" y="185.24">0.55</text>
<text x="80.00" y="185.24">0.45</text>
<text x="87.62" y="185.24">0.44</text>
<text x="95.25" y="185.24">0.45</text>
<text x="102.88" y="185.24">0.50</text>
<text x="110.51" y="185.24">0.46</text>
<text x="118.15" y="185.24">0.48</text>
<text x="125.78" y="185.24">0.38</text>
<text x="133.41" y="185.24">0.35</text>
<text x="141.03" y="185.24">0.45</text>
<text x="148.66" y="185.24">0.46</text>
<text x="156.29" y="185.24">0.51</text>
<text x="163.93" y="185.24">0.68</text>
<text x="171.56" y="185.24">0.71</text>
<text x="179.19" y="185.24">0.68</text>
<text x="186.81" y="185.24">0.68</text>
<text x="194.44" y="185.24">0.66</text>
<text x="202.08" y="185.24">0.62</text>
<text x="209.71" y="185.24">0.65</text>
<text x="217.34" y="185.24">0.72</text>
<text x="224.97" y="185.24">0.77</text>
<text x="232.59" y="185.24">0.75</text>
<text x="240.22" y="185.24">1.00</text>
<text x="247.85" y="185.24">0.76</text>
<text x="255.49" y="185.24">0.75</text>
<text x="263.12" y="185.24">0.75</text>
<text x="270.75" y="185.24">0.77</text>
<text x="278.38" y="185.24">0.76</text>
<text x="286.00" y="185.24">0.76</text>
<text x="293.63" y="185.24">0.75</text>
<text x="301.26" y="185.24">0.75</text>
<text x="34.21" y="190.80">0.59</text>
<text x="41.84" y="190.80">0.52</text>
<text x="49.47" y="190.80">0.51</text>
<text x="57.10" y="190.80">0.59</text>
<text x="64.73" y="190.80">0.57</text>
<text x="72.36" y="190.80">0.57</text>
<text x="80.00" y="190.80">0.47</text>
<text x="87.62" y="190.80">0.49</text>
<text x="95.25" y="190.80">0.49</text>
<text x="102.88" y="190.80">0.57</text>
<text x="110.51" y="190.80">0.54</text>
<text x="118.15" y="190.80">0.54</text>
<text x="125.78" y="190.80">0.48</text>
<text x="133.41" y="190.80">0.44</text>
<text x="141.03" y="190.80">0.52</text>
<text x="148.66" y="190.80">0.52</text>
<text x="156.29" y="190.80">0.55</text>
<text x="163.93" y="190.80">0.68</text>
<text x="171.56" y="190.80">0.68</text>
<text x="179.19" y="190.80">0.68</text>
<text x="186.81" y="190.80">0.67</text>
<text x="194.44" y="190.80">0.70</text>
<text x="202.08" y="190.80">0.68</text>
<text x="209.71" y="190.80">0.68</text>
<text x="217.34" y="190.80">0.67</text>
<text x="224.97" y="190.80">0.75</text>
<text x="232.59" y="190.80">0.74</text>
<text x="240.22" y="190.80">0.76</text>
<text x="247.85" y="190.80">1.00</text>
<text x="255.49" y="190.80">0.77</text>
<text x="263.12" y="190.80">0.76</text>
<text x="270.75" y="190.80">0.76</text>
<text x="278.38" y="190.80">0.68</text>
<text x="286.00" y="190.80">0.76</text>
<text x="293.63" y="190.80">0.77</text>
<text x="301.26" y="190.80">0.76</text>
<text x="34.21" y="196.36">0.52</text>
<text x="41.84" y="196.36">0.46</text>
<text x="49.47" y="196.36">0.51</text>
<text x="57.10" y="196.36">0.54</text>
<text x="64.73" y="196.36">0.54</text>
<text x="72.36" y="196.36">0.55</text>
<text x="80.00" y="196.36">0.48</text>
<text x="87.62" y="196.36">0.47</text>
<text x="95.25" y="196.36">0.45</text>
<text x="102.88" y="196.36">0.53</text>
<text x="110.51" y="196.36">0.47</text>
<text x="118.15" y="196.36">0.50</text>
<text x="125.78" y="196.36">0.41</text>
<text x="133.41" y="196.36">0.37</text>
<text x="141.03" y="196.36">0.43</text>
<text x="148.66" y="196.36">0.43</text>
<text x="156.29" y="196.36">0.45</text>
<text x="163.93" y="196.36">0.68</text>
<text x="171.56" y="196.36">0.68</text>
<text x="179.19" y="196.36">0.71</text>
<text x="186.81" y="196.36">0.71</text>
<text x="194.44" y="196.36">0.68</text>
<text x="202.08" y="196.36">0.66</text>
<text x="209.71" y="196.36">0.67</text>
<text x="217.34" y="196.36">0.72</text>
<text x="224.97" y="196.36">0.77</text>
<text x="232.59" y="196.36">0.74</text>
<text x="240.22" y="196.36">0.75</text>
<text x="247.85" y="196.36">0.77</text>
<text x="255.49" y="196.36">1.00</text>
<text x="263.12" y="196.36">0.80</text>
<text x="270.75" y="196.36">0.81</text>
<text x="278.38" y="196.36">0.75</text>
<text x="286.00" y="196.36">0.76</text>
<text x="293.63" y="196.36">0.76</text>
<text x="301.26" y="196.36">0.75</text>
<text x="34.21" y="201.92">0.55</text>
<text x="41.84" y="201.92">0.54</text>
<text x="49.47" y="201.92">0.57</text>
<text x="57.10" y="201.92">0.58</text>
<text x="64.73" y="201.92">0.58</text>
<text x="72.36" y="201.92">0.57</text>
<text x="80.00" y="201.92">0.52</text>
<text x="87.62" y="201.92">0.52</text>
<text x="95.25" y="201.92">0.52</text>
<text x="102.88" y="201.92">0.56</text>
<text x="110.51" y="201.92">0.49</text>
<text x="118.15" y="201.92">0.51</text>
<text x="125.78" y="201.92">0.43</text>
<text x="133.41" y="201.92">0.41</text>
<text x="141.03" y="201.92">0.45</text>
<text x="148.66" y="201.92">0.45</text>
<text x="156.29" y="201.92">0.48</text>
<text x="163.93" y="201.92">0.72</text>
<text x="171.56" y="201.92">0.72</text>
<text x="179.19" y="201.92">0.72</text>
<text x="186.81" y="201.92">0.72</text>
<text x="194.44" y="201.92">0.68</text>
<text x="202.08" y="201.92">0.70</text>
<text x="209.71" y="201.92">0.71</text>
<text x="217.34" y="201.92">0.73</text>
<text x="224.97" y="201.92">0.76</text>
<text x="232.59" y="201.92">0.72</text>
<text x="240.22" y="201.92">0.75</text>
<text x="247.85" y="201.92">0.76</text>
<text x="255.49" y="201.92">0.80</text>
<text x="263.12" y="201.92">1.00</text>
<text x="270.75" y="201.92">0.80</text>
<text x="278.38" y="201.92">0.75</text>
<text x="286.00" y="201.92">0.76</text>
<text x="293.63" y="201.92">0.76</text>
<text x="301.26" y="201.92">0.75</text>
<text x="34.21" y="207.48">0.53</text>
<text x="41.84" y="207.48">0.52</text>
<text x="49.47" y="207.48">0.58</text>
<text x="57.10" y="207.48">0.58</text>
<text x="64.73" y="207.48">0.57</text>
<text x="72.36" y="207.48">0.57</text>
<text x="80.00" y="207.48">0.53</text>
<text x="87.62" y="207.48">0.50</text>
<text x="95.25" y="207.48">0.50</text>
<text x="102.88" y="207.48">0.52</text>
<text x="110.51" y="207.48">0.47</text>
<text x="118.15" y="207.48">0.52</text>
<text x="125.78" y="207.48">0.44</text>
<text x="133.41" y="207.48">0.40</text>
<text x="141.03" y="207.48">0.47</text>
<text x="148.66" y="207.48">0.45</text>
<text x="156.29" y="207.48">0.50</text>
<text x="163.93" y="207.48">0.70</text>
<text x="171.56" y="207.48">0.72</text>
<text x="179.19" y="207.48">0.74</text>
<text x="186.81" y="207.48">0.73</text>
<text x="194.44" y="207.48">0.71</text>
<text x="202.08" y="207.48">0.72</text>
<text x="209.71" y="207.48">0.72</text>
<text x="217.34" y="207.48">0.75</text>
<text x="224.97" y="207.48">0.84</text>
<text x="232.59" y="207.48">0.78</text>
<text x="240.22" y="207.48">0.77</text>
<text x="247.85" y="207.48">0.76</text>
<text x="255.49" y="207.48">0.81</text>
<text x="263.12" y="207.48">0.80</text>
<text x="270.75" y="207.48">1.00</text>
<text x="278.38" y="207.48">0.79</text>
<text x="286.00" y="207.48">0.80</text>
<text x="293.63" y="207.48">0.80</text>
<text x="301.26" y="207.48">0.80</text>
<text x="34.21" y="213.04">0.47</text>
<text x="41.84" y="213.04">0.50</text>
<text x="49.47" y="213.04">0.51</text>
<text x="57.10" y="213.04">0.54</text>
<text x="64.73" y="213.04">0.54</text>
<text x="72.36" y="213.04">0.54</text>
<text x="80.00" y="213.04">0.50</text>
<text x="87.62" y="213.04">0.47</text>
<text x="95.25" y="213.04">0.46</text>
<text x="102.88" y="213.04">0.52</text>
<text x="110.51" y="213.04">0.48</text>
<text x="118.15" y="213.04">0.50</text>
<text x="125.78" y="213.04">0.41</text>
<text x="133.41" y="213.04">0.40</text>
<text x="141.03" y="213.04">0.44</text>
<text x="148.66" y="213.04">0.44</text>
<text x="156.29" y="213.04">0.47</text>
<text x="163.93" y="213.04">0.71</text>
<text x="171.56" y="213.04">0.74</text>
<text x="179.19" y="213.04">0.74</text>
<text x="186.81" y="213.04">0.74</text>
<text x="194.44" y="213.04">0.73</text>
<text x="202.08" y="213.04">0.73</text>
<text x="209.71" y="213.04">0.73</text>
<text x="217.34" y="213.04">0.74</text>
<text x="224.97" y="213.04">0.74</text>
<text x="232.59" y="213.04">0.72</text>
<text x="240.22" y="213.04">0.76</text>
<text x="247.85" y="213.04">0.68</text>
<text x="255.49" y="213.04">0.75</text>
<text x="263.12" y="213.04">0.75</text>
<text x="270.75" y="213.04">0.79</text>
<text x="278.38" y="213.04">1.00</text>
<text x="286.00" y="213.04">0.77</text>
<text x="293.63" y="213.04">0.76</text>
<text x="301.26" y="213.04">0.77</text>
<text x="34.21" y="218.60">0.52</text>
<text x="41.84" y="218.60">0.51</text>
<text x="49.47" y="218.60">0.55</text>
<text x="57.10" y="218.60">0.57</text>
<text x="64.73" y="218.60">0.56</text>
<text x="72.36" y="218.60">0.56</text>
<text x="80.00" y="218.60">0.53</text>
<text x="87.62" y="218.60">0.52</text>
<text x="95.25" y="218.60">0.52</text>
<text x="102.88" y="218.60">0.54</text>
<text x="110.51" y="218.60">0.51</text>
<text x="118.15" y="218.60">0.53</text>
<text x="125.78" y="218.60">0.47</text>
<text x="133.41" y="218.60">0.44</text>
<text x="141.03" y="218.60">0.50</text>
<text x="148.66" y="218.60">0.48</text>
<text x="156.29" y="218.60">0.50</text>
<text x="163.93" y="218.60">0.72</text>
<text x="171.56" y="218.60">0.72</text>
<text x="179.19" y="218.60">0.74</text>
<text x="186.81" y="218.60">0.73</text>
<text x="194.44" y="218.60">0.73</text>
<text x="202.08" y="218.60">0.72</text>
<text x="209.71" y="218.60">0.73</text>
<text x="217.34" y="218.60">0.73</text>
<text x="224.97" y="218.60">0.76</text>
<text x="232.59" y="218.60">0.74</text>
<text x="240.22" y="218.60">0.76</text>
<text x="247.85" y="218.60">0.76</text>
<text x="255.49" y="218.60">0.76</text>
<text x="263.12" y="218.60">0.76</text>
<text x="270.75" y="218.60">0.80</text>
<text x="278.38" y="218.60">0.77</text>
<text x="286.00" y="218.60">1.00</text>
<text x="293.63" y="218.60">0.77</text>
<text x="301.26" y="218.60">0.75</text>
<text x="34.21" y="224.16">0.48</text>
<text x="41.84" y="224.16">0.56</text>
<text x="49.47" y="224.16">0.61</text>
<text x="57.10" y="224.16">0.62</text>
<text x="64.73" y="224.16">0.59</text>
<text x="72.36" y="224.16">0.61</text>
<text x="80.00" y="224.16">0.55</text>
<text x="87.62" y="224.16">0.53</text>
<text x="95.25" y="224.16">0.53</text>
<text x="102.88" y="224.16">0.53</text>
<text x="110.51" y="224.16">0.50</text>
<text x="118.15" y="224.16">0.52</text>
<text x="125.78" y="224.16">0.46</text>
<text x="133.41" y="224.16">0.44</text>
<text x="141.03" y="224.16">0.49</text>
<text x="148.66" y="224.16">0.49</text>
<text x="156.29" y="224.16">0.47</text>
<text x="163.93" y="224.16">0.72</text>
<text x="171.56" y="224.16">0.74</text>
<text x="179.19" y="224.16">0.74</text>
<text x="186.81" y="224.16">0.77</text>
<text x="194.44" y="224.16">0.71</text>
<text x="202.08" y="224.16">0.72</text>
<text x="209.71" y="224.16">0.75</text>
<text x="217.34" y="224.16">0.72</text>
<text x="224.97" y="224.16">0.77</text>
<text x="232.59" y="224.16">0.73</text>
<text x="240.22" y="224.16">0.75</text>
<text x="247.85" y="224.16">0.77</text>
<text x="255.49" y="224.16">0.76</text>
<text x="263.12" y="224.16">0.76</text>
<text x="270.75" y="224.16">0.80</text>
<text x="278.38" y="224.16">0.76</text>
<text x="286.00" y="224.16">0.77</text>
<text x="293.63" y="224.16">1.00</text>
<text x="301.26" y="224.16">0.76</text>
<text x="34.21" y="229.72">0.48</text>
<text x="41.84" y="229.72">0.52</text>
<text x="49.47" y="229.72">0.57</text>
<text x="57.10" y="229.72">0.56</text>
<text x="64.73" y="229.72">0.58</text>
<text x="72.36" y="229.72">0.62</text>
<text x="80.00" y="229.72">0.53</text>
<text x="87.62" y="229.72">0.50</text>
<text x="95.25" y="229.72">0.52</text>
<text x="102.88" y="229.72">0.52</text>
<text x="110.51" y="229.72">0.51</text>
<text x="118.15" y="229.72">0.54</text>
<text x="125.78" y="229.72">0.45</text>
<text x="133.41" y="229.72">0.44</text>
<text x="141.03" y="229.72">0.49</text>
<text x="148.66" y="229.72">0.47</text>
<text x="156.29" y="229.72">0.48</text>
<text x="163.93" y="229.72">0.72</text>
<text x="171.56" y="229.72">0.75</text>
<text x="179.19" y="229.72">0.75</text>
<text x="186.81" y="229.72">0.75</text>
<text x="194.44" y="229.72">0.75</text>
<text x="202.08" y="229.72">0.71</text>
<text x="209.71" y="229.72">0.71</text>
<text x="217.34" y="229.72">0.73</text>
<text x="224.97" y="229.72">0.76</text>
<text x="232.59" y="229.72">0.72</text>
<text x="240.22" y="229.72">0.75</text>
<text x="247.85" y="229.72">0.76</text>
<text x="255.49" y="229.72">0.75</text>
<text x="263.12" y="229.72">0.75</text>
<text x="270.75" y="229.72">0.80</text>
<text x="278.38" y="229.72">0.77</text>
<text x="286.00" y="229.72">0.75</text>
<text x="293.63" y="229.72">0.76</text>
<text x="301.26" y="229.72">1.00</text>
</g>
</g>
<rect x="30.40" y="26.4" width="129.71" height="3.4" fill="#F08A96"/>
<rect x="160.11" y="26.4" width="144.97" height="3.4" fill="#50C4C8"/>
<g stroke="#8c8c8c" stroke-width="0.60" fill="none">
<polyline points="41.84,26.00 41.84,24.20 49.47,24.20 49.47,26.00"/>
<polyline points="29.80,39.64 27.95,39.64 27.95,45.20 29.80,45.20"/>
<polyline points="34.21,26.00 34.21,21.50 45.66,21.50 45.66,24.20"/>
<polyline points="29.80,34.08 25.17,34.08 25.17,42.42 27.95,42.42"/>
<polyline points="64.73,26.00 64.73,24.60 72.36,24.60 72.36,26.00"/>
<polyline points="29.80,56.32 28.36,56.32 28.36,61.88 29.80,61.88"/>
<polyline points="57.10,26.00 57.10,24.00 68.55,24.00 68.55,24.60"/>
<polyline points="29.80,50.76 27.74,50.76 27.74,59.10 28.36,59.10"/>
<polyline points="80.00,26.00 80.00,24.20 87.62,24.20 87.62,26.00"/>
<polyline points="29.80,67.44 27.95,67.44 27.95,73.00 29.80,73.00"/>
<polyline points="102.88,26.00 102.88,24.50 110.51,24.50 110.51,26.00"/>
<polyline points="29.80,84.12 28.26,84.12 28.26,89.68 29.80,89.68"/>
<polyline points="95.25,26.00 95.25,23.80 106.70,23.80 106.70,24.50"/>
<polyline points="29.80,78.56 27.53,78.56 27.53,86.90 28.26,86.90"/>
<polyline points="83.81,24.20 83.81,23.00 100.98,23.00 100.98,23.80"/>
<polyline points="27.95,70.22 26.71,70.22 26.71,82.73 27.53,82.73"/>
<polyline points="62.83,24.00 62.83,21.90 92.39,21.90 92.39,23.00"/>
<polyline points="27.74,54.93 25.58,54.93 25.58,76.47 26.71,76.47"/>
<polyline points="125.78,26.00 125.78,24.20 133.41,24.20 133.41,26.00"/>
<polyline points="29.80,100.80 27.95,100.80 27.95,106.36 29.80,106.36"/>
<polyline points="118.15,26.00 118.15,23.50 129.59,23.50 129.59,24.20"/>
<polyline points="29.80,95.24 27.23,95.24 27.23,103.58 27.95,103.58"/>
<polyline points="148.66,26.00 148.66,24.10 156.29,24.10 156.29,26.00"/>
<polyline points="29.80,117.48 27.84,117.48 27.84,123.04 29.80,123.04"/>
<polyline points="141.03,26.00 141.03,23.00 152.48,23.00 152.48,24.10"/>
<polyline points="29.80,111.92 26.71,111.92 26.71,120.26 27.84,120.26"/>
<polyline points="123.87,23.50 123.87,21.90 146.76,21.90 146.76,23.00"/>
<polyline points="27.23,99.41 25.58,99.41 25.58,116.09 26.71,116.09"/>
<polyline points="77.61,21.90 77.61,20.00 135.31,20.00 135.31,21.90"/>
<polyline points="25.58,65.70 23.62,65.70 23.62,107.75 25.58,107.75"/>
<polyline points="39.94,21.50 39.94,18.10 106.46,18.10 106.46,20.00"/>
<polyline points="25.17,38.25 21.66,38.25 21.66,86.73 23.62,86.73"/>
<polyline points="171.56,26.00 171.56,24.40 179.19,24.40 179.19,26.00"/>
<polyline points="29.80,134.16 28.15,134.16 28.15,139.72 29.80,139.72"/>
<polyline points="163.93,26.00 163.93,23.50 175.37,23.50 175.37,24.40"/>
<polyline points="29.80,128.60 27.23,128.60 27.23,136.94 28.15,136.94"/>
<polyline points="186.81,26.00 186.81,24.30 194.44,24.30 194.44,26.00"/>
<polyline points="29.80,145.28 28.05,145.28 28.05,150.84 29.80,150.84"/>
<polyline points="202.08,26.00 202.08,24.50 209.71,24.50 209.71,26.00"/>
<polyline points="29.80,156.40 28.26,156.40 28.26,161.96 29.80,161.96"/>
<polyline points="190.63,24.30 190.63,23.20 205.89,23.20 205.89,24.50"/>
<polyline points="28.05,148.06 26.92,148.06 26.92,159.18 28.26,159.18"/>
<polyline points="169.65,23.50 169.65,21.50 198.26,21.50 198.26,23.20"/>
<polyline points="27.23,132.77 25.17,132.77 25.17,153.62 26.92,153.62"/>
<polyline points="217.34,26.00 217.34,24.60 224.97,24.60 224.97,26.00"/>
<polyline points="29.80,167.52 28.36,167.52 28.36,173.08 29.80,173.08"/>
<polyline points="221.15,24.60 221.15,24.00 232.59,24.00 232.59,26.00"/>
<polyline points="28.36,170.30 27.74,170.30 27.74,178.64 29.80,178.64"/>
<polyline points="247.85,26.00 247.85,24.40 255.49,24.40 255.49,26.00"/>
<polyline points="29.80,189.76 28.15,189.76 28.15,195.32 29.80,195.32"/>
<polyline points="240.22,26.00 240.22,23.60 251.67,23.60 251.67,24.40"/>
<polyline points="29.80,184.20 27.33,184.20 27.33,192.54 28.15,192.54"/>
<polyline points="270.75,26.00 270.75,24.60 278.38,24.60 278.38,26.00"/>
<polyline points="29.80,206.44 28.36,206.44 28.36,212.00 29.80,212.00"/>
<polyline points="263.12,26.00 263.12,24.10 274.56,24.10 274.56,24.60"/>
<polyline points="29.80,200.88 27.84,200.88 27.84,209.22 28.36,209.22"/>
<polyline points="293.63,26.00 293.63,24.40 301.26,24.40 301.26,26.00"/>
<polyline points="29.80,223.12 28.15,223.12 28.15,228.68 29.80,228.68"/>
<polyline points="286.00,26.00 286.00,23.80 297.45,23.80 297.45,24.40"/>
<polyline points="29.80,217.56 27.53,217.56 27.53,225.90 28.15,225.90"/>
<polyline points="268.84,24.10 268.84,23.20 291.73,23.20 291.73,23.80"/>
<polyline points="27.84,205.05 26.92,205.05 26.92,221.73 27.53,221.73"/>
<polyline points="245.95,23.60 245.95,22.60 280.28,22.60 280.28,23.20"/>
<polyline points="27.33,188.37 26.30,188.37 26.30,213.39 26.92,213.39"/>
<polyline points="226.87,24.00 226.87,21.30 263.12,21.30 263.12,22.60"/>
<polyline points="27.74,174.47 24.96,174.47 24.96,200.88 26.30,200.88"/>
<polyline points="183.95,21.50 183.95,17.50 244.99,17.50 244.99,21.30"/>
<polyline points="25.17,143.19 21.05,143.19 21.05,187.68 24.96,187.68"/>
<polyline points="73.20,18.10 73.20,9.20 214.47,9.20 214.47,17.50"/>
<polyline points="21.66,62.49 12.50,62.49 12.50,165.44 21.05,165.44"/>
</g>
<g font-family="Liberation Sans, sans-serif" fill="#111">
<text transform="translate(1.8,16.6) scale(1,1.100)" font-size="15.5" font-weight="bold" fill="#000">A</text>
<text x="51.5" y="15.6" font-size="12" fill="#000">HS</text>
<text x="217.6" y="16.1" font-size="12" fill="#000">TN</text>
<text x="305.6" y="29.8" font-size="3.2" font-weight="bold">group</text>
<text x="305.8" y="35.38" font-size="3.6">S30</text>
<text x="305.8" y="40.94" font-size="3.6">S27</text>
<text x="305.8" y="46.50" font-size="3.6">S36</text>
<text x="305.8" y="52.06" font-size="3.6">S29</text>
<text x="305.8" y="57.62" font-size="3.6">S5</text>
<text x="305.8" y="63.18" font-size="3.6">S26</text>
<text x="305.8" y="68.74" font-size="3.6">S8</text>
<text x="305.8" y="74.30" font-size="3.6">S6</text>
<text x="305.8" y="79.86" font-size="3.6">S22</text>
<text x="305.8" y="85.42" font-size="3.6">S18</text>
<text x="305.8" y="90.98" font-size="3.6">S3</text>
<text x="305.8" y="96.54" font-size="3.6">S7</text>
<text x="305.8" y="102.10" font-size="3.6">S14</text>
<text x="305.8" y="107.66" font-size="3.6">S15</text>
<text x="305.8" y="113.22" font-size="3.6">S9</text>
<text x="305.8" y="118.78" font-size="3.6">S2</text>
<text x="305.8" y="124.34" font-size="3.6">S12</text>
<text x="305.8" y="129.90" font-size="3.6">S168</text>
<text x="305.8" y="135.46" font-size="3.6">S160</text>
<text x="305.8" y="141.02" font-size="3.6">S164</text>
<text x="305.8" y="146.58" font-size="3.6">S169</text>
<text x="305.8" y="152.14" font-size="3.6">S166</text>
<text x="305.8" y="157.70" font-size="3.6">S162</text>
<text x="305.8" y="163.26" font-size="3.6">S167</text>
<text x="305.8" y="168.82" font-size="3.6">S178</text>
<text x="305.8" y="174.38" font-size="3.6">S203</text>
<text x="305.8" y="179.94" font-size="3.6">S206</text>
<text x="305.8" y="185.50" font-size="3.6">S204</text>
<text x="305.8" y="191.06" font-size="3.6">S209</text>
<text x="305.8" y="196.62" font-size="3.6">S208</text>
<text x="305.8" y="202.18" font-size="3.6">S190</text>
<text x="305.8" y="207.74" font-size="3.6">S200</text>
<text x="305.8" y="213.30" font-size="3.6">S194</text>
<text x="305.8" y="218.86" font-size="3.6">S207</text>
<text x="305.8" y="224.42" font-size="3.6">S191</text>
<text x="305.8" y="229.98" font-size="3.6">S192</text>
<text transform="translate(34.21,233.2) rotate(90)" font-size="3.6" y="1.3">S30</text>
<text transform="translate(41.84,233.2) rotate(90)" font-size="3.6" y="1.3">S27</text>
<text transform="translate(49.47,233.2) rotate(90)" font-size="3.6" y="1.3">S36</text>
<text transform="translate(57.10,233.2) rotate(90)" font-size="3.6" y="1.3">S29</text>
<text transform="translate(64.73,233.2) rotate(90)" font-size="3.6" y="1.3">S5</text>
<text transform="translate(72.36,233.2) rotate(90)" font-size="3.6" y="1.3">S26</text>
<text transform="translate(80.00,233.2) rotate(90)" font-size="3.6" y="1.3">S8</text>
<text transform="translate(87.62,233.2) rotate(90)" font-size="3.6" y="1.3">S6</text>
<text transform="translate(95.25,233.2) rotate(90)" font-size="3.6" y="1.3">S22</text>
<text transform="translate(102.88,233.2) rotate(90)" font-size="3.6" y="1.3">S18</text>
<text transform="translate(110.51,233.2) rotate(90)" font-size="3.6" y="1.3">S3</text>
<text transform="translate(118.15,233.2) rotate(90)" font-size="3.6" y="1.3">S7</text>
<text transform="translate(125.78,233.2) rotate(90)" font-size="3.6" y="1.3">S14</text>
<text transform="translate(133.41,233.2) rotate(90)" font-size="3.6" y="1.3">S15</text>
<text transform="translate(141.03,233.2) rotate(90)" font-size="3.6" y="1.3">S9</text>
<text transform="translate(148.66,233.2) rotate(90)" font-size="3.6" y="1.3">S2</text>
<text transform="translate(156.29,233.2) rotate(90)" font-size="3.6" y="1.3">S12</text>
<text transform="translate(163.93,233.2) rotate(90)" font-size="3.6" y="1.3">S168</text>
<text transform="translate(171.56,233.2) rotate(90)" font-size="3.6" y="1.3">S160</text>
<text transform="translate(179.19,233.2) rotate(90)" font-size="3.6" y="1.3">S164</text>
<text transform="translate(186.81,233.2) rotate(90)" font-size="3.6" y="1.3">S169</text>
<text transform="translate(194.44,233.2) rotate(90)" font-size="3.6" y="1.3">S166</text>
<text transform="translate(202.08,233.2) rotate(90)" font-size="3.6" y="1.3">S162</text>
<text transform="translate(209.71,233.2) rotate(90)" font-size="3.6" y="1.3">S167</text>
<text transform="translate(217.34,233.2) rotate(90)" font-size="3.6" y="1.3">S178</text>
<text transform="translate(224.97,233.2) rotate(90)" font-size="3.6" y="1.3">S203</text>
<text transform="translate(232.59,233.2) rotate(90)" font-size="3.6" y="1.3">S206</text>
<text transform="translate(240.22,233.2) rotate(90)" font-size="3.6" y="1.3">S204</text>
<text transform="translate(247.85,233.2) rotate(90)" font-size="3.6" y="1.3">S209</text>
<text transform="translate(255.49,233.2) rotate(90)" font-size="3.6" y="1.3">S208</text>
<text transform="translate(263.12,233.2) rotate(90)" font-size="3.6" y="1.3">S190</text>
<text transform="translate(270.75,233.2) rotate(90)" font-size="3.6" y="1.3">S200</text>
<text transform="translate(278.38,233.2) rotate(90)" font-size="3.6" y="1.3">S194</text>
<text transform="translate(286.00,233.2) rotate(90)" font-size="3.6" y="1.3">S207</text>
<text transform="translate(293.63,233.2) rotate(90)" font-size="3.6" y="1.3">S191</text>
<text transform="translate(301.26,233.2) rotate(90)" font-size="3.6" y="1.3">S192</text>
</g>
<defs><linearGradient id="gA" x1="0" y1="1" x2="0" y2="0">
<stop offset="0.000" stop-color="#4575b4"/>
<stop offset="0.167" stop-color="#91bfdb"/>
<stop offset="0.333" stop-color="#e0f3f8"/>
<stop offset="0.500" stop-color="#ffffbf"/>
<stop offset="0.667" stop-color="#fee090"/>
<stop offset="0.833" stop-color="#fc8d59"/>
<stop offset="1.000" stop-color="#d73027"/>
</linearGradient>
<linearGradient id="gD" x1="0" y1="1" x2="0" y2="0"><stop offset="0" stop-color="#000080"/><stop offset="0.5" stop-color="#ffffff"/><stop offset="1" stop-color="#CD2626"/></linearGradient></defs>
<rect x="316.2" y="26.3" width="3.5" height="48.6" fill="url(#gA)"/>
<g font-family="Liberation Sans, sans-serif" font-size="3.6" fill="#333">
<text x="321" y="27.60">1</text>
<text x="321" y="34.54">0.9</text>
<text x="321" y="41.48">0.8</text>
<text x="321" y="48.42">0.7</text>
<text x="321" y="55.36">0.6</text>
<text x="321" y="62.30">0.5</text>
<text x="321" y="69.24">0.4</text>
<text x="321" y="76.18">0.3</text>
<text x="326.4" y="29.6" font-weight="bold" font-size="3.2">group</text>
<text x="332" y="33.6">HS</text><text x="332" y="38.4">TN</text>
</g>
<rect x="326.4" y="30.1" width="4.5" height="4.4" fill="#F08A96"/>
<rect x="326.4" y="34.5" width="4.5" height="4.6" fill="#50C4C8"/>
<rect x="375.3" y="10.1" width="152.7" height="223.5" fill="#EBEBEB"/>
<g stroke="#ffffff" fill="none">
<line x1="375.3" y1="11.10" x2="528.0" y2="11.10" stroke-width="0.60" stroke-opacity="0.80"/>
<line x1="375.3" y1="55.20" x2="528.0" y2="55.20" stroke-width="0.60" stroke-opacity="0.80"/>
<line x1="375.3" y1="98.90" x2="528.0" y2="98.90" stroke-width="0.60" stroke-opacity="0.80"/>
<line x1="375.3" y1="142.60" x2="528.0" y2="142.60" stroke-width="0.60" stroke-opacity="0.80"/>
<line x1="375.3" y1="186.80" x2="528.0" y2="186.80" stroke-width="0.60" stroke-opacity="0.80"/>
<line x1="375.3" y1="230.40" x2="528.0" y2="230.40" stroke-width="0.60" stroke-opacity="0.80"/>
<line x1="375.3" y1="33.15" x2="528.0" y2="33.15" stroke-width="0.35" stroke-opacity="0.45"/>
<line x1="375.3" y1="77.05" x2="528.0" y2="77.05" stroke-width="0.35" stroke-opacity="0.45"/>
<line x1="375.3" y1="120.75" x2="528.0" y2="120.75" stroke-width="0.35" stroke-opacity="0.45"/>
<line x1="375.3" y1="164.70" x2="528.0" y2="164.70" stroke-width="0.35" stroke-opacity="0.45"/>
<line x1="375.3" y1="208.60" x2="528.0" y2="208.60" stroke-width="0.35" stroke-opacity="0.45"/>
<line x1="389.50" y1="10.1" x2="389.50" y2="233.6" stroke-width="0.60" stroke-opacity="0.80"/>
<line x1="436.50" y1="10.1" x2="436.50" y2="233.6" stroke-width="0.60" stroke-opacity="0.80"/>
<line x1="483.50" y1="10.1" x2="483.50" y2="233.6" stroke-width="0.60" stroke-opacity="0.80"/>
<line x1="412.50" y1="10.1" x2="412.50" y2="233.6" stroke-width="0.35" stroke-opacity="0.45"/>
<line x1="460.00" y1="10.1" x2="460.00" y2="233.6" stroke-width="0.35" stroke-opacity="0.45"/>
<line x1="506.30" y1="10.1" x2="506.30" y2="233.6" stroke-width="0.35" stroke-opacity="0.45"/>
</g>
<ellipse cx="458.6" cy="122.4" rx="30.1" ry="115.6" transform="rotate(-29.6 458.6 122.4)" fill="#F0D0D2"/>
<ellipse cx="416.6" cy="161.2" rx="24.9" ry="66.8" transform="rotate(-21.84 416.6 161.2)" fill="#BDE3E3"/>
<circle cx="413.6" cy="27.0" r="1.45" fill="#F8766D"/>
<circle cx="421.3" cy="49.0" r="1.45" fill="#F8766D"/>
<circle cx="423.2" cy="91.2" r="1.45" fill="#F8766D"/>
<circle cx="451.2" cy="107.0" r="1.45" fill="#F8766D"/>
<circle cx="449.9" cy="109.9" r="1.45" fill="#F8766D"/>
<circle cx="457.6" cy="122.1" r="1.45" fill="#F8766D"/>
<circle cx="465.7" cy="124.0" r="1.45" fill="#F8766D"/>
<circle cx="474.0" cy="118.6" r="1.45" fill="#F8766D"/>
<circle cx="470.9" cy="131.7" r="1.45" fill="#F8766D"/>
<circle cx="470.0" cy="136.0" r="1.45" fill="#F8766D"/>
<circle cx="468.2" cy="138.3" r="1.45" fill="#F8766D"/>
<circle cx="464.0" cy="140.2" r="1.45" fill="#F8766D"/>
<circle cx="452.8" cy="138.3" r="1.45" fill="#F8766D"/>
<circle cx="458.2" cy="153.3" r="1.45" fill="#F8766D"/>
<circle cx="459.5" cy="158.4" r="1.45" fill="#F8766D"/>
<circle cx="505.3" cy="152.4" r="1.45" fill="#F8766D"/>
<circle cx="489.3" cy="175.0" r="1.45" fill="#F8766D"/>
<circle cx="406.1" cy="116.0" r="1.45" fill="#00BFC4"/>
<circle cx="398.6" cy="135.9" r="1.45" fill="#00BFC4"/>
<circle cx="406.3" cy="136.4" r="1.45" fill="#00BFC4"/>
<circle cx="406.8" cy="137.6" r="1.45" fill="#00BFC4"/>
<circle cx="421.6" cy="138.1" r="1.45" fill="#00BFC4"/>
<circle cx="409.8" cy="144.9" r="1.45" fill="#00BFC4"/>
<circle cx="417.4" cy="150.4" r="1.45" fill="#00BFC4"/>
<circle cx="397.1" cy="153.4" r="1.45" fill="#00BFC4"/>
<circle cx="418.6" cy="156.9" r="1.45" fill="#00BFC4"/>
<circle cx="422.4" cy="165.0" r="1.45" fill="#00BFC4"/>
<circle cx="417.1" cy="167.0" r="1.45" fill="#00BFC4"/>
<circle cx="432.2" cy="171.7" r="1.45" fill="#00BFC4"/>
<circle cx="417.9" cy="175.2" r="1.45" fill="#00BFC4"/>
<circle cx="423.9" cy="176.7" r="1.45" fill="#00BFC4"/>
<circle cx="411.4" cy="179.7" r="1.45" fill="#00BFC4"/>
<circle cx="404.6" cy="183.3" r="1.45" fill="#00BFC4"/>
<circle cx="414.1" cy="189.5" r="1.45" fill="#00BFC4"/>
<circle cx="433.4" cy="189.0" r="1.45" fill="#00BFC4"/>
<circle cx="449.2" cy="203.6" r="1.45" fill="#00BFC4"/>
<g font-family="Liberation Sans, sans-serif">
<text transform="translate(350.4,16.3)" font-size="15.5" font-weight="bold">B</text>
<text x="476.5" y="91.2" font-size="12">HS</text>
<text x="390" y="203.6" font-size="12">TN</text>
<text transform="translate(437.0,248.5) scale(1,1.12)" font-size="6.0" fill="#111">PC1 (29.74%)</text>
<text transform="translate(364.2,139.0) rotate(-90) scale(1,1.15)" font-size="6.0" fill="#111">PC2 (9.17%)</text>
<g font-size="3.1" fill="#555" text-anchor="end">
<text x="373" y="12.40">300</text>
<text x="373" y="56.50">200</text>
<text x="373" y="100.20">100</text>
<text x="373" y="143.90">0</text>
<text x="373" y="188.10">-100</text>
<text x="373" y="231.70">-200</text>
</g><g font-size="3.1" fill="#555" text-anchor="middle">
<text x="389.50" y="238.0">-200</text>
<text x="436.50" y="238.0">0</text>
<text x="483.50" y="238.0">200</text>
</g>
<circle cx="536.5" cy="121.8" r="1.3" fill="#F8766D"/><circle cx="536.5" cy="127.4" r="1.3" fill="#00BFC4"/>
<text x="540.8" y="123.0" font-size="3.0" fill="#444">HS</text><text x="540.8" y="128.6" font-size="3.0" fill="#444">TN</text>
</g>
<g stroke="#333" stroke-width="0.3" stroke-opacity="0.5">
<line x1="373.6" y1="11.10" x2="375.3" y2="11.10"/>
<line x1="373.6" y1="55.20" x2="375.3" y2="55.20"/>
<line x1="373.6" y1="98.90" x2="375.3" y2="98.90"/>
<line x1="373.6" y1="142.60" x2="375.3" y2="142.60"/>
<line x1="373.6" y1="186.80" x2="375.3" y2="186.80"/>
<line x1="373.6" y1="230.40" x2="375.3" y2="230.40"/>
<line x1="389.50" y1="233.6" x2="389.50" y2="235"/>
<line x1="436.50" y1="233.6" x2="436.50" y2="235"/>
<line x1="483.50" y1="233.6" x2="483.50" y2="235"/>
</g>
<rect x="81.8" y="268.1" width="173.2" height="29.2" fill="#BDE3E4"/>
<rect x="72.3" y="317.2" width="190.3" height="51.8" fill="#BDE3E4"/>
<rect x="36.8" y="399.3" width="123.3" height="51.3" fill="#BDE3E4"/>
<rect x="166.7" y="399.3" width="119.4" height="51.4" fill="#BDE3E4"/>
<rect x="36.8" y="461.1" width="123.3" height="51.4" fill="#BDE3E4"/>
<rect x="166.7" y="461.1" width="119.4" height="51.4" fill="#BDE3E4"/>
<g font-family="Liberation Sans, sans-serif" font-size="18.80" text-anchor="middle">
<text transform="translate(168.30,289.70) scale(1,1.040)" fill="#000" stroke="#000" stroke-width="0.25">31878 AS events</text>
<text transform="translate(167.60,338.50) scale(1,1.040)" fill="#000" stroke="#000" stroke-width="0.25">3469 DS events</text>
<text transform="translate(167.60,361.20) scale(1,1.040)" fill="#F00000" stroke="#F00000" stroke-width="0.25">3143 unique genes</text>
<text transform="translate(99.20,420.50) scale(1,1.040)" fill="#000" stroke="#000" stroke-width="0.25">1 event</text>
<text transform="translate(98.80,443.10) scale(1,1.040)" fill="#F00000" stroke="#F00000" stroke-width="0.25">2731 genes</text>
<text transform="translate(227.40,420.50) scale(1,1.040)" fill="#000" stroke="#000" stroke-width="0.25">2 events</text>
<text transform="translate(227.00,443.10) scale(1,1.040)" fill="#F00000" stroke="#F00000" stroke-width="0.25">738 genes</text>
<text transform="translate(98.60,482.40) scale(1,1.040)" fill="#000" stroke="#000" stroke-width="0.25">3 events</text>
<text transform="translate(98.60,505.00) scale(1,1.040)" fill="#F00000" stroke="#F00000" stroke-width="0.25">114 genes</text>
<text transform="translate(226.40,482.40) scale(1,1.040)" fill="#000" stroke="#000" stroke-width="0.25">4 events</text>
<text transform="translate(226.30,505.00) scale(1,1.040)" fill="#F00000" stroke="#F00000" stroke-width="0.25">20 genes</text>
</g>
<text transform="translate(2.2,273.9)" font-family="Liberation Sans, sans-serif" font-size="15.5" font-weight="bold">C</text>
<g stroke="#111" stroke-width="1.15" fill="none">
<line x1="167.7" y1="297.3" x2="167.7" y2="313"/>
<line x1="167.4" y1="368.6" x2="101" y2="396.5"/>
<line x1="167.4" y1="368.6" x2="223.5" y2="397"/>
</g>
<polygon points="167.70,316.60 165.20,311.40 170.20,311.40" fill="#111"/>
<polygon points="98.70,398.30 102.48,393.94 104.47,398.53" fill="#111"/>
<polygon points="226.00,398.80 220.23,398.64 222.52,394.20" fill="#111"/>
<rect x="404.80" y="261.70" width="59.40" height="2.45" fill="#f1c2c2"/>
<rect x="464.20" y="261.70" width="59.80" height="2.45" fill="#dc6868"/>
<rect x="404.80" y="264.10" width="59.40" height="2.45" fill="#f4cfcf"/>
<rect x="464.20" y="264.10" width="59.80" height="2.45" fill="#d75353"/>
<rect x="404.80" y="266.50" width="59.40" height="2.45" fill="#9999cc"/>
<rect x="464.20" y="266.50" width="59.80" height="2.45" fill="#d75151"/>
<rect x="404.80" y="268.89" width="59.40" height="2.45" fill="#fefcfc"/>
<rect x="464.20" y="268.89" width="59.80" height="2.45" fill="#dd6c6c"/>
<rect x="404.80" y="271.29" width="59.40" height="2.45" fill="#fbeded"/>
<rect x="464.20" y="271.29" width="59.80" height="2.45" fill="#de7171"/>
<rect x="404.80" y="273.69" width="59.40" height="2.45" fill="#fbeded"/>
<rect x="464.20" y="273.69" width="59.80" height="2.45" fill="#e17d7d"/>
<rect x="404.80" y="276.09" width="59.40" height="2.45" fill="#f1f1f8"/>
<rect x="464.20" y="276.09" width="59.80" height="2.45" fill="#e58f8f"/>
<rect x="404.80" y="278.49" width="59.40" height="2.45" fill="#f4f4fa"/>
<rect x="464.20" y="278.49" width="59.80" height="2.45" fill="#e27f7f"/>
<rect x="404.80" y="280.88" width="59.40" height="2.45" fill="#d6d6eb"/>
<rect x="464.20" y="280.88" width="59.80" height="2.45" fill="#e89a9a"/>
<rect x="404.80" y="283.28" width="59.40" height="2.45" fill="#e8e8f4"/>
<rect x="464.20" y="283.28" width="59.80" height="2.45" fill="#e9a0a0"/>
<rect x="404.80" y="285.68" width="59.40" height="2.45" fill="#d5d5ea"/>
<rect x="464.20" y="285.68" width="59.80" height="2.45" fill="#ecacac"/>
<rect x="404.80" y="288.08" width="59.40" height="2.45" fill="#e9e9f4"/>
<rect x="464.20" y="288.08" width="59.80" height="2.45" fill="#ecadad"/>
<rect x="404.80" y="290.48" width="59.40" height="2.45" fill="#f2f2f8"/>
<rect x="464.20" y="290.48" width="59.80" height="2.45" fill="#eeb6b6"/>
<rect x="404.80" y="292.87" width="59.40" height="2.45" fill="#e0e0f0"/>
<rect x="464.20" y="292.87" width="59.80" height="2.45" fill="#efb8b8"/>
<rect x="404.80" y="295.27" width="59.40" height="2.45" fill="#d03333"/>
<rect x="464.20" y="295.27" width="59.80" height="2.45" fill="#f5d5d5"/>
<rect x="404.80" y="297.67" width="59.40" height="2.45" fill="#d13636"/>
<rect x="464.20" y="297.67" width="59.80" height="2.45" fill="#eeb4b4"/>
<rect x="404.80" y="300.07" width="59.40" height="2.45" fill="#d64d4d"/>
<rect x="464.20" y="300.07" width="59.80" height="2.45" fill="#f0bebe"/>
<rect x="404.80" y="302.47" width="59.40" height="2.45" fill="#d13737"/>
<rect x="464.20" y="302.47" width="59.80" height="2.45" fill="#f5d2d2"/>
<rect x="404.80" y="304.86" width="59.40" height="2.45" fill="#df7575"/>
<rect x="464.20" y="304.86" width="59.80" height="2.45" fill="#fffdfd"/>
<rect x="404.80" y="307.26" width="59.40" height="2.45" fill="#de6e6e"/>
<rect x="464.20" y="307.26" width="59.80" height="2.45" fill="#f0f0f7"/>
<rect x="404.80" y="309.66" width="59.40" height="2.45" fill="#df7474"/>
<rect x="464.20" y="309.66" width="59.80" height="2.45" fill="#f7f7fb"/>
<rect x="404.80" y="312.06" width="59.40" height="2.45" fill="#db6363"/>
<rect x="464.20" y="312.06" width="59.80" height="2.45" fill="#fcf1f1"/>
<rect x="404.80" y="314.46" width="59.40" height="2.45" fill="#dd6d6d"/>
<rect x="464.20" y="314.46" width="59.80" height="2.45" fill="#fcf4f4"/>
<rect x="404.80" y="316.85" width="59.40" height="2.45" fill="#f0bebe"/>
<rect x="464.20" y="316.85" width="59.80" height="2.45" fill="#e7e7f3"/>
<rect x="404.80" y="319.25" width="59.40" height="2.45" fill="#ecaeae"/>
<rect x="464.20" y="319.25" width="59.80" height="2.45" fill="#ddddee"/>
<rect x="404.80" y="321.65" width="59.40" height="2.45" fill="#eaa5a5"/>
<rect x="464.20" y="321.65" width="59.80" height="2.45" fill="#efeff7"/>
<rect x="404.80" y="324.05" width="59.40" height="2.45" fill="#db6464"/>
<rect x="464.20" y="324.05" width="59.80" height="2.45" fill="#f6d9d9"/>
<rect x="404.80" y="326.45" width="59.40" height="2.45" fill="#dc6767"/>
<rect x="464.20" y="326.45" width="59.80" height="2.45" fill="#fbeeee"/>
<rect x="404.80" y="328.84" width="59.40" height="2.45" fill="#db6161"/>
<rect x="464.20" y="328.84" width="59.80" height="2.45" fill="#bdbdde"/>
<rect x="404.80" y="331.24" width="59.40" height="2.45" fill="#d64b4b"/>
<rect x="464.20" y="331.24" width="59.80" height="2.45" fill="#f3cbcb"/>
<rect x="404.80" y="333.64" width="59.40" height="2.45" fill="#9b9bcd"/>
<rect x="464.20" y="333.64" width="59.80" height="2.45" fill="#f3caca"/>
<rect x="404.80" y="336.04" width="59.40" height="2.45" fill="#8d8dc6"/>
<rect x="464.20" y="336.04" width="59.80" height="2.45" fill="#eba8a8"/>
<rect x="404.80" y="338.44" width="59.40" height="2.45" fill="#e3e3f1"/>
<rect x="464.20" y="338.44" width="59.80" height="2.45" fill="#efb8b8"/>
<rect x="404.80" y="340.83" width="59.40" height="2.45" fill="#e1e1f0"/>
<rect x="464.20" y="340.83" width="59.80" height="2.45" fill="#ecadad"/>
<rect x="404.80" y="343.23" width="59.40" height="2.45" fill="#cbcbe5"/>
<rect x="464.20" y="343.23" width="59.80" height="2.45" fill="#f2c7c7"/>
<rect x="404.80" y="345.63" width="59.40" height="2.45" fill="#7e7ebf"/>
<rect x="464.20" y="345.63" width="59.80" height="2.45" fill="#ddddee"/>
<rect x="404.80" y="348.03" width="59.40" height="2.45" fill="#9898cc"/>
<rect x="464.20" y="348.03" width="59.80" height="2.45" fill="#f1f1f8"/>
<rect x="404.80" y="350.43" width="59.40" height="2.45" fill="#9494c9"/>
<rect x="464.20" y="350.43" width="59.80" height="2.45" fill="#fafafd"/>
<rect x="404.80" y="352.82" width="59.40" height="2.45" fill="#8a8ac5"/>
<rect x="464.20" y="352.82" width="59.80" height="2.45" fill="#e0e0f0"/>
<rect x="404.80" y="355.22" width="59.40" height="2.45" fill="#8484c2"/>
<rect x="464.20" y="355.22" width="59.80" height="2.45" fill="#d4d4e9"/>
<rect x="404.80" y="357.62" width="59.40" height="2.45" fill="#8d8dc6"/>
<rect x="464.20" y="357.62" width="59.80" height="2.45" fill="#f9f9fc"/>
<rect x="404.80" y="360.02" width="59.40" height="2.45" fill="#9595ca"/>
<rect x="464.20" y="360.02" width="59.80" height="2.45" fill="#fbfbfd"/>
<rect x="404.80" y="362.42" width="59.40" height="2.45" fill="#8c8cc6"/>
<rect x="464.20" y="362.42" width="59.80" height="2.45" fill="#fcf1f1"/>
<rect x="404.80" y="364.81" width="59.40" height="2.45" fill="#8d8dc6"/>
<rect x="464.20" y="364.81" width="59.80" height="2.45" fill="#f5f5fa"/>
<rect x="404.80" y="367.21" width="59.40" height="2.45" fill="#9595ca"/>
<rect x="464.20" y="367.21" width="59.80" height="2.45" fill="#fcf2f2"/>
<rect x="404.80" y="369.61" width="59.40" height="2.45" fill="#a7a7d3"/>
<rect x="464.20" y="369.61" width="59.80" height="2.45" fill="#f2c5c5"/>
<rect x="404.80" y="372.01" width="59.40" height="2.45" fill="#9b9bcd"/>
<rect x="464.20" y="372.01" width="59.80" height="2.45" fill="#f3caca"/>
<rect x="404.80" y="374.41" width="59.40" height="2.45" fill="#8d8dc6"/>
<rect x="464.20" y="374.41" width="59.80" height="2.45" fill="#f6d8d8"/>
<rect x="404.80" y="376.80" width="59.40" height="2.45" fill="#8c8cc6"/>
<rect x="464.20" y="376.80" width="59.80" height="2.45" fill="#f3caca"/>
<rect x="404.80" y="379.20" width="59.40" height="2.45" fill="#8f8fc7"/>
<rect x="464.20" y="379.20" width="59.80" height="2.45" fill="#fef9f9"/>
<rect x="404.80" y="381.60" width="59.40" height="2.45" fill="#f6d9d9"/>
<rect x="464.20" y="381.60" width="59.80" height="2.45" fill="#ababd5"/>
<rect x="404.80" y="384.00" width="59.40" height="2.45" fill="#f6d9d9"/>
<rect x="464.20" y="384.00" width="59.80" height="2.45" fill="#b0b0d8"/>
<rect x="404.80" y="386.40" width="59.40" height="2.45" fill="#f4cdcd"/>
<rect x="464.20" y="386.40" width="59.80" height="2.45" fill="#c5c5e2"/>
<rect x="404.80" y="388.79" width="59.40" height="2.45" fill="#f7dede"/>
<rect x="464.20" y="388.79" width="59.80" height="2.45" fill="#7575ba"/>
<rect x="404.80" y="391.19" width="59.40" height="2.45" fill="#f4cece"/>
<rect x="464.20" y="391.19" width="59.80" height="2.45" fill="#9797cb"/>
<rect x="404.80" y="393.59" width="59.40" height="2.45" fill="#f5d3d3"/>
<rect x="464.20" y="393.59" width="59.80" height="2.45" fill="#9393c9"/>
<rect x="404.80" y="395.99" width="59.40" height="2.45" fill="#f2c5c5"/>
<rect x="464.20" y="395.99" width="59.80" height="2.45" fill="#9b9bcd"/>
<rect x="404.80" y="398.39" width="59.40" height="2.45" fill="#f1c4c4"/>
<rect x="464.20" y="398.39" width="59.80" height="2.45" fill="#7f7fbf"/>
<rect x="404.80" y="400.78" width="59.40" height="2.45" fill="#f2c6c6"/>
<rect x="464.20" y="400.78" width="59.80" height="2.45" fill="#7878bc"/>
<rect x="404.80" y="403.18" width="59.40" height="2.45" fill="#d9d9ec"/>
<rect x="464.20" y="403.18" width="59.80" height="2.45" fill="#6262b1"/>
<rect x="404.80" y="405.58" width="59.40" height="2.45" fill="#cbcbe5"/>
<rect x="464.20" y="405.58" width="59.80" height="2.45" fill="#7d7dbe"/>
<rect x="404.80" y="407.98" width="59.40" height="2.45" fill="#d8d8ec"/>
<rect x="464.20" y="407.98" width="59.80" height="2.45" fill="#8484c2"/>
<rect x="404.80" y="410.38" width="59.40" height="2.45" fill="#e6e6f3"/>
<rect x="464.20" y="410.38" width="59.80" height="2.45" fill="#7777bb"/>
<rect x="404.80" y="412.77" width="59.40" height="2.45" fill="#f1f1f8"/>
<rect x="464.20" y="412.77" width="59.80" height="2.45" fill="#6d6db6"/>
<rect x="404.80" y="415.17" width="59.40" height="2.45" fill="#e6e6f2"/>
<rect x="464.20" y="415.17" width="59.80" height="2.45" fill="#6464b2"/>
<rect x="404.80" y="417.57" width="59.40" height="2.45" fill="#fefcfc"/>
<rect x="464.20" y="417.57" width="59.80" height="2.45" fill="#7e7ebf"/>
<rect x="404.80" y="419.97" width="59.40" height="2.45" fill="#f0f0f8"/>
<rect x="464.20" y="419.97" width="59.80" height="2.45" fill="#7f7fbf"/>
<rect x="404.80" y="422.37" width="59.40" height="2.45" fill="#f9f9fc"/>
<rect x="464.20" y="422.37" width="59.80" height="2.45" fill="#5b5bad"/>
<rect x="404.80" y="424.76" width="59.40" height="2.45" fill="#fae7e7"/>
<rect x="464.20" y="424.76" width="59.80" height="2.45" fill="#a1a1d0"/>
<rect x="404.80" y="427.16" width="59.40" height="2.45" fill="#f8f8fc"/>
<rect x="464.20" y="427.16" width="59.80" height="2.45" fill="#bdbdde"/>
<rect x="404.80" y="429.56" width="59.40" height="2.45" fill="#fcf3f3"/>
<rect x="464.20" y="429.56" width="59.80" height="2.45" fill="#8484c2"/>
<rect x="404.80" y="431.96" width="59.40" height="2.45" fill="#fcf4f4"/>
<rect x="464.20" y="431.96" width="59.80" height="2.45" fill="#6b6bb5"/>
<rect x="404.80" y="434.36" width="59.40" height="2.45" fill="#222291"/>
<rect x="464.20" y="434.36" width="59.80" height="2.45" fill="#6a6ab5"/>
<rect x="404.80" y="436.75" width="59.40" height="2.45" fill="#16168b"/>
<rect x="464.20" y="436.75" width="59.80" height="2.45" fill="#8e8ec7"/>
<rect x="404.80" y="439.15" width="59.40" height="2.45" fill="#1c1c8e"/>
<rect x="464.20" y="439.15" width="59.80" height="2.45" fill="#9393c9"/>
<rect x="404.80" y="441.55" width="59.40" height="2.45" fill="#030382"/>
<rect x="464.20" y="441.55" width="59.80" height="2.45" fill="#7e7ebf"/>
<rect x="404.80" y="443.95" width="59.40" height="2.45" fill="#030382"/>
<rect x="464.20" y="443.95" width="59.80" height="2.45" fill="#a1a1d0"/>
<rect x="404.80" y="446.35" width="59.40" height="2.45" fill="#38389c"/>
<rect x="464.20" y="446.35" width="59.80" height="2.45" fill="#9292c9"/>
<rect x="404.80" y="448.74" width="59.40" height="2.45" fill="#35359b"/>
<rect x="464.20" y="448.74" width="59.80" height="2.45" fill="#9e9ecf"/>
<rect x="404.80" y="451.14" width="59.40" height="2.45" fill="#333399"/>
<rect x="464.20" y="451.14" width="59.80" height="2.45" fill="#8484c2"/>
<rect x="404.80" y="453.54" width="59.40" height="2.45" fill="#34349a"/>
<rect x="464.20" y="453.54" width="59.80" height="2.45" fill="#a6a6d3"/>
<rect x="404.80" y="455.94" width="59.40" height="2.45" fill="#4848a4"/>
<rect x="464.20" y="455.94" width="59.80" height="2.45" fill="#9d9dce"/>
<rect x="404.80" y="458.34" width="59.40" height="2.45" fill="#37379b"/>
<rect x="464.20" y="458.34" width="59.80" height="2.45" fill="#e6e6f3"/>
<rect x="404.80" y="460.73" width="59.40" height="2.45" fill="#5b5bad"/>
<rect x="464.20" y="460.73" width="59.80" height="2.45" fill="#fefcfc"/>
<rect x="404.80" y="463.13" width="59.40" height="2.45" fill="#4e4ea7"/>
<rect x="464.20" y="463.13" width="59.80" height="2.45" fill="#f7f7fb"/>
<rect x="404.80" y="465.53" width="59.40" height="2.45" fill="#4747a4"/>
<rect x="464.20" y="465.53" width="59.80" height="2.45" fill="#fdfdfe"/>
<rect x="404.80" y="467.93" width="59.40" height="2.45" fill="#f2c6c6"/>
<rect x="464.20" y="467.93" width="59.80" height="2.45" fill="#d9d9ec"/>
<rect x="404.80" y="470.33" width="59.40" height="2.45" fill="#fafafc"/>
<rect x="464.20" y="470.33" width="59.80" height="2.45" fill="#000080"/>
<rect x="404.80" y="472.72" width="59.40" height="2.45" fill="#fae9e9"/>
<rect x="464.20" y="472.72" width="59.80" height="2.45" fill="#1d1d8e"/>
<rect x="404.80" y="475.12" width="59.40" height="2.45" fill="#fbeded"/>
<rect x="464.20" y="475.12" width="59.80" height="2.45" fill="#080884"/>
<rect x="404.80" y="477.52" width="59.40" height="2.45" fill="#7373b9"/>
<rect x="464.20" y="477.52" width="59.80" height="2.45" fill="#121289"/>
<rect x="404.80" y="479.92" width="59.40" height="2.45" fill="#6767b3"/>
<rect x="464.20" y="479.92" width="59.80" height="2.45" fill="#010181"/>
<rect x="404.80" y="482.32" width="59.40" height="2.45" fill="#7878bc"/>
<rect x="464.20" y="482.32" width="59.80" height="2.45" fill="#282894"/>
<rect x="404.80" y="484.71" width="59.40" height="2.45" fill="#b3b3d9"/>
<rect x="464.20" y="484.71" width="59.80" height="2.45" fill="#4b4ba6"/>
<rect x="404.80" y="487.11" width="59.40" height="2.45" fill="#b0b0d7"/>
<rect x="464.20" y="487.11" width="59.80" height="2.45" fill="#5b5bad"/>
<rect x="404.80" y="489.51" width="59.40" height="2.45" fill="#bbbbdd"/>
<rect x="464.20" y="489.51" width="59.80" height="2.45" fill="#38389c"/>
<rect x="404.80" y="491.91" width="59.40" height="2.45" fill="#aeaed7"/>
<rect x="464.20" y="491.91" width="59.80" height="2.45" fill="#4a4aa5"/>
<rect x="404.80" y="494.31" width="59.40" height="2.45" fill="#a2a2d1"/>
<rect x="464.20" y="494.31" width="59.80" height="2.45" fill="#37379b"/>
<rect x="404.80" y="496.70" width="59.40" height="2.45" fill="#ababd5"/>
<rect x="464.20" y="496.70" width="59.80" height="2.45" fill="#5d5dae"/>
<rect x="404.80" y="499.10" width="59.40" height="2.45" fill="#9a9acd"/>
<rect x="464.20" y="499.10" width="59.80" height="2.45" fill="#4949a4"/>
<rect x="527.5" y="262.1" width="6.3" height="90.6" fill="url(#gD)"/>
<g font-family="Liberation Sans, sans-serif" font-size="6.6" fill="#222">
<text x="535.6" y="274.9">0.8</text>
<text x="535.6" y="295.1">0.6</text>
<text x="535.6" y="315.4">0.4</text>
<text x="535.6" y="335.7">0.2</text>
</g>
<text transform="translate(350.0,273.6)" font-family="Liberation Sans, sans-serif" font-size="15.5" font-weight="bold">D</text>
<text transform="translate(368.0,353.4) rotate(-90)" text-anchor="middle" font-family="Liberation Sans, sans-serif" font-size="13.6">Top 100 DS events</text>
<text transform="translate(432,503.6) rotate(90)" font-family="Liberation Sans, sans-serif" font-size="6">TN</text>
<text transform="translate(492.4,503.6) rotate(90)" font-family="Liberation Sans, sans-serif" font-size="6">HS</text>
<g stroke="#707070" stroke-width="0.60" fill="none">
<polyline points="404.80,262.90 403.30,262.90 403.30,265.30 404.80,265.30"/>
<polyline points="404.80,267.69 403.95,267.69 403.95,270.09 404.80,270.09"/>
<polyline points="404.80,272.49 403.40,272.49 403.40,274.89 404.80,274.89"/>
<polyline points="403.95,268.89 401.80,268.89 401.80,273.69 403.40,273.69"/>
<polyline points="404.80,282.08 403.18,282.08 403.18,284.48 404.80,284.48"/>
<polyline points="404.80,279.69 401.70,279.69 401.70,283.28 403.18,283.28"/>
<polyline points="404.80,277.29 401.03,277.29 401.03,281.48 401.70,281.48"/>
<polyline points="401.80,271.29 399.19,271.29 399.19,279.39 401.03,279.39"/>
<polyline points="404.80,286.88 403.99,286.88 403.99,289.28 404.80,289.28"/>
<polyline points="403.99,288.08 403.35,288.08 403.35,291.68 404.80,291.68"/>
<polyline points="403.35,289.88 402.07,289.88 402.07,294.07 404.80,294.07"/>
<polyline points="399.19,275.34 398.50,275.34 398.50,291.97 402.07,291.97"/>
<polyline points="403.30,264.10 393.40,264.10 393.40,283.66 398.50,283.66"/>
<polyline points="404.80,296.47 403.52,296.47 403.52,298.87 404.80,298.87"/>
<polyline points="404.80,301.27 402.53,301.27 402.53,303.66 404.80,303.66"/>
<polyline points="403.52,297.67 399.30,297.67 399.30,302.47 402.53,302.47"/>
<polyline points="404.80,308.46 402.57,308.46 402.57,310.86 404.80,310.86"/>
<polyline points="404.80,306.06 400.75,306.06 400.75,309.66 402.57,309.66"/>
<polyline points="404.80,313.26 401.67,313.26 401.67,315.65 404.80,315.65"/>
<polyline points="401.67,314.46 398.86,314.46 398.86,318.05 404.80,318.05"/>
<polyline points="400.75,307.86 396.96,307.86 396.96,316.25 398.86,316.25"/>
<polyline points="404.80,320.45 403.47,320.45 403.47,322.85 404.80,322.85"/>
<polyline points="404.80,325.25 401.66,325.25 401.66,327.64 404.80,327.64"/>
<polyline points="404.80,330.04 401.40,330.04 401.40,332.44 404.80,332.44"/>
<polyline points="401.66,326.45 398.26,326.45 398.26,331.24 401.40,331.24"/>
<polyline points="403.47,321.65 397.09,321.65 397.09,328.84 398.26,328.84"/>
<polyline points="396.96,312.06 395.30,312.06 395.30,325.25 397.09,325.25"/>
<polyline points="399.30,300.07 390.60,300.07 390.60,318.65 395.30,318.65"/>
<polyline points="393.40,273.88 385.00,273.88 385.00,309.36 390.60,309.36"/>
<polyline points="404.80,337.24 402.80,337.24 402.80,339.63 404.80,339.63"/>
<polyline points="404.80,334.84 401.52,334.84 401.52,338.44 402.80,338.44"/>
<polyline points="404.80,342.03 401.95,342.03 401.95,344.43 404.80,344.43"/>
<polyline points="401.52,336.64 399.80,336.64 399.80,343.23 401.95,343.23"/>
<polyline points="404.80,346.83 403.31,346.83 403.31,349.23 404.80,349.23"/>
<polyline points="404.80,354.02 404.09,354.02 404.09,356.42 404.80,356.42"/>
<polyline points="404.80,351.62 403.42,351.62 403.42,355.22 404.09,355.22"/>
<polyline points="403.31,348.03 401.77,348.03 401.77,353.42 403.42,353.42"/>
<polyline points="404.80,358.82 403.98,358.82 403.98,361.22 404.80,361.22"/>
<polyline points="404.80,363.62 404.05,363.62 404.05,366.01 404.80,366.01"/>
<polyline points="403.98,360.02 402.63,360.02 402.63,364.81 404.05,364.81"/>
<polyline points="404.80,368.41 403.96,368.41 403.96,370.81 404.80,370.81"/>
<polyline points="404.80,373.21 403.26,373.21 403.26,375.61 404.80,375.61"/>
<polyline points="404.80,378.00 403.16,378.00 403.16,380.40 404.80,380.40"/>
<polyline points="403.26,374.41 402.32,374.41 402.32,379.20 403.16,379.20"/>
<polyline points="403.96,369.61 401.26,369.61 401.26,376.80 402.32,376.80"/>
<polyline points="402.63,362.42 399.65,362.42 399.65,373.21 401.26,373.21"/>
<polyline points="401.77,350.73 398.30,350.73 398.30,367.81 399.65,367.81"/>
<polyline points="399.80,339.93 396.40,339.93 396.40,359.27 398.30,359.27"/>
<polyline points="404.80,382.80 403.73,382.80 403.73,385.20 404.80,385.20"/>
<polyline points="403.73,384.00 401.94,384.00 401.94,387.60 404.80,387.60"/>
<polyline points="404.80,392.39 403.97,392.39 403.97,394.79 404.80,394.79"/>
<polyline points="404.80,389.99 402.45,389.99 402.45,393.59 403.97,393.59"/>
<polyline points="404.80,399.59 403.57,399.59 403.57,401.98 404.80,401.98"/>
<polyline points="404.80,397.19 402.23,397.19 402.23,400.78 403.57,400.78"/>
<polyline points="402.45,391.79 400.18,391.79 400.18,398.99 402.23,398.99"/>
<polyline points="401.94,385.80 398.80,385.80 398.80,395.39 400.18,395.39"/>
<polyline points="404.80,404.38 403.07,404.38 403.07,406.78 404.80,406.78"/>
<polyline points="404.80,409.18 403.95,409.18 403.95,411.57 404.80,411.57"/>
<polyline points="403.95,410.38 402.43,410.38 402.43,413.97 404.80,413.97"/>
<polyline points="403.07,405.58 400.67,405.58 400.67,412.17 402.43,412.17"/>
<polyline points="404.80,416.37 403.02,416.37 403.02,418.77 404.80,418.77"/>
<polyline points="400.67,408.88 398.97,408.88 398.97,417.57 403.02,417.57"/>
<polyline points="404.80,423.56 404.14,423.56 404.14,425.96 404.80,425.96"/>
<polyline points="404.80,421.17 402.35,421.17 402.35,424.76 404.14,424.76"/>
<polyline points="404.80,430.76 403.87,430.76 403.87,433.16 404.80,433.16"/>
<polyline points="404.80,428.36 402.25,428.36 402.25,431.96 403.87,431.96"/>
<polyline points="402.35,422.97 400.90,422.97 400.90,430.16 402.25,430.16"/>
<polyline points="398.97,413.22 398.00,413.22 398.00,426.56 400.90,426.56"/>
<polyline points="398.80,390.59 395.70,390.59 395.70,419.89 398.00,419.89"/>
<polyline points="396.40,349.60 389.40,349.60 389.40,405.24 395.70,405.24"/>
<polyline points="404.80,435.56 403.84,435.56 403.84,437.95 404.80,437.95"/>
<polyline points="404.80,442.75 402.51,442.75 402.51,445.15 404.80,445.15"/>
<polyline points="404.80,440.35 400.62,440.35 400.62,443.95 402.51,443.95"/>
<polyline points="403.84,436.75 399.30,436.75 399.30,442.15 400.62,442.15"/>
<polyline points="404.80,447.54 403.32,447.54 403.32,449.94 404.80,449.94"/>
<polyline points="404.80,452.34 403.50,452.34 403.50,454.74 404.80,454.74"/>
<polyline points="404.80,457.14 402.74,457.14 402.74,459.53 404.80,459.53"/>
<polyline points="403.50,453.54 401.53,453.54 401.53,458.34 402.74,458.34"/>
<polyline points="403.32,448.74 399.88,448.74 399.88,455.94 401.53,455.94"/>
<polyline points="404.80,461.93 402.58,461.93 402.58,464.33 404.80,464.33"/>
<polyline points="402.58,463.13 400.30,463.13 400.30,466.73 404.80,466.73"/>
<polyline points="399.88,452.34 397.80,452.34 397.80,464.93 400.30,464.93"/>
<polyline points="399.30,439.45 393.90,439.45 393.90,458.64 397.80,458.64"/>
<polyline points="404.80,473.92 403.07,473.92 403.07,476.32 404.80,476.32"/>
<polyline points="404.80,471.52 401.60,471.52 401.60,475.12 403.07,475.12"/>
<polyline points="404.80,469.13 399.80,469.13 399.80,473.32 401.60,473.32"/>
<polyline points="404.80,478.72 403.33,478.72 403.33,481.12 404.80,481.12"/>
<polyline points="403.33,479.92 402.35,479.92 402.35,483.51 404.80,483.51"/>
<polyline points="404.80,485.91 403.32,485.91 403.32,488.31 404.80,488.31"/>
<polyline points="404.80,490.71 403.36,490.71 403.36,493.11 404.80,493.11"/>
<polyline points="403.36,491.91 401.81,491.91 401.81,495.50 404.80,495.50"/>
<polyline points="403.32,487.11 400.12,487.11 400.12,493.71 401.81,493.71"/>
<polyline points="404.80,497.90 403.38,497.90 403.38,500.30 404.80,500.30"/>
<polyline points="400.12,490.41 398.44,490.41 398.44,499.10 403.38,499.10"/>
<polyline points="402.35,481.72 396.80,481.72 396.80,494.76 398.44,494.76"/>
<polyline points="399.80,471.23 391.70,471.23 391.70,488.24 396.80,488.24"/>
<polyline points="393.90,449.04 387.40,449.04 387.40,479.73 391.70,479.73"/>
<polyline points="389.40,377.42 384.00,377.42 384.00,464.39 387.40,464.39"/>
<polyline points="385.00,291.62 372.50,291.62 372.50,420.90 384.00,420.90"/>
</g>
</svg></body></html>
